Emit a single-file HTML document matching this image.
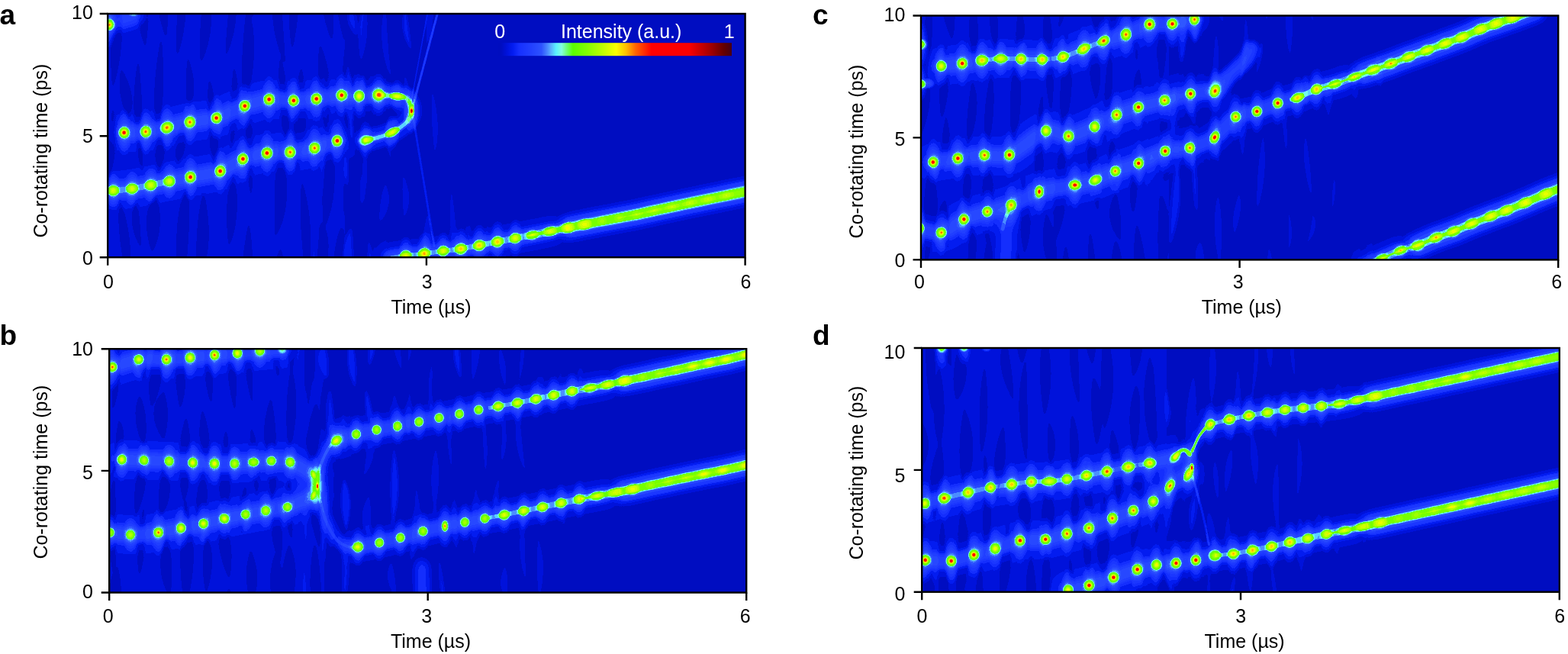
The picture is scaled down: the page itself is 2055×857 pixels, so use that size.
<!DOCTYPE html>
<html lang="en"><head><meta charset="utf-8"><title>Soliton dynamics</title>
<style>html,body{margin:0;padding:0;background:#fff}body{width:2055px;height:857px;overflow:hidden}svg{display:block}text{font-family:"Liberation Sans",Arial,Helvetica,sans-serif;fill:#000}.lab{font-size:25px}.pl{font-size:37px;font-weight:bold}.w{fill:#fff}</style>
</head><body>
<svg width="2055" height="857" viewBox="0 0 2055 857">
<defs>
<filter id="jeta" filterUnits="userSpaceOnUse" x="121" y="-2" width="875" height="359" color-interpolation-filters="sRGB">
<feGaussianBlur stdDeviation="0.7"/>
<feComponentTransfer><feFuncR type="discrete" tableValues="0.000 0.000 0.012 0.080 0.107 0.131 0.155 0.187 0.295 0.353 0.454 0.451 0.375 0.399 0.466 0.539 0.626 0.712 0.808 0.909 0.984 0.995 1.000 1.000 1.000 1.000 0.999 0.996 0.993 0.990 0.987 0.984 0.981 0.906 0.811 0.720 0.629 0.521 0.412 0.319"/><feFuncG type="discrete" tableValues="0.051 0.071 0.110 0.181 0.216 0.248 0.286 0.342 0.557 0.831 0.979 1.000 1.000 1.000 1.000 1.000 1.000 1.000 1.000 1.000 0.956 0.807 0.617 0.397 0.252 0.107 0.000 0.000 0.000 0.000 0.000 0.000 0.000 0.000 0.000 0.000 0.000 0.000 0.000 0.000"/><feFuncB type="discrete" tableValues="0.757 0.859 0.945 0.995 1.000 1.000 1.000 1.000 1.000 1.000 0.924 0.574 0.131 0.000 0.000 0.000 0.000 0.000 0.000 0.000 0.000 0.000 0.000 0.000 0.000 0.000 0.000 0.000 0.000 0.000 0.000 0.000 0.000 0.000 0.000 0.000 0.000 0.000 0.000 0.049"/><feFuncA type="linear" slope="0" intercept="1"/></feComponentTransfer>
<feGaussianBlur stdDeviation="0.55"/>
</filter>
<filter id="b2a" filterUnits="userSpaceOnUse" x="121" y="-2" width="875" height="359" color-interpolation-filters="sRGB"><feGaussianBlur stdDeviation="1.6"/></filter>
<filter id="b3a" filterUnits="userSpaceOnUse" x="121" y="-2" width="875" height="359" color-interpolation-filters="sRGB"><feGaussianBlur stdDeviation="3"/></filter>
<filter id="b6a" filterUnits="userSpaceOnUse" x="121" y="-2" width="875" height="359" color-interpolation-filters="sRGB"><feGaussianBlur stdDeviation="6"/></filter>
<filter id="jetb" filterUnits="userSpaceOnUse" x="123" y="437" width="875" height="359" color-interpolation-filters="sRGB">
<feGaussianBlur stdDeviation="0.7"/>
<feComponentTransfer><feFuncR type="discrete" tableValues="0.000 0.000 0.012 0.080 0.107 0.131 0.155 0.187 0.295 0.353 0.454 0.451 0.375 0.399 0.466 0.539 0.626 0.712 0.808 0.909 0.984 0.995 1.000 1.000 1.000 1.000 0.999 0.996 0.993 0.990 0.987 0.984 0.981 0.906 0.811 0.720 0.629 0.521 0.412 0.319"/><feFuncG type="discrete" tableValues="0.051 0.071 0.110 0.181 0.216 0.248 0.286 0.342 0.557 0.831 0.979 1.000 1.000 1.000 1.000 1.000 1.000 1.000 1.000 1.000 0.956 0.807 0.617 0.397 0.252 0.107 0.000 0.000 0.000 0.000 0.000 0.000 0.000 0.000 0.000 0.000 0.000 0.000 0.000 0.000"/><feFuncB type="discrete" tableValues="0.757 0.859 0.945 0.995 1.000 1.000 1.000 1.000 1.000 1.000 0.924 0.574 0.131 0.000 0.000 0.000 0.000 0.000 0.000 0.000 0.000 0.000 0.000 0.000 0.000 0.000 0.000 0.000 0.000 0.000 0.000 0.000 0.000 0.000 0.000 0.000 0.000 0.000 0.000 0.049"/><feFuncA type="linear" slope="0" intercept="1"/></feComponentTransfer>
<feGaussianBlur stdDeviation="0.55"/>
</filter>
<filter id="b2b" filterUnits="userSpaceOnUse" x="123" y="437" width="875" height="359" color-interpolation-filters="sRGB"><feGaussianBlur stdDeviation="1.6"/></filter>
<filter id="b3b" filterUnits="userSpaceOnUse" x="123" y="437" width="875" height="359" color-interpolation-filters="sRGB"><feGaussianBlur stdDeviation="3"/></filter>
<filter id="b6b" filterUnits="userSpaceOnUse" x="123" y="437" width="875" height="359" color-interpolation-filters="sRGB"><feGaussianBlur stdDeviation="6"/></filter>
<filter id="jetc" filterUnits="userSpaceOnUse" x="1187" y="0" width="875" height="360" color-interpolation-filters="sRGB">
<feGaussianBlur stdDeviation="0.7"/>
<feComponentTransfer><feFuncR type="discrete" tableValues="0.000 0.000 0.012 0.080 0.107 0.131 0.155 0.187 0.295 0.353 0.454 0.451 0.375 0.399 0.466 0.539 0.626 0.712 0.808 0.909 0.984 0.995 1.000 1.000 1.000 1.000 0.999 0.996 0.993 0.990 0.987 0.984 0.981 0.906 0.811 0.720 0.629 0.521 0.412 0.319"/><feFuncG type="discrete" tableValues="0.051 0.071 0.110 0.181 0.216 0.248 0.286 0.342 0.557 0.831 0.979 1.000 1.000 1.000 1.000 1.000 1.000 1.000 1.000 1.000 0.956 0.807 0.617 0.397 0.252 0.107 0.000 0.000 0.000 0.000 0.000 0.000 0.000 0.000 0.000 0.000 0.000 0.000 0.000 0.000"/><feFuncB type="discrete" tableValues="0.757 0.859 0.945 0.995 1.000 1.000 1.000 1.000 1.000 1.000 0.924 0.574 0.131 0.000 0.000 0.000 0.000 0.000 0.000 0.000 0.000 0.000 0.000 0.000 0.000 0.000 0.000 0.000 0.000 0.000 0.000 0.000 0.000 0.000 0.000 0.000 0.000 0.000 0.000 0.049"/><feFuncA type="linear" slope="0" intercept="1"/></feComponentTransfer>
<feGaussianBlur stdDeviation="0.55"/>
</filter>
<filter id="b2c" filterUnits="userSpaceOnUse" x="1187" y="0" width="875" height="360" color-interpolation-filters="sRGB"><feGaussianBlur stdDeviation="1.6"/></filter>
<filter id="b3c" filterUnits="userSpaceOnUse" x="1187" y="0" width="875" height="360" color-interpolation-filters="sRGB"><feGaussianBlur stdDeviation="3"/></filter>
<filter id="b6c" filterUnits="userSpaceOnUse" x="1187" y="0" width="875" height="360" color-interpolation-filters="sRGB"><feGaussianBlur stdDeviation="6"/></filter>
<filter id="jetd" filterUnits="userSpaceOnUse" x="1188" y="436" width="876" height="360" color-interpolation-filters="sRGB">
<feGaussianBlur stdDeviation="0.7"/>
<feComponentTransfer><feFuncR type="discrete" tableValues="0.000 0.000 0.012 0.080 0.107 0.131 0.155 0.187 0.295 0.353 0.454 0.451 0.375 0.399 0.466 0.539 0.626 0.712 0.808 0.909 0.984 0.995 1.000 1.000 1.000 1.000 0.999 0.996 0.993 0.990 0.987 0.984 0.981 0.906 0.811 0.720 0.629 0.521 0.412 0.319"/><feFuncG type="discrete" tableValues="0.051 0.071 0.110 0.181 0.216 0.248 0.286 0.342 0.557 0.831 0.979 1.000 1.000 1.000 1.000 1.000 1.000 1.000 1.000 1.000 0.956 0.807 0.617 0.397 0.252 0.107 0.000 0.000 0.000 0.000 0.000 0.000 0.000 0.000 0.000 0.000 0.000 0.000 0.000 0.000"/><feFuncB type="discrete" tableValues="0.757 0.859 0.945 0.995 1.000 1.000 1.000 1.000 1.000 1.000 0.924 0.574 0.131 0.000 0.000 0.000 0.000 0.000 0.000 0.000 0.000 0.000 0.000 0.000 0.000 0.000 0.000 0.000 0.000 0.000 0.000 0.000 0.000 0.000 0.000 0.000 0.000 0.000 0.000 0.049"/><feFuncA type="linear" slope="0" intercept="1"/></feComponentTransfer>
<feGaussianBlur stdDeviation="0.55"/>
</filter>
<filter id="b2d" filterUnits="userSpaceOnUse" x="1188" y="436" width="876" height="360" color-interpolation-filters="sRGB"><feGaussianBlur stdDeviation="1.6"/></filter>
<filter id="b3d" filterUnits="userSpaceOnUse" x="1188" y="436" width="876" height="360" color-interpolation-filters="sRGB"><feGaussianBlur stdDeviation="3"/></filter>
<filter id="b6d" filterUnits="userSpaceOnUse" x="1188" y="436" width="876" height="360" color-interpolation-filters="sRGB"><feGaussianBlur stdDeviation="6"/></filter>
<radialGradient id="r"><stop offset="0.000" stop-color="#fff" stop-opacity="0.737"/><stop offset="0.084" stop-color="#fff" stop-opacity="0.632"/><stop offset="0.158" stop-color="#fff" stop-opacity="0.539"/><stop offset="0.242" stop-color="#fff" stop-opacity="0.421"/><stop offset="0.316" stop-color="#fff" stop-opacity="0.342"/><stop offset="0.389" stop-color="#fff" stop-opacity="0.263"/><stop offset="0.474" stop-color="#fff" stop-opacity="0.184"/><stop offset="0.674" stop-color="#fff" stop-opacity="0.118"/><stop offset="0.737" stop-color="#fff" stop-opacity="0.079"/><stop offset="0.789" stop-color="#fff" stop-opacity="0.013"/><stop offset="1.000" stop-color="#fff" stop-opacity="0.000"/></radialGradient>
<radialGradient id="d"><stop offset="0.000" stop-color="#fff" stop-opacity="0.987"/><stop offset="0.084" stop-color="#fff" stop-opacity="0.895"/><stop offset="0.158" stop-color="#fff" stop-opacity="0.711"/><stop offset="0.232" stop-color="#fff" stop-opacity="0.553"/><stop offset="0.295" stop-color="#fff" stop-opacity="0.421"/><stop offset="0.358" stop-color="#fff" stop-opacity="0.342"/><stop offset="0.421" stop-color="#fff" stop-opacity="0.263"/><stop offset="0.484" stop-color="#fff" stop-opacity="0.184"/><stop offset="0.674" stop-color="#fff" stop-opacity="0.118"/><stop offset="0.737" stop-color="#fff" stop-opacity="0.079"/><stop offset="0.789" stop-color="#fff" stop-opacity="0.013"/><stop offset="1.000" stop-color="#fff" stop-opacity="0.000"/></radialGradient>
<radialGradient id="o"><stop offset="0.000" stop-color="#fff" stop-opacity="0.487"/><stop offset="0.126" stop-color="#fff" stop-opacity="0.434"/><stop offset="0.232" stop-color="#fff" stop-opacity="0.355"/><stop offset="0.337" stop-color="#fff" stop-opacity="0.276"/><stop offset="0.442" stop-color="#fff" stop-opacity="0.197"/><stop offset="0.674" stop-color="#fff" stop-opacity="0.118"/><stop offset="0.737" stop-color="#fff" stop-opacity="0.079"/><stop offset="0.789" stop-color="#fff" stop-opacity="0.013"/><stop offset="1.000" stop-color="#fff" stop-opacity="0.000"/></radialGradient>
<radialGradient id="y"><stop offset="0.000" stop-color="#fff" stop-opacity="0.355"/><stop offset="0.158" stop-color="#fff" stop-opacity="0.329"/><stop offset="0.316" stop-color="#fff" stop-opacity="0.263"/><stop offset="0.442" stop-color="#fff" stop-opacity="0.197"/><stop offset="0.674" stop-color="#fff" stop-opacity="0.118"/><stop offset="0.737" stop-color="#fff" stop-opacity="0.079"/><stop offset="0.789" stop-color="#fff" stop-opacity="0.013"/><stop offset="1.000" stop-color="#fff" stop-opacity="0.000"/></radialGradient>
<radialGradient id="g"><stop offset="0.000" stop-color="#fff" stop-opacity="0.263"/><stop offset="0.222" stop-color="#fff" stop-opacity="0.237"/><stop offset="0.444" stop-color="#fff" stop-opacity="0.184"/><stop offset="0.667" stop-color="#fff" stop-opacity="0.118"/><stop offset="0.733" stop-color="#fff" stop-opacity="0.079"/><stop offset="0.789" stop-color="#fff" stop-opacity="0.013"/><stop offset="1.000" stop-color="#fff" stop-opacity="0.000"/></radialGradient>
<radialGradient id="c"><stop offset="0.000" stop-color="#fff" stop-opacity="0.157"/><stop offset="0.429" stop-color="#fff" stop-opacity="0.120"/><stop offset="0.714" stop-color="#fff" stop-opacity="0.072"/><stop offset="1.000" stop-color="#fff" stop-opacity="0.000"/></radialGradient>
<radialGradient id="to"><stop offset="0.000" stop-color="#fff" stop-opacity="0.310"/><stop offset="0.286" stop-color="#fff" stop-opacity="0.220"/><stop offset="0.571" stop-color="#fff" stop-opacity="0.100"/><stop offset="1.000" stop-color="#fff" stop-opacity="0.000"/></radialGradient>
<radialGradient id="ty"><stop offset="0.000" stop-color="#fff" stop-opacity="0.200"/><stop offset="0.357" stop-color="#fff" stop-opacity="0.140"/><stop offset="0.714" stop-color="#fff" stop-opacity="0.050"/><stop offset="1.000" stop-color="#fff" stop-opacity="0.000"/></radialGradient>
<radialGradient id="tg"><stop offset="0.000" stop-color="#fff" stop-opacity="0.100"/><stop offset="0.429" stop-color="#fff" stop-opacity="0.060"/><stop offset="1.000" stop-color="#fff" stop-opacity="0.000"/></radialGradient>
<radialGradient id="sp"><stop offset="0.000" stop-color="#fff" stop-opacity="0.110"/><stop offset="0.450" stop-color="#fff" stop-opacity="0.070"/><stop offset="1.000" stop-color="#fff" stop-opacity="0.000"/></radialGradient>
<radialGradient id="wr"><stop offset="0.000" stop-color="#fff" stop-opacity="0.694"/><stop offset="0.173" stop-color="#fff" stop-opacity="0.528"/><stop offset="0.347" stop-color="#fff" stop-opacity="0.333"/><stop offset="0.560" stop-color="#fff" stop-opacity="0.194"/><stop offset="0.747" stop-color="#fff" stop-opacity="0.097"/><stop offset="0.880" stop-color="#fff" stop-opacity="0.028"/><stop offset="1.000" stop-color="#fff" stop-opacity="0.000"/></radialGradient>
<radialGradient id="wo"><stop offset="0.000" stop-color="#fff" stop-opacity="0.444"/><stop offset="0.200" stop-color="#fff" stop-opacity="0.389"/><stop offset="0.400" stop-color="#fff" stop-opacity="0.292"/><stop offset="0.587" stop-color="#fff" stop-opacity="0.181"/><stop offset="0.747" stop-color="#fff" stop-opacity="0.097"/><stop offset="0.880" stop-color="#fff" stop-opacity="0.028"/><stop offset="1.000" stop-color="#fff" stop-opacity="0.000"/></radialGradient>
<radialGradient id="wy"><stop offset="0.000" stop-color="#fff" stop-opacity="0.306"/><stop offset="0.333" stop-color="#fff" stop-opacity="0.250"/><stop offset="0.587" stop-color="#fff" stop-opacity="0.167"/><stop offset="0.747" stop-color="#fff" stop-opacity="0.097"/><stop offset="0.880" stop-color="#fff" stop-opacity="0.028"/><stop offset="1.000" stop-color="#fff" stop-opacity="0.000"/></radialGradient>
<radialGradient id="wg"><stop offset="0.000" stop-color="#fff" stop-opacity="0.208"/><stop offset="0.429" stop-color="#fff" stop-opacity="0.167"/><stop offset="0.714" stop-color="#fff" stop-opacity="0.097"/><stop offset="0.886" stop-color="#fff" stop-opacity="0.028"/><stop offset="1.000" stop-color="#fff" stop-opacity="0.000"/></radialGradient>
<radialGradient id="m"><stop offset="0.000" stop-color="#fff" stop-opacity="0.240"/><stop offset="0.200" stop-color="#fff" stop-opacity="0.200"/><stop offset="0.400" stop-color="#fff" stop-opacity="0.160"/><stop offset="0.600" stop-color="#fff" stop-opacity="0.130"/><stop offset="0.700" stop-color="#fff" stop-opacity="0.080"/><stop offset="0.800" stop-color="#fff" stop-opacity="0.030"/><stop offset="1.000" stop-color="#fff" stop-opacity="0.000"/></radialGradient>
<radialGradient id="mo"><stop offset="0.000" stop-color="#fff" stop-opacity="0.360"/><stop offset="0.120" stop-color="#fff" stop-opacity="0.300"/><stop offset="0.240" stop-color="#fff" stop-opacity="0.220"/><stop offset="0.400" stop-color="#fff" stop-opacity="0.160"/><stop offset="0.600" stop-color="#fff" stop-opacity="0.130"/><stop offset="0.700" stop-color="#fff" stop-opacity="0.080"/><stop offset="0.800" stop-color="#fff" stop-opacity="0.030"/><stop offset="1.000" stop-color="#fff" stop-opacity="0.000"/></radialGradient>
<linearGradient id="cb" x1="0" x2="1" y1="0" y2="0"><stop offset="0.000" stop-color="#000dbe"/><stop offset="0.013" stop-color="#000dc1"/><stop offset="0.037" stop-color="#0012db"/><stop offset="0.062" stop-color="#031cf1"/><stop offset="0.090" stop-color="#1630ff"/><stop offset="0.140" stop-color="#2240ff"/><stop offset="0.185" stop-color="#2d52ff"/><stop offset="0.208" stop-color="#4682ff"/><stop offset="0.225" stop-color="#5aafff"/><stop offset="0.247" stop-color="#5af0ff"/><stop offset="0.271" stop-color="#82ffe1"/><stop offset="0.293" stop-color="#6eff78"/><stop offset="0.320" stop-color="#5aff00"/><stop offset="0.379" stop-color="#82ff00"/><stop offset="0.447" stop-color="#beff00"/><stop offset="0.505" stop-color="#faff00"/><stop offset="0.548" stop-color="#ffbe00"/><stop offset="0.588" stop-color="#ff6400"/><stop offset="0.629" stop-color="#ff2800"/><stop offset="0.656" stop-color="#ff0000"/><stop offset="0.818" stop-color="#fa0000"/><stop offset="0.859" stop-color="#d20000"/><stop offset="0.913" stop-color="#a00000"/><stop offset="0.967" stop-color="#640000"/><stop offset="1.000" stop-color="#460014"/></linearGradient>
<clipPath id="cpa"><rect x="141.2" y="18.0" width="835.4" height="319.2"/></clipPath>
<clipPath id="cpb"><rect x="143.2" y="457.2" width="835.0" height="319.3"/></clipPath>
<clipPath id="cpc"><rect x="1207.0" y="20.5" width="835.2" height="319.9"/></clipPath>
<clipPath id="cpd"><rect x="1208.2" y="456.0" width="835.6" height="319.7"/></clipPath>
</defs>
<g clip-path="url(#cpa)"><g filter="url(#jeta)">
<rect x="121.2" y="-2.0" width="875.4" height="359.2" fill="#000"/>
<g stroke="none" filter="url(#b2a)">
<linearGradient id="txa0" x1="0" x2="1" y1="0" y2="0"><stop offset="0" stop-color="#fff" stop-opacity="0.040"/><stop offset="0.674" stop-color="#fff" stop-opacity="0.040"/><stop offset="1" stop-color="#fff" stop-opacity="0"/></linearGradient>
<rect x="121" y="-2" width="419" height="359" fill="url(#txa0)"/>
<path d="M154.1 -27.2 q13.9 77.2 -6.3 143.2 q-7.2 -84.2 6.3 -143.2 z" fill="#000" fill-opacity="0.86"/>
<path d="M158.9 89.2 q22.6 37.2 9.6 68.2 q-17.4 -36.4 -9.6 -68.2 z" fill="#000" fill-opacity="0.66"/>
<path d="M148.4 140.7 q10.5 51.9 -9.4 107.6 q-2.3 -64.8 9.4 -107.6 z" fill="#000" fill-opacity="0.73"/>
<path d="M156.8 258.4 q21.2 63.2 10 105 q-15.3 -59 -10 -105 z" fill="#000" fill-opacity="0.75"/>
<path d="M181.3 -66.4 q21.9 45.2 9.2 129 q-20 -53.3 -9.2 -129 z" fill="#000" fill-opacity="0.79"/>
<path d="M181.2 77.9 q6.5 55.8 5.6 148.2 q-19.4 -66.7 -5.6 -148.2 z" fill="#000" fill-opacity="0.87"/>
<path d="M179.1 254.9 q5.3 36.6 5.9 70.6 q-21.5 -34.2 -5.9 -70.6 z" fill="#000" fill-opacity="0.67"/>
<path d="M208.2 -20.5 q16.2 31.1 9.4 70.5 q-15.9 -43.4 -9.4 -70.5 z" fill="#000" fill-opacity="0.74"/>
<path d="M211.3 49.1 q6.5 79.6 -5.7 136.9 q-8.5 -61.4 5.7 -136.9 z" fill="#000" fill-opacity="1.00"/>
<path d="M210.5 160 q10.8 43.4 -2.6 68.1 q-9.7 -33.7 2.6 -68.1 z" fill="#000" fill-opacity="0.86"/>
<path d="M204.5 254.1 q11.9 43.7 -5 76.5 q-16.8 -48.3 5 -76.5 z" fill="#000" fill-opacity="0.94"/>
<path d="M237.2 -23.7 q13.2 41.8 -5.2 97.9 q-1.4 -58.5 5.2 -97.9 z" fill="#000" fill-opacity="0.99"/>
<path d="M245.9 74.1 q15.8 40.5 1.2 75.8 q-5.7 -32.9 -1.2 -75.8 z" fill="#000" fill-opacity="0.73"/>
<path d="M239.6 156.2 q11.1 32.1 -6.5 61.5 q-8.8 -23.9 6.5 -61.5 z" fill="#000" fill-opacity="0.67"/>
<path d="M245 241.5 q7.7 52.7 -7.2 148.2 q-15.4 -92.4 7.2 -148.2 z" fill="#000" fill-opacity="0.85"/>
<path d="M271.7 -21.1 q12.9 59.1 -8.5 103.4 q-2.9 -64.1 8.5 -103.4 z" fill="#000" fill-opacity="1.00"/>
<path d="M274.3 102.3 q18.4 62.4 8 131.4 q-14.5 -77.1 -8 -131.4 z" fill="#000" fill-opacity="0.89"/>
<path d="M266.8 251.2 q16.5 75.3 -8.4 116.2 q-3.6 -71.4 8.4 -116.2 z" fill="#000" fill-opacity="0.86"/>
<path d="M305.3 -25.5 q11.9 49.3 -9.4 99.6 q0.8 -41.8 9.4 -99.6 z" fill="#000" fill-opacity="0.91"/>
<path d="M306.5 85 q14.5 47.4 -4 115.3 q-4.8 -46.2 4 -115.3 z" fill="#000" fill-opacity="0.65"/>
<path d="M306.1 223.4 q11.1 59 -6 99.8 q-7.3 -62.3 6 -99.8 z" fill="#000" fill-opacity="0.88"/>
<path d="M298 335 q16.3 63.4 6.7 112.5 q-11.9 -71.4 -6.7 -112.5 z" fill="#000" fill-opacity="0.82"/>
<path d="M328.9 -50 q20 51.1 -3.7 79.3 q-5.5 -38.5 3.7 -79.3 z" fill="#000" fill-opacity="0.82"/>
<path d="M323.7 8.5 q19.9 49.3 -3.8 138.6 q-6.8 -54.1 3.8 -138.6 z" fill="#000" fill-opacity="0.85"/>
<path d="M326.5 125.4 q9.9 72.6 2.6 134.7 q-14.2 -73.6 -2.6 -134.7 z" fill="#000" fill-opacity="0.67"/>
<path d="M325.9 290.6 q13 68.6 -9.8 121.6 q-4.1 -49.1 9.8 -121.6 z" fill="#000" fill-opacity="0.71"/>
<path d="M365.5 -30.4 q6.1 72.6 8.1 115.3 q-27.5 -65.3 -8.1 -115.3 z" fill="#000" fill-opacity="0.93"/>
<path d="M367.7 73 q17.4 73.6 7.6 116.3 q-15.5 -56.9 -7.6 -116.3 z" fill="#000" fill-opacity="0.85"/>
<path d="M366.4 185.3 q21.1 80.5 -5.7 125 q-2.6 -80.4 5.7 -125 z" fill="#000" fill-opacity="0.90"/>
<path d="M367.7 324.6 q15.5 45.8 -8.3 88.8 q-9 -51.6 8.3 -88.8 z" fill="#000" fill-opacity="0.77"/>
<path d="M390.1 -66.9 q6.7 66.6 -7.2 132 q-10.7 -74.8 7.2 -132 z" fill="#000" fill-opacity="0.93"/>
<path d="M394.6 86.4 q17.6 63.4 -5.6 145.1 q-11.2 -82.5 5.6 -145.1 z" fill="#000" fill-opacity="0.68"/>
<path d="M395.6 236.7 q18.5 56.1 6.9 135.9 q-12.6 -82.3 -6.9 -135.9 z" fill="#000" fill-opacity="0.78"/>
<path d="M425.4 -55.9 q14.7 50.9 9.4 108.2 q-23.6 -63.9 -9.4 -108.2 z" fill="#000" fill-opacity="0.66"/>
<path d="M419.3 57.8 q20.7 52.6 9.1 122.2 q-16.3 -60.1 -9.1 -122.2 z" fill="#000" fill-opacity="0.79"/>
<path d="M431 165.3 q15.3 83.7 -6.2 133.4 q-5.4 -51.9 6.2 -133.4 z" fill="#000" fill-opacity="0.76"/>
<path d="M421.6 290.8 q17 29.6 -2.9 77.5 q-10.3 -44.1 2.9 -77.5 z" fill="#000" fill-opacity="0.76"/>
<path d="M452.2 -56.2 q7.2 44.3 0.6 107.7 q-18.6 -58.1 -0.6 -107.7 z" fill="#000" fill-opacity="0.79"/>
<path d="M454.7 61.1 q21.4 84.8 4.8 136.6 q-16.3 -60.8 -4.8 -136.6 z" fill="#000" fill-opacity="0.73"/>
<path d="M460.1 206.5 q20.3 34.1 -5.2 79.6 q-7.9 -30.2 5.2 -79.6 z" fill="#000" fill-opacity="0.70"/>
<path d="M447.9 299 q8 72.7 -9.6 131.1 q-8 -81.7 9.6 -131.1 z" fill="#000" fill-opacity="0.89"/>
<path d="M485.8 -11.3 q3.7 54.3 -7.9 105.3 q-10.6 -53.1 7.9 -105.3 z" fill="#000" fill-opacity="0.67"/>
<path d="M479 86.1 q9.8 28.2 8.5 76.6 q-31.3 -48.7 -8.5 -76.6 z" fill="#000" fill-opacity="1.00"/>
<path d="M482.7 181 q5.9 50.1 2 89.4 q-23.5 -53.9 -2 -89.4 z" fill="#000" fill-opacity="0.80"/>
<path d="M481.8 266.6 q3.4 78.2 0.3 126.5 q-19.2 -74.7 -0.3 -126.5 z" fill="#000" fill-opacity="0.71"/>
<path d="M514.4 -39.6 q24 65.3 -4.8 114 q-6 -66.5 4.8 -114 z" fill="#000" fill-opacity="0.93"/>
<path d="M519.7 84.2 q13.7 79.7 5.3 140.7 q-22 -52.2 -5.3 -140.7 z" fill="#000" fill-opacity="0.92"/>
<path d="M512.3 215.9 q21.8 33.5 -5.4 61 q-2.2 -27.5 5.4 -61 z" fill="#000" fill-opacity="0.87"/>
<path d="M512.8 293.4 q21.8 69.5 4 108 q-17.4 -38.5 -4 -108 z" fill="#000" fill-opacity="0.87"/>
<path d="M419.5 -39 q7.8 27 8.1 53.7 q-14.3 -34.4 -8.1 -53.7 z" fill="#fff" fill-opacity="0.02"/>
<path d="M425.6 82.8 q-0.4 53.3 5.2 84.7 q-19.4 -33.7 -5.2 -84.7 z" fill="#fff" fill-opacity="0.02"/>
<path d="M422.8 182.7 q7.2 39.5 -1.6 74.7 q-4.8 -34.3 1.6 -74.7 z" fill="#fff" fill-opacity="0.02"/>
<path d="M418.2 298.1 q6.9 28.8 -9.7 79.2 q-5.3 -31.5 9.7 -79.2 z" fill="#fff" fill-opacity="0.02"/>
<path d="M459.4 2.9 q11.3 21.5 8.1 43.5 q-21.7 -27.9 -8.1 -43.5 z" fill="#fff" fill-opacity="0.03"/>
<path d="M455.7 82.3 q11.1 40.6 6.3 105.6 q-14.1 -56.7 -6.3 -105.6 z" fill="#fff" fill-opacity="0.05"/>
<path d="M453 203.4 q6.5 18.7 3.4 43.6 q-11.3 -22.9 -3.4 -43.6 z" fill="#fff" fill-opacity="0.04"/>
<path d="M459.5 300.5 q6.3 47.7 -5.2 77.2 q-13.4 -45.2 5.2 -77.2 z" fill="#fff" fill-opacity="0.04"/>
<path d="M479.9 -0.9 q6.4 51.2 -6.2 79.5 q-8.3 -49.7 6.2 -79.5 z" fill="#fff" fill-opacity="0.04"/>
<path d="M475.5 96.1 q9.8 16.5 -8 44.3 q-0.5 -16.6 8 -44.3 z" fill="#fff" fill-opacity="0.04"/>
<path d="M476.9 183.5 q13.4 50.6 -3.1 84.2 q-2.4 -31.3 3.1 -84.2 z" fill="#fff" fill-opacity="0.03"/>
<path d="M482.4 312.4 q12.7 38.5 -4.8 83.7 q2 -45.7 4.8 -83.7 z" fill="#fff" fill-opacity="0.04"/>
<path d="M506.1 2.8 q2 39.2 7.5 104.5 q-23 -54.2 -7.5 -104.5 z" fill="#fff" fill-opacity="0.03"/>
<path d="M510.9 152.6 q0.2 26.9 3.2 60.9 q-16.8 -34.6 -3.2 -60.9 z" fill="#fff" fill-opacity="0.03"/>
<path d="M505.1 241 q14.4 26 -7.7 50 q-0 -31.3 7.7 -50 z" fill="#fff" fill-opacity="0.04"/>
<path d="M532 6.2 q4.9 28.1 7.9 61.3 q-20.9 -28.2 -7.9 -61.3 z" fill="#fff" fill-opacity="0.05"/>
<path d="M530.3 95.7 q15.4 34.8 0.8 67.1 q-5.4 -27.1 -0.8 -67.1 z" fill="#fff" fill-opacity="0.04"/>
<path d="M527.9 227.5 q17.2 32.6 1.3 59.7 q-3.6 -35.3 -1.3 -59.7 z" fill="#fff" fill-opacity="0.04"/>
<path d="M528.7 319.2 q0.3 51.4 8 95.2 q-21.5 -37.4 -8 -95.2 z" fill="#fff" fill-opacity="0.04"/>
<path d="M560.7 -28.8 q18.8 51.6 -3.2 93.6 q-0.6 -46.6 3.2 -93.6 z" fill="#fff" fill-opacity="0.03"/>
<path d="M566.2 114.4 q14.7 53 3.3 89.6 q-6.7 -53.8 -3.3 -89.6 z" fill="#fff" fill-opacity="0.04"/>
<path d="M560.7 277.4 q9.7 33.4 -1.6 84.8 q-10.6 -48.5 1.6 -84.8 z" fill="#fff" fill-opacity="0.04"/>
<path d="M582.7 -29.7 q6.4 38 -3.8 69.7 q-14.9 -40.6 3.8 -69.7 z" fill="#fff" fill-opacity="0.02"/>
<path d="M586.8 43.6 q7.2 29.9 -7.8 72.1 q-9.4 -30.3 7.8 -72.1 z" fill="#fff" fill-opacity="0.02"/>
<path d="M581.2 162.4 q5.2 28.6 5.2 55.7 q-16.4 -33.1 -5.2 -55.7 z" fill="#fff" fill-opacity="0.02"/>
<path d="M591.4 240.6 q8.3 42.5 9.1 102.1 q-18 -37.3 -9.1 -102.1 z" fill="#fff" fill-opacity="0.03"/>
<path d="M609.5 -10.3 q4.9 37.4 -5.2 76.1 q-15.3 -35.1 5.2 -76.1 z" fill="#fff" fill-opacity="0.02"/>
<path d="M607.9 121.5 q13.3 41.6 -4.8 82.4 q3.3 -44.6 4.8 -82.4 z" fill="#fff" fill-opacity="0.02"/>
<path d="M607.8 238 q16.9 46.2 6.4 77.4 q-12.2 -29 -6.4 -77.4 z" fill="#fff" fill-opacity="0.02"/>
<path d="M643.6 -13.2 q14.8 34.6 -3.9 72.8 q-1.6 -45.5 3.9 -72.8 z" fill="#fff" fill-opacity="0.02"/>
<path d="M637.9 106.6 q6.7 24.2 6.6 54.6 q-19.4 -20.4 -6.6 -54.6 z" fill="#fff" fill-opacity="0.01"/>
<path d="M635.3 193.3 q10.2 57.6 -2.1 90.1 q-9.3 -53.9 2.1 -90.1 z" fill="#fff" fill-opacity="0.01"/>
<path d="M640.2 293.8 q0.1 43 -0.8 66.4 q-14.9 -39.2 0.8 -66.4 z" fill="#fff" fill-opacity="0.02"/>
</g>
<g fill="none" stroke="#fff" stroke-linecap="round" stroke-linejoin="round" filter="url(#b6a)">
<path d="M162.6 173.8 C167.3 173.6 181.5 173.7 190.9 172.6 C200.3 171.5 209.1 169.3 218.8 167.2 C228.5 165.1 238.1 162.1 248.9 160 C259.7 157.9 271.5 158.1 283.5 154.6 C295.5 151.1 309.3 142.9 320.8 138.8 C332.3 134.7 342 131.4 352.7 130.2 C363.4 129 374.5 131.9 384.9 131.8 C395.2 131.7 404.3 130.7 414.8 129.5 C425.3 128.3 438.5 125.4 447.8 124.8 C457.1 124.2 462.6 126 470.7 125.9 C478.8 125.8 492 124.6 496.3 124.3" stroke-width="52" stroke-opacity="0.025"/>
<path d="M162.6 173.8 C167.3 173.6 181.5 173.7 190.9 172.6 C200.3 171.5 209.1 169.3 218.8 167.2 C228.5 165.1 238.1 162.1 248.9 160 C259.7 157.9 271.5 158.1 283.5 154.6 C295.5 151.1 309.3 142.9 320.8 138.8 C332.3 134.7 342 131.4 352.7 130.2 C363.4 129 374.5 131.9 384.9 131.8 C395.2 131.7 404.3 130.7 414.8 129.5 C425.3 128.3 438.5 125.4 447.8 124.8 C457.1 124.2 462.6 126 470.7 125.9 C478.8 125.8 492 124.6 496.3 124.3" stroke-width="30" stroke-opacity="0.040"/>
<path d="M148.2 249.8 C152.3 249.4 164.9 248.4 173.1 247.2 C181.3 246 189.4 244.2 197.6 242.6 C205.8 241 213.4 239.2 222.1 237.5 C230.8 235.8 238.5 234.3 249.6 232.1 C260.7 229.9 277.1 228.2 288.6 224.2 C300.1 220.2 308.2 212.2 318.4 208.3 C328.6 204.4 339.6 202.1 349.9 200.6 C360.2 199.1 369.9 200.5 380.3 199.4 C390.7 198.3 402 196.5 412.3 194 C422.6 191.5 437.1 186.1 442 184.5" stroke-width="52" stroke-opacity="0.025"/>
<path d="M148.2 249.8 C152.3 249.4 164.9 248.4 173.1 247.2 C181.3 246 189.4 244.2 197.6 242.6 C205.8 241 213.4 239.2 222.1 237.5 C230.8 235.8 238.5 234.3 249.6 232.1 C260.7 229.9 277.1 228.2 288.6 224.2 C300.1 220.2 308.2 212.2 318.4 208.3 C328.6 204.4 339.6 202.1 349.9 200.6 C360.2 199.1 369.9 200.5 380.3 199.4 C390.7 198.3 402 196.5 412.3 194 C422.6 191.5 437.1 186.1 442 184.5" stroke-width="30" stroke-opacity="0.040"/>
<path d="M141 30 C144.2 29 154.2 25.8 160 24 C165.8 22.2 173.3 19.8 176 19" stroke-width="26" stroke-opacity="0.100"/>
<path d="M512 337.5 C515.3 337.1 524.5 335.7 531.8 334.8 C539.1 333.9 547.6 333.4 555.8 332.4 C564 331.4 572.8 329.9 580.8 328.9 C588.8 327.8 596.2 327.3 604.1 326.1 C612 324.9 620.1 323.1 628.1 321.5 C636.1 319.9 644 318.4 651.9 316.8 C659.8 315.2 667.7 313.6 675.3 312.1 C682.9 310.6 689.9 309.5 697.5 308 C705.1 306.5 716.6 304.1 721 303.2 C725.4 302.3 723.5 302.7 724 302.6" stroke-width="52" stroke-opacity="0.025"/>
<path d="M512 337.5 C515.3 337.1 524.5 335.7 531.8 334.8 C539.1 333.9 547.6 333.4 555.8 332.4 C564 331.4 572.8 329.9 580.8 328.9 C588.8 327.8 596.2 327.3 604.1 326.1 C612 324.9 620.1 323.1 628.1 321.5 C636.1 319.9 644 318.4 651.9 316.8 C659.8 315.2 667.7 313.6 675.3 312.1 C682.9 310.6 689.9 309.5 697.5 308 C705.1 306.5 716.6 304.1 721 303.2 C725.4 302.3 723.5 302.7 724 302.6" stroke-width="30" stroke-opacity="0.040"/>
</g>
<g fill="none" stroke="#fff" stroke-linecap="round" stroke-linejoin="round" filter="url(#b3a)">
<path d="M162.6 173.8 C167.3 173.6 181.5 173.7 190.9 172.6 C200.3 171.5 209.1 169.3 218.8 167.2 C228.5 165.1 238.1 162.1 248.9 160 C259.7 157.9 271.5 158.1 283.5 154.6 C295.5 151.1 309.3 142.9 320.8 138.8 C332.3 134.7 342 131.4 352.7 130.2 C363.4 129 374.5 131.9 384.9 131.8 C395.2 131.7 404.3 130.7 414.8 129.5 C425.3 128.3 438.5 125.4 447.8 124.8 C457.1 124.2 462.6 126 470.7 125.9 C478.8 125.8 492 124.6 496.3 124.3" stroke-width="18" stroke-opacity="0.085"/>
<path d="M148.2 249.8 C152.3 249.4 164.9 248.4 173.1 247.2 C181.3 246 189.4 244.2 197.6 242.6 C205.8 241 213.4 239.2 222.1 237.5 C230.8 235.8 238.5 234.3 249.6 232.1 C260.7 229.9 277.1 228.2 288.6 224.2 C300.1 220.2 308.2 212.2 318.4 208.3 C328.6 204.4 339.6 202.1 349.9 200.6 C360.2 199.1 369.9 200.5 380.3 199.4 C390.7 198.3 402 196.5 412.3 194 C422.6 191.5 437.1 186.1 442 184.5" stroke-width="18" stroke-opacity="0.085"/>
<path d="M496.3 124.3 C499.4 124.5 509.3 125 515 125.5 C520.7 126 526.9 125.9 530.6 127.5 C534.3 129.1 535.5 132 537 135 C538.5 138 539.3 142.1 539.3 145.3 C539.3 148.5 538.5 151.1 537 154 C535.5 156.9 533.8 159.8 530 163 C526.2 166.2 520 170.5 514.3 173.3 C508.6 176.1 501.8 178.2 496 180 C490.2 181.8 482.1 183.2 479.3 183.8" stroke-width="26" stroke-opacity="0.070"/>
<path d="M512 337.5 C515.3 337.1 524.5 335.7 531.8 334.8 C539.1 333.9 547.6 333.4 555.8 332.4 C564 331.4 572.8 329.9 580.8 328.9 C588.8 327.8 596.2 327.3 604.1 326.1 C612 324.9 620.1 323.1 628.1 321.5 C636.1 319.9 644 318.4 651.9 316.8 C659.8 315.2 667.7 313.6 675.3 312.1 C682.9 310.6 689.9 309.5 697.5 308 C705.1 306.5 716.6 304.1 721 303.2 C725.4 302.3 723.5 302.7 724 302.6" stroke-width="18" stroke-opacity="0.085"/>
<path d="M750 297.3 C752.7 296.8 759.8 295.3 766.3 294 C772.8 292.7 781.5 291.1 789 289.7 C796.5 288.3 804 286.8 811.5 285.4 C819 284 826.4 282.7 834 281.1 C841.6 279.5 849.5 277.7 857.3 276 C865.1 274.3 872.8 272.7 880.6 271 C888.4 269.3 896.1 267.6 904 266 C911.9 264.4 920 262.7 928 261.1 C936 259.5 941.3 258.4 952 256.2 C962.7 254 985.3 249.4 992 248" stroke-width="40" stroke-opacity="0.060"/>
</g>
<g fill="none" stroke="#fff" stroke-linecap="round" stroke-linejoin="round" filter="url(#b2a)">
<path d="M750 297.3 C752.7 296.8 759.8 295.3 766.3 294 C772.8 292.7 781.5 291.1 789 289.7 C796.5 288.3 804 286.8 811.5 285.4 C819 284 826.4 282.7 834 281.1 C841.6 279.5 849.5 277.7 857.3 276 C865.1 274.3 872.8 272.7 880.6 271 C888.4 269.3 896.1 267.6 904 266 C911.9 264.4 920 262.7 928 261.1 C936 259.5 941.3 258.4 952 256.2 C962.7 254 985.3 249.4 992 248" stroke-width="27" stroke-opacity="0.070"/>
</g>
<g fill="none" stroke="#fff" stroke-linecap="round" stroke-linejoin="round">
<path d="M136 251 C138 250.8 142 250.4 148.2 249.8 C154.4 249.2 164.9 248.4 173.1 247.2 C181.3 246 189.4 244.2 197.6 242.6 C205.8 241 218 238.3 222.1 237.5" stroke-width="8" stroke-opacity="0.060"/>
<path d="M496.3 124.3 C499.4 124.5 509.3 125 515 125.5 C520.7 126 526.9 125.9 530.6 127.5 C534.3 129.1 535.5 132 537 135 C538.5 138 539.3 142.1 539.3 145.3 C539.3 148.5 538.5 151.1 537 154 C535.5 156.9 533.8 159.8 530 163 C526.2 166.2 520 170.5 514.3 173.3 C508.6 176.1 501.8 178.2 496 180 C490.2 181.8 482.1 183.2 479.3 183.8" stroke-width="9" stroke-opacity="0.090"/>
<path d="M496.3 124.3 C499.4 124.5 509.3 125 515 125.5 C520.7 126 526.9 125.9 530.6 127.5 C534.3 129.1 535.5 132 537 135 C538.5 138 539.3 142.1 539.3 145.3 C539.3 148.5 538.5 151.1 537 154 C535.5 156.9 533.8 159.8 530 163 C526.2 166.2 520 170.5 514.3 173.3 C508.6 176.1 501.8 178.2 496 180 C490.2 181.8 482.1 183.2 479.3 183.8" stroke-width="5" stroke-opacity="0.100"/>
<path d="M541 140 L573 19" stroke-width="3" stroke-opacity="0.100"/>
<path d="M541 150 L569 322" stroke-width="3" stroke-opacity="0.060"/>
<path d="M538 138 L560 19" stroke-width="2" stroke-opacity="0.050"/>
<path d="M750 297.3 C752.7 296.8 759.8 295.3 766.3 294 C772.8 292.7 781.5 291.1 789 289.7 C796.5 288.3 804 286.8 811.5 285.4 C819 284 826.4 282.7 834 281.1 C841.6 279.5 849.5 277.7 857.3 276 C865.1 274.3 872.8 272.7 880.6 271 C888.4 269.3 896.1 267.6 904 266 C911.9 264.4 920 262.7 928 261.1 C936 259.5 941.3 258.4 952 256.2 C962.7 254 985.3 249.4 992 248" stroke-width="18.5" stroke-opacity="0.050"/>
<path d="M512.3 340 L517.3 339.4 L522.4 338.7 L527.4 338.1 L532.3 337.5 L537.3 337 L542.3 336.6 L547.3 336.2 L552.3 335.7 L557.4 335.2 L562.4 334.6 L567.4 333.9 L572.4 333.3 L577.4 332.6 L582.4 332 L587.4 331.5 L592.4 330.9 L597.4 330.4 L602.4 329.8 L607.7 329 L612.7 328.1 L617.7 327.2 L622.7 326.3 L627.7 325.4 L632.7 324.5 L637.8 323.6 L642.8 322.6 L647.8 321.7 L652.8 320.8 L657.8 319.8 L662.8 318.9 L667.8 317.9 L672.8 317 L677.8 316.1 L682.8 315.2 L687.8 314.3 L692.8 313.5 L697.9 312.8 L703 312 L708 311.2 L713.1 310.3 L718.1 309.5 L723.2 308.7 L728.2 307.9 L733.2 307.1 L738.3 306.2 L743.3 305.4 L748.3 304.6 L753.4 303.6 L758.4 302.6 L763.4 301.7 L768.3 300.7 L773.3 299.8 L778.3 298.9 L783.3 298 L788.3 297.1 L793.4 296.2 L798.4 295.3 L803.4 294.4 L808.4 293.5 L813.4 292.5 L818.4 291.6 L823.4 290.7 L828.4 289.8 L833.4 288.9 L838.6 287.9 L843.6 286.8 L848.6 285.8 L853.6 284.7 L858.6 283.6 L863.6 282.5 L868.6 281.4 L873.6 280.4 L878.6 279.3 L883.6 278.2 L888.6 277.2 L893.6 276.1 L898.6 275 L903.6 274 L908.5 272.9 L913.5 271.9 L918.5 270.9 L923.5 269.9 L928.5 268.8 L933.5 267.8 L938.5 266.8 L943.5 265.8 L948.5 264.8 L953.5 263.7 L958.5 262.7 L963.5 261.7 L968.5 260.7 L973.5 259.6 L978.5 258.6 L983.5 257.6 L988.5 256.6 L993.5 255.5 L990.5 240.5 L985.5 241.5 L980.5 242.5 L975.5 243.5 L970.5 244.6 L965.5 245.6 L960.5 246.6 L955.5 247.6 L950.5 248.7 L945.5 249.7 L940.5 250.7 L935.5 251.7 L930.5 252.7 L925.5 253.8 L920.5 254.8 L915.5 255.8 L910.5 256.8 L905.5 257.8 L900.4 258.9 L895.4 260 L890.4 261 L885.4 262.1 L880.4 263.2 L875.4 264.2 L870.4 265.3 L865.4 266.4 L860.4 267.5 L855.4 268.5 L850.4 269.6 L845.4 270.8 L840.4 271.9 L835.4 273 L830.6 274.1 L825.6 275.1 L820.6 276.1 L815.6 277.1 L810.6 278.1 L805.6 279.1 L800.6 280.1 L795.6 281.1 L790.6 282.1 L785.7 283 L780.7 284 L775.7 285 L770.7 286 L765.7 287 L760.6 288.1 L755.6 289.1 L750.6 290.2 L745.7 291.2 L740.7 292.4 L735.7 293.6 L730.8 294.9 L725.8 296.1 L720.8 297.3 L715.9 298.5 L710.9 299.7 L706 301 L701 302.2 L696.1 303.4 L691.2 304.5 L686.2 305.5 L681.2 306.5 L676.2 307.5 L671.2 308.5 L666.2 309.6 L661.2 310.7 L656.2 311.7 L651.2 312.8 L646.2 313.8 L641.2 314.9 L636.2 315.9 L631.3 317 L626.3 318 L621.3 319 L616.3 320 L611.3 321 L606.3 322 L601.6 322.9 L596.6 323.5 L591.6 324.2 L586.6 324.8 L581.6 325.5 L576.6 326.2 L571.6 327 L566.6 327.7 L561.6 328.5 L556.6 329.3 L551.7 329.8 L546.7 330.4 L541.7 331 L536.7 331.5 L531.7 332.1 L526.6 332.8 L521.6 333.5 L516.7 334.3 L511.7 335 z" fill="#fff" fill-opacity="0.100" stroke="none"/>
<path d="M690.2 310.4 L695.2 309.8 L700.3 309.1 L705.4 308.4 L710.5 307.8 L715.5 307.1 L720.6 306.4 L725.7 305.7 L730.7 305 L735.8 304.3 L740.9 303.6 L745.9 302.9 L751 302 L756 301.1 L761 300.1 L766 299.2 L770.9 298.3 L776 297.4 L781 296.5 L786 295.6 L791 294.7 L796 293.8 L801 292.9 L806 292 L811 291.1 L816 290.2 L821 289.3 L826.1 288.4 L831.1 287.5 L836.2 286.5 L841.2 285.4 L846.3 284.4 L851.3 283.4 L856.3 282.3 L861.2 281.2 L866.2 280.1 L871.2 279 L876.2 278 L881.2 276.9 L886.2 275.8 L891.2 274.8 L896.2 273.7 L901.2 272.6 L906.2 271.6 L911.2 270.6 L916.2 269.5 L921.2 268.5 L926.2 267.5 L931.2 266.5 L936.2 265.5 L941.2 264.4 L946.2 263.4 L951.2 262.4 L956.2 261.4 L961.2 260.3 L966.2 259.3 L971.2 258.3 L976.2 257.3 L981.2 256.2 L986.2 255.2 L991.2 254.2 L993.2 253.8 L990.8 242.2 L988.8 242.6 L983.8 243.7 L978.8 244.7 L973.8 245.7 L968.8 246.7 L963.8 247.8 L958.8 248.8 L953.8 249.8 L948.8 250.8 L943.8 251.8 L938.8 252.9 L933.8 253.9 L928.8 254.9 L923.8 255.9 L918.8 257 L913.8 258 L908.8 259 L903.8 260 L898.8 261.1 L893.8 262.2 L888.8 263.2 L883.8 264.3 L878.8 265.4 L873.8 266.4 L868.8 267.5 L863.8 268.6 L858.8 269.7 L853.7 270.7 L848.7 271.8 L843.7 273 L838.8 274.1 L833.8 275.3 L828.9 276.3 L823.9 277.3 L819 278.3 L814 279.3 L809 280.3 L804 281.3 L799 282.3 L794 283.3 L789 284.3 L784 285.3 L779 286.3 L774 287.3 L769.1 288.3 L764 289.4 L759 290.4 L754 291.5 L749 292.5 L744.1 293.7 L739.1 295 L734.2 296.4 L729.3 297.7 L724.3 299.1 L719.4 300.4 L714.5 301.8 L709.5 303.1 L704.6 304.5 L699.7 305.8 L694.8 307.2 L689.8 308.4 z" fill="#fff" fill-opacity="0.140" stroke="none"/>
<path d="M810.1 286.2 L815.1 285.3 L820.1 284.5 L825.2 283.7 L830.2 282.8 L835.2 282 L840.3 281 L845.3 280 L850.3 279.1 L855.3 278.1 L860.4 277.1 L865.4 276.2 L870.4 275.2 L875.4 274.3 L880.5 273.3 L885.5 272.4 L890.5 271.4 L895.5 270.5 L900.6 269.5 L905.6 268.6 L910.6 267.7 L915.6 266.7 L920.6 265.7 L925.6 264.7 L930.6 263.6 L935.6 262.6 L940.6 261.6 L945.6 260.6 L950.6 259.5 L955.6 258.5 L960.6 257.5 L965.6 256.5 L970.6 255.4 L975.6 254.4 L980.6 253.4 L985.6 252.4 L990.6 251.3 L992.6 250.9 L991.4 245.1 L989.4 245.5 L984.4 246.5 L979.4 247.5 L974.4 248.5 L969.4 249.6 L964.4 250.6 L959.4 251.6 L954.4 252.6 L949.4 253.7 L944.4 254.7 L939.4 255.7 L934.4 256.7 L929.4 257.8 L924.4 258.8 L919.4 259.8 L914.4 260.8 L909.4 261.8 L904.4 263 L899.4 264.2 L894.5 265.4 L889.5 266.5 L884.5 267.7 L879.5 268.9 L874.6 270.1 L869.6 271.3 L864.6 272.5 L859.6 273.7 L854.7 274.9 L849.7 276.1 L844.7 277.3 L839.7 278.6 L834.8 279.8 L829.8 280.9 L824.8 282 L819.9 283 L814.9 284.1 L809.9 285.2 z" fill="#fff" fill-opacity="0.070" stroke="none"/>
</g>
<ellipse cx="162.6" cy="173.8" rx="10" ry="32" fill="url(#sp)"/>
<ellipse cx="162.6" cy="173.8" rx="10.1" ry="10.1" fill="url(#r)"/>
<ellipse cx="190.9" cy="172.6" rx="10" ry="32" fill="url(#sp)"/>
<ellipse cx="190.9" cy="172.6" rx="10.1" ry="10.1" fill="url(#o)"/>
<ellipse cx="218.8" cy="167.2" rx="10" ry="32" fill="url(#sp)"/>
<ellipse cx="218.8" cy="167.2" rx="12.6" ry="10.1" fill="url(#o)" transform="rotate(-15 218.8 167.2)"/>
<ellipse cx="248.9" cy="160" rx="10" ry="32" fill="url(#sp)"/>
<ellipse cx="248.9" cy="160" rx="10.1" ry="10.1" fill="url(#o)"/>
<ellipse cx="283.5" cy="154.6" rx="10" ry="32" fill="url(#sp)"/>
<ellipse cx="283.5" cy="154.6" rx="10.1" ry="10.1" fill="url(#r)"/>
<ellipse cx="320.8" cy="138.8" rx="10" ry="32" fill="url(#sp)"/>
<ellipse cx="320.8" cy="138.8" rx="10.1" ry="10.1" fill="url(#r)"/>
<ellipse cx="352.7" cy="130.2" rx="10" ry="32" fill="url(#sp)"/>
<ellipse cx="352.7" cy="130.2" rx="10.1" ry="10.1" fill="url(#r)"/>
<ellipse cx="384.9" cy="131.8" rx="10" ry="32" fill="url(#sp)"/>
<ellipse cx="384.9" cy="131.8" rx="10.1" ry="10.1" fill="url(#r)"/>
<ellipse cx="414.8" cy="129.5" rx="10" ry="32" fill="url(#sp)"/>
<ellipse cx="414.8" cy="129.5" rx="10.1" ry="10.1" fill="url(#r)"/>
<ellipse cx="447.8" cy="124.8" rx="10" ry="32" fill="url(#sp)"/>
<ellipse cx="447.8" cy="124.8" rx="10.1" ry="10.1" fill="url(#r)"/>
<ellipse cx="470.7" cy="125.9" rx="10" ry="30" fill="url(#sp)"/>
<ellipse cx="470.7" cy="125.9" rx="10.1" ry="10.1" fill="url(#y)"/>
<ellipse cx="496.3" cy="124.3" rx="10" ry="30" fill="url(#sp)"/>
<ellipse cx="496.3" cy="124.3" rx="10.6" ry="10.1" fill="url(#y)"/>
<ellipse cx="148.2" cy="249.8" rx="10" ry="26" fill="url(#sp)"/>
<ellipse cx="148.2" cy="249.8" rx="10.9" ry="9.5" fill="url(#g)"/>
<ellipse cx="173.1" cy="247.2" rx="10" ry="26" fill="url(#sp)"/>
<ellipse cx="173.1" cy="247.2" rx="10.9" ry="9.5" fill="url(#g)"/>
<ellipse cx="197.6" cy="242.6" rx="10" ry="26" fill="url(#sp)"/>
<ellipse cx="197.6" cy="242.6" rx="10.9" ry="9.5" fill="url(#g)"/>
<ellipse cx="222.1" cy="237.5" rx="10" ry="26" fill="url(#sp)"/>
<ellipse cx="222.1" cy="237.5" rx="10.5" ry="9.5" fill="url(#g)"/>
<ellipse cx="249.6" cy="232.1" rx="10" ry="32" fill="url(#sp)"/>
<ellipse cx="249.6" cy="232.1" rx="10.1" ry="10.1" fill="url(#r)"/>
<ellipse cx="288.6" cy="224.2" rx="10" ry="32" fill="url(#sp)"/>
<ellipse cx="288.6" cy="224.2" rx="10.1" ry="10.1" fill="url(#r)"/>
<ellipse cx="318.4" cy="208.3" rx="10" ry="32" fill="url(#sp)"/>
<ellipse cx="318.4" cy="208.3" rx="10.1" ry="10.1" fill="url(#r)"/>
<ellipse cx="349.9" cy="200.6" rx="10" ry="32" fill="url(#sp)"/>
<ellipse cx="349.9" cy="200.6" rx="10.1" ry="10.1" fill="url(#r)"/>
<ellipse cx="380.3" cy="199.4" rx="10" ry="32" fill="url(#sp)"/>
<ellipse cx="380.3" cy="199.4" rx="10.1" ry="10.1" fill="url(#o)"/>
<ellipse cx="412.3" cy="194" rx="10" ry="32" fill="url(#sp)"/>
<ellipse cx="412.3" cy="194" rx="10.1" ry="10.1" fill="url(#o)"/>
<ellipse cx="442" cy="184.5" rx="10" ry="32" fill="url(#sp)"/>
<ellipse cx="442" cy="184.5" rx="10.1" ry="10.1" fill="url(#r)"/>
<ellipse cx="539.3" cy="145.3" rx="10" ry="32" fill="url(#sp)"/>
<ellipse cx="539.3" cy="145.3" rx="4.8" ry="8.7" fill="url(#d)"/>
<ellipse cx="143.5" cy="32.6" rx="10" ry="32" fill="url(#sp)"/>
<ellipse cx="143.5" cy="32.6" rx="10.1" ry="10.1" fill="url(#o)"/>
<ellipse cx="175" cy="17" rx="8.2" ry="6" fill="url(#c)"/>
<ellipse cx="479.3" cy="183.8" rx="10" ry="26" fill="url(#sp)"/>
<ellipse cx="479.3" cy="183.8" rx="13.8" ry="9" fill="url(#g)" transform="rotate(-10 479.3 183.8)"/>
<ellipse cx="514.3" cy="173.3" rx="10" ry="26" fill="url(#sp)"/>
<ellipse cx="514.3" cy="173.3" rx="13.8" ry="8.1" fill="url(#g)" transform="rotate(-25 514.3 173.3)"/>
<ellipse cx="521" cy="126.5" rx="10" ry="26" fill="url(#sp)"/>
<ellipse cx="521" cy="126.5" rx="14.3" ry="7.1" fill="url(#g)" transform="rotate(5 521 126.5)"/>
<ellipse cx="531.8" cy="334.8" rx="10" ry="26" fill="url(#sp)"/>
<ellipse cx="531.8" cy="334.8" rx="10.5" ry="9.5" fill="url(#g)" transform="rotate(-11 531.8 334.8)"/>
<ellipse cx="555.8" cy="332.4" rx="10" ry="30" fill="url(#sp)"/>
<ellipse cx="555.8" cy="332.4" rx="11.1" ry="10.1" fill="url(#y)" transform="rotate(-11 555.8 332.4)"/>
<ellipse cx="580.8" cy="328.9" rx="10" ry="26" fill="url(#sp)"/>
<ellipse cx="580.8" cy="328.9" rx="10.5" ry="9.5" fill="url(#g)" transform="rotate(-11 580.8 328.9)"/>
<ellipse cx="604.1" cy="326.1" rx="10" ry="30" fill="url(#sp)"/>
<ellipse cx="604.1" cy="326.1" rx="11.1" ry="10.1" fill="url(#y)" transform="rotate(-11 604.1 326.1)"/>
<ellipse cx="628.1" cy="321.5" rx="10" ry="30" fill="url(#sp)"/>
<ellipse cx="628.1" cy="321.5" rx="11.1" ry="10.1" fill="url(#y)" transform="rotate(-11 628.1 321.5)"/>
<ellipse cx="651.9" cy="316.8" rx="10" ry="30" fill="url(#sp)"/>
<ellipse cx="651.9" cy="316.8" rx="11.1" ry="10.1" fill="url(#y)" transform="rotate(-11 651.9 316.8)"/>
<ellipse cx="675.3" cy="312.1" rx="10" ry="26" fill="url(#sp)"/>
<ellipse cx="675.3" cy="312.1" rx="10.5" ry="9.5" fill="url(#g)" transform="rotate(-11 675.3 312.1)"/>
<ellipse cx="697.5" cy="308" rx="11.6" ry="10" fill="url(#m)" transform="rotate(-11 697.5 308)"/>
<ellipse cx="721" cy="303.2" rx="12.1" ry="10" fill="url(#m)" transform="rotate(-11 721 303.2)"/>
<ellipse cx="744" cy="298.5" rx="12.5" ry="10" fill="url(#m)" transform="rotate(-11 744 298.5)"/>
<ellipse cx="766.3" cy="294" rx="12.9" ry="10" fill="url(#m)" transform="rotate(-11 766.3 294)"/>
<ellipse cx="789" cy="289.7" rx="9.3" ry="7" fill="url(#tg)" transform="rotate(-11 789 289.7)"/>
<ellipse cx="811.5" cy="285.4" rx="9.6" ry="7" fill="url(#tg)" transform="rotate(-11 811.5 285.4)"/>
<ellipse cx="834" cy="281.1" rx="9.9" ry="7" fill="url(#tg)" transform="rotate(-11 834 281.1)"/>
<ellipse cx="857.3" cy="276" rx="10.5" ry="7" fill="url(#tg)" transform="rotate(-11 857.3 276)"/>
<ellipse cx="880.6" cy="271" rx="10.5" ry="7" fill="url(#tg)" transform="rotate(-11 880.6 271)"/>
<ellipse cx="904" cy="266" rx="10.5" ry="7" fill="url(#tg)" transform="rotate(-11 904 266)"/>
<ellipse cx="928" cy="261.1" rx="10.5" ry="7" fill="url(#tg)" transform="rotate(-11 928 261.1)"/>
<ellipse cx="952" cy="256.2" rx="10.5" ry="7" fill="url(#tg)" transform="rotate(-11 952 256.2)"/>
</g></g>
<rect x="653" y="56.2" width="306" height="17" fill="url(#cb)"/>
<text class="lab w" x="655.2" y="49.8" text-anchor="middle">0</text>
<text class="lab w" x="814.2" y="49.8" text-anchor="middle">Intensity (a.u.)</text>
<text class="lab w" x="955.8" y="49.8" text-anchor="middle">1</text>
<g fill="none" stroke="#000" stroke-width="2.4">
<rect x="141.2" y="18" width="835.4" height="319.2"/>
<path d="M141.2 337.2v10.5M558.9 337.2v10.5M976.6 337.2v10.5M141.2 18h-10.5M141.2 178.2h-10.5M141.2 337.2h-10.5"/>
</g>
<text class="pl" x="-0.5" y="32">a</text>
<text class="lab" x="142" y="377.8" text-anchor="middle">0</text>
<text class="lab" x="559.7" y="377.8" text-anchor="middle">3</text>
<text class="lab" x="977.4" y="377.8" text-anchor="middle">6</text>
<text class="lab" x="121.8" y="24.6" text-anchor="end">10</text>
<text class="lab" x="121.8" y="186.7" text-anchor="end">5</text>
<text class="lab" x="121.8" y="346.5" text-anchor="end">0</text>
<text class="lab" x="565" y="410.7" text-anchor="middle">Time (µs)</text>
<text class="lab" transform="translate(62.2 197.7) rotate(-90)" text-anchor="middle">Co-rotating time (ps)</text>
<g clip-path="url(#cpb)"><g filter="url(#jetb)">
<rect x="123.2" y="437.2" width="875.0" height="359.3" fill="#000"/>
<g stroke="none" filter="url(#b2b)">
<linearGradient id="txb0" x1="0" x2="1" y1="0" y2="0"><stop offset="0" stop-color="#fff" stop-opacity="0.040"/><stop offset="0.692" stop-color="#fff" stop-opacity="0.040"/><stop offset="1" stop-color="#fff" stop-opacity="0"/></linearGradient>
<rect x="123" y="437" width="377" height="360" fill="url(#txb0)"/>
<path d="M151.8 419.6 q14.7 66.8 -4.5 120 q-0.2 -63.6 4.5 -120 z" fill="#000" fill-opacity="0.78"/>
<path d="M155.9 550.1 q16 27.2 -8.8 73.1 q3 -40.6 8.8 -73.1 z" fill="#000" fill-opacity="0.97"/>
<path d="M150 624.9 q3.5 87.8 0.2 135.8 q-16.8 -86.1 -0.2 -135.8 z" fill="#000" fill-opacity="0.97"/>
<path d="M154.1 741.4 q7.4 29 3.9 72.2 q-25.7 -42.9 -3.9 -72.2 z" fill="#000" fill-opacity="0.71"/>
<path d="M180 405.1 q18 43.2 9.5 94.6 q-22.3 -43.4 -9.5 -94.6 z" fill="#000" fill-opacity="0.99"/>
<path d="M182.9 517.9 q12.5 25.2 6.2 70.2 q-18.7 -41.9 -6.2 -70.2 z" fill="#000" fill-opacity="0.83"/>
<path d="M185.6 596.9 q13.5 32.3 -7.9 80 q-4 -44.7 7.9 -80 z" fill="#000" fill-opacity="0.92"/>
<path d="M188.5 664.8 q6.5 44.8 -5.8 91 q-7.7 -58 5.8 -91 z" fill="#000" fill-opacity="0.81"/>
<path d="M208.4 440.9 q11.9 53.9 -9.9 92.8 q-9.4 -42 9.9 -92.8 z" fill="#000" fill-opacity="0.97"/>
<path d="M214.4 513 q9.9 28.4 0.1 63.6 q-25.2 -37.3 -0.1 -63.6 z" fill="#000" fill-opacity="1.00"/>
<path d="M213.1 598.9 q20.6 49.9 -4.7 80.7 q-1.5 -32.2 4.7 -80.7 z" fill="#000" fill-opacity="0.87"/>
<path d="M218.9 697.4 q9.1 37 4.1 85 q-22.4 -36.3 -4.1 -85 z" fill="#000" fill-opacity="0.89"/>
<path d="M234.9 437.9 q15.1 61.2 1.2 97.8 q-12.3 -62.5 -1.2 -97.8 z" fill="#000" fill-opacity="0.99"/>
<path d="M244.1 545.4 q13.8 64.5 -3.1 113 q-15 -58.6 3.1 -113 z" fill="#000" fill-opacity="0.85"/>
<path d="M242.7 653.5 q21.4 65.6 0.7 141.3 q-12.9 -53.6 -0.7 -141.3 z" fill="#000" fill-opacity="0.97"/>
<path d="M273 422.1 q8.9 46.1 4 108.7 q-16.3 -51.3 -4 -108.7 z" fill="#000" fill-opacity="0.84"/>
<path d="M265.5 536.2 q14.7 45.9 5.2 72.8 q-14.7 -33.4 -5.2 -72.8 z" fill="#000" fill-opacity="0.89"/>
<path d="M266.8 607.3 q12.2 63.3 -5.2 99.9 q-12.5 -35.2 5.2 -99.9 z" fill="#000" fill-opacity="0.77"/>
<path d="M270.3 699.3 q14.5 31.1 0 78.1 q-8.2 -38.2 -0 -78.1 z" fill="#000" fill-opacity="0.97"/>
<path d="M302.7 403.8 q9.7 75.6 5.2 136.9 q-18.3 -75.2 -5.2 -136.9 z" fill="#000" fill-opacity="0.84"/>
<path d="M296 561.7 q13.2 53.6 -0 121.3 q-17.7 -47.4 0 -121.3 z" fill="#000" fill-opacity="0.76"/>
<path d="M291.7 676.6 q17.6 38.6 8.7 82.7 q-23.2 -50.6 -8.7 -82.7 z" fill="#000" fill-opacity="0.75"/>
<path d="M300.1 769.6 q14.9 38.2 5.7 71.3 q-23.4 -30.6 -5.7 -71.3 z" fill="#000" fill-opacity="0.86"/>
<path d="M321.5 399 q11.6 48.5 9.4 132.6 q-20.3 -79.7 -9.4 -132.6 z" fill="#000" fill-opacity="0.74"/>
<path d="M329.4 559.4 q17.4 38.1 7.3 92.3 q-14 -56.7 -7.3 -92.3 z" fill="#000" fill-opacity="0.70"/>
<path d="M321.5 637 q5.9 24.8 -4.1 61.2 q-11.8 -27.1 4.1 -61.2 z" fill="#000" fill-opacity="0.90"/>
<path d="M328.7 720 q16.3 40.8 0.6 69.2 q-12 -34.7 -0.6 -69.2 z" fill="#000" fill-opacity="0.81"/>
<path d="M356.5 398.1 q15.2 59.1 8.5 97.3 q-24 -54.2 -8.5 -97.3 z" fill="#000" fill-opacity="0.75"/>
<path d="M354.9 521.4 q8.5 36.3 6.8 98.4 q-27.2 -37.6 -6.8 -98.4 z" fill="#000" fill-opacity="0.91"/>
<path d="M352.8 595.1 q18 38.8 2.3 60.8 q-5.4 -34.9 -2.3 -60.8 z" fill="#000" fill-opacity="0.89"/>
<path d="M362.2 656 q12.2 41.3 5.1 80.5 q-19.8 -35.8 -5.1 -80.5 z" fill="#000" fill-opacity="0.72"/>
<path d="M362.6 721.7 q15.3 50.4 8.7 114.6 q-28.4 -71.9 -8.7 -114.6 z" fill="#000" fill-opacity="0.92"/>
<path d="M384.3 385.3 q14.3 63 -3.2 103.4 q-14.9 -66.9 3.2 -103.4 z" fill="#000" fill-opacity="0.92"/>
<path d="M381.5 480.5 q14.3 45.1 -2.3 116.2 q-8.4 -59.5 2.3 -116.2 z" fill="#000" fill-opacity="0.73"/>
<path d="M379.9 624.8 q5.2 42.5 2.6 82.7 q-18.3 -43.7 -2.6 -82.7 z" fill="#000" fill-opacity="0.91"/>
<path d="M379 712.2 q16.9 35.3 0 87.9 q-18.3 -41.3 -0 -87.9 z" fill="#000" fill-opacity="0.77"/>
<path d="M406 395 q12.5 78.6 -2.1 144.4 q-10 -53.7 2.1 -144.4 z" fill="#000" fill-opacity="0.88"/>
<path d="M413.2 529.2 q16.5 35.9 -6.6 82.5 q-11.9 -49.7 6.6 -82.5 z" fill="#000" fill-opacity="0.89"/>
<path d="M410.8 600.6 q13.7 74.1 9.2 117.4 q-24.2 -54.9 -9.2 -117.4 z" fill="#000" fill-opacity="0.82"/>
<path d="M412.4 713.6 q11.5 68.2 4.5 124.4 q-16 -66.5 -4.5 -124.4 z" fill="#000" fill-opacity="0.83"/>
<path d="M440.2 369 q7.1 84.2 8 140.1 q-26.3 -66.7 -8 -140.1 z" fill="#000" fill-opacity="0.99"/>
<path d="M429.9 490.6 q4.5 37.6 -3.9 97.2 q-11.6 -58.3 3.9 -97.2 z" fill="#000" fill-opacity="0.69"/>
<path d="M442.2 589.4 q17.3 71.8 7.2 114.1 q-11.4 -58 -7.2 -114.1 z" fill="#000" fill-opacity="0.73"/>
<path d="M439.9 689.4 q14.6 88.3 -4.8 142 q-8.7 -54.3 4.8 -142 z" fill="#000" fill-opacity="0.93"/>
<path d="M467.2 434.1 q8.2 44 -2.8 118 q-8.6 -73.9 2.8 -118 z" fill="#000" fill-opacity="0.82"/>
<path d="M473.7 557.7 q12 84.2 6.9 135.8 q-23 -48.5 -6.9 -135.8 z" fill="#000" fill-opacity="0.84"/>
<path d="M475 706.3 q15.3 58.9 6 116 q-13.4 -67.6 -6 -116 z" fill="#000" fill-opacity="0.79"/>
<path d="M394.9 414.2 q8.3 17.9 -7.2 45.7 q2.2 -29.3 7.2 -45.7 z" fill="#fff" fill-opacity="0.02"/>
<path d="M405.2 478.7 q15.2 42.5 -1.9 97.9 q-8.1 -51 1.9 -97.9 z" fill="#fff" fill-opacity="0.02"/>
<path d="M403.7 632.7 q2.9 34.8 -1.3 97.7 q-12.2 -52.4 1.3 -97.7 z" fill="#fff" fill-opacity="0.02"/>
<path d="M399 737 q9 48 0.8 74.3 q-8.8 -46.2 -0.8 -74.3 z" fill="#fff" fill-opacity="0.02"/>
<path d="M424.1 453.2 q7.6 17 4.1 44 q-21.2 -28.1 -4.1 -44 z" fill="#fff" fill-opacity="0.04"/>
<path d="M431.1 509.8 q9.7 43.7 5.6 70.2 q-17.3 -31.2 -5.6 -70.2 z" fill="#fff" fill-opacity="0.04"/>
<path d="M428.9 634.6 q2.6 38.5 -5.6 101.7 q-10.8 -50.2 5.6 -101.7 z" fill="#fff" fill-opacity="0.03"/>
<path d="M458.6 437.4 q13.8 38.3 6.9 72.8 q-15 -29.1 -6.9 -72.8 z" fill="#fff" fill-opacity="0.05"/>
<path d="M450.6 542.8 q6.3 32.8 2.5 50.8 q-14.3 -28.2 -2.5 -50.8 z" fill="#fff" fill-opacity="0.03"/>
<path d="M450.5 627.3 q15 26.5 3 67.4 q-13.2 -34.5 -3 -67.4 z" fill="#fff" fill-opacity="0.05"/>
<path d="M450.1 714.1 q14.1 32.3 -0.3 81.1 q-1.4 -30.5 0.3 -81.1 z" fill="#fff" fill-opacity="0.04"/>
<path d="M491.1 430.4 q6 25.9 -7.1 50.4 q-6.1 -21.4 7.1 -50.4 z" fill="#fff" fill-opacity="0.05"/>
<path d="M479.6 509.3 q10.9 21.8 7.6 45.5 q-13 -16.5 -7.6 -45.5 z" fill="#fff" fill-opacity="0.05"/>
<path d="M483.5 574.7 q18.4 19 -8.8 54 q3.3 -30.8 8.8 -54 z" fill="#fff" fill-opacity="0.03"/>
<path d="M483.5 648.1 q5.7 22 0.7 54.5 q-19.6 -23.9 -0.7 -54.5 z" fill="#fff" fill-opacity="0.04"/>
<path d="M482 769.7 q8.8 25.8 -8.4 41.8 q-7.9 -17.9 8.4 -41.8 z" fill="#fff" fill-opacity="0.03"/>
<path d="M517.1 407.1 q10.5 51.8 9.7 81.7 q-23.2 -51 -9.7 -81.7 z" fill="#fff" fill-opacity="0.04"/>
<path d="M516.4 513.3 q11.7 20.8 5.4 59.1 q-17.8 -22.2 -5.4 -59.1 z" fill="#fff" fill-opacity="0.03"/>
<path d="M516.2 584.4 q15.1 57.5 -2.1 105.3 q-6.6 -58.7 2.1 -105.3 z" fill="#fff" fill-opacity="0.05"/>
<path d="M512.9 734.9 q7.8 22.4 6.5 51 q-20.3 -29 -6.5 -51 z" fill="#fff" fill-opacity="0.04"/>
<path d="M543.1 420.5 q1.6 33.2 -8.7 61.9 q-4.7 -40 8.7 -61.9 z" fill="#fff" fill-opacity="0.03"/>
<path d="M537.5 507.9 q4.9 23.9 -1.5 64.9 q-10.8 -25.3 1.5 -64.9 z" fill="#fff" fill-opacity="0.03"/>
<path d="M544.5 631 q18.9 60.4 -7.8 108.8 q4.4 -61.7 7.8 -108.8 z" fill="#fff" fill-opacity="0.03"/>
<path d="M575 402.3 q14.4 24.9 -8.4 54.7 q2 -27 8.4 -54.7 z" fill="#fff" fill-opacity="0.03"/>
<path d="M567.4 469 q1.4 27.6 -1.1 74.8 q-12.7 -36.8 1.1 -74.8 z" fill="#fff" fill-opacity="0.03"/>
<path d="M571.3 584 q11.1 34.8 -1.6 93.7 q-12.3 -57 1.6 -93.7 z" fill="#fff" fill-opacity="0.03"/>
<path d="M575.2 729.2 q11.2 45.7 9.3 87.3 q-11.6 -47.5 -9.3 -87.3 z" fill="#fff" fill-opacity="0.05"/>
<path d="M598.9 429.8 q7.4 38.7 5.5 68.4 q-18.3 -28.7 -5.5 -68.4 z" fill="#fff" fill-opacity="0.05"/>
<path d="M591.1 536 q2.1 47.1 2.4 90.9 q-15 -55.8 -2.4 -90.9 z" fill="#fff" fill-opacity="0.03"/>
<path d="M595.9 643.7 q6.7 52.8 3.7 81.8 q-15.3 -40.8 -3.7 -81.8 z" fill="#fff" fill-opacity="0.03"/>
<path d="M623.6 398.3 q15.9 54.5 -4.9 104.9 q-4.2 -51 4.9 -104.9 z" fill="#fff" fill-opacity="0.04"/>
<path d="M631.9 539.4 q12.3 43.9 4.1 86 q-4.7 -44.1 -4.1 -86 z" fill="#fff" fill-opacity="0.04"/>
<path d="M623 633.7 q14.1 36.9 -2.3 102.7 q-7.9 -49.7 2.3 -102.7 z" fill="#fff" fill-opacity="0.03"/>
<path d="M623 773.5 q14.7 22.7 3.4 52.3 q-13.7 -27.1 -3.4 -52.3 z" fill="#fff" fill-opacity="0.03"/>
<path d="M654.9 452.4 q13.5 29.3 7.1 54.5 q-12.2 -27.9 -7.1 -54.5 z" fill="#fff" fill-opacity="0.04"/>
<path d="M658.6 542 q14.1 35.1 -2.3 70.3 q-1.2 -38.7 2.3 -70.3 z" fill="#fff" fill-opacity="0.03"/>
<path d="M654.8 622.8 q-0.8 24.7 -3.4 58.6 q-11.8 -29.3 3.4 -58.6 z" fill="#fff" fill-opacity="0.04"/>
<path d="M661.6 739.3 q8.8 18.2 2.9 46.1 q-17.9 -16.3 -2.9 -46.1 z" fill="#fff" fill-opacity="0.03"/>
<path d="M685.2 433.1 q8.5 39.4 -6.5 73.4 q0.9 -44.3 6.5 -73.4 z" fill="#fff" fill-opacity="0.03"/>
<path d="M680.8 526 q3.7 47.2 9.5 97.1 q-25.9 -43.1 -9.5 -97.1 z" fill="#fff" fill-opacity="0.03"/>
<path d="M686.7 662.2 q3 45.5 3.6 103.7 q-18.8 -40.5 -3.6 -103.7 z" fill="#fff" fill-opacity="0.03"/>
<path d="M703.9 440 q14.8 63.3 5.8 109 q-12.7 -57.2 -5.8 -109 z" fill="#fff" fill-opacity="0.02"/>
<path d="M710 592.4 q15.4 26 -0.4 47.7 q-9.3 -21.3 0.4 -47.7 z" fill="#fff" fill-opacity="0.02"/>
<path d="M704.3 700.3 q17.1 38.7 2 90.1 q-6.5 -39.4 -2 -90.1 z" fill="#fff" fill-opacity="0.03"/>
<path d="M738.3 405.9 q9.6 35.9 -6.1 101.8 q0.3 -53.2 6.1 -101.8 z" fill="#fff" fill-opacity="0.02"/>
<path d="M728.4 550.5 q13.2 44.5 -2.5 84 q-2.9 -49.7 2.5 -84 z" fill="#fff" fill-opacity="0.02"/>
<path d="M738.2 664.6 q10.4 43.5 -1.7 97.3 q-6.2 -47.6 1.7 -97.3 z" fill="#fff" fill-opacity="0.02"/>
<path d="M762.2 433.8 q5 38.6 -1.1 76.6 q-8.9 -29.8 1.1 -76.6 z" fill="#fff" fill-opacity="0.02"/>
<path d="M758 567 q6 34.3 -3.6 65.7 q-15.5 -27.3 3.6 -65.7 z" fill="#fff" fill-opacity="0.02"/>
<path d="M761.4 690.2 q13.1 28.4 1.2 59.4 q-2 -37.9 -1.2 -59.4 z" fill="#fff" fill-opacity="0.01"/>
<path d="M761 758.4 q3.7 37.7 2.2 98.8 q-14.9 -52.3 -2.2 -98.8 z" fill="#fff" fill-opacity="0.01"/>
</g>
<g fill="none" stroke="#fff" stroke-linecap="round" stroke-linejoin="round" filter="url(#b6b)">
<path d="M147.5 481 C153.2 479.3 170.2 472.7 182 471 C193.8 469.3 206.9 471.4 218.1 471 C229.3 470.6 238.7 469.7 249.2 468.7 C259.7 467.7 270.8 466.2 281.1 465.2 C291.4 464.2 301.1 463.7 311 462.8 C320.9 461.9 330.8 460.7 340.6 459.8 C350.4 458.9 364.9 457.9 369.8 457.5" stroke-width="52" stroke-opacity="0.025"/>
<path d="M147.5 481 C153.2 479.3 170.2 472.7 182 471 C193.8 469.3 206.9 471.4 218.1 471 C229.3 470.6 238.7 469.7 249.2 468.7 C259.7 467.7 270.8 466.2 281.1 465.2 C291.4 464.2 301.1 463.7 311 462.8 C320.9 461.9 330.8 460.7 340.6 459.8 C350.4 458.9 364.9 457.9 369.8 457.5" stroke-width="30" stroke-opacity="0.040"/>
<path d="M159.4 602.1 C164.2 602.3 178.1 602.9 188.5 603.3 C198.9 603.7 210.9 603.9 221.6 604.4 C232.2 604.9 242.5 605.8 252.4 606.3 C262.3 606.8 272 607.3 281.1 607.5 C290.2 607.7 298.8 607.8 307.3 607.5 C315.9 607.2 324.3 606.2 332.4 605.6 C340.5 605 347.8 604 355.8 604 C363.8 604 371.2 602.6 380.3 605.6 C389.4 608.6 405.6 619.1 410.6 621.8" stroke-width="52" stroke-opacity="0.025"/>
<path d="M159.4 602.1 C164.2 602.3 178.1 602.9 188.5 603.3 C198.9 603.7 210.9 603.9 221.6 604.4 C232.2 604.9 242.5 605.8 252.4 606.3 C262.3 606.8 272 607.3 281.1 607.5 C290.2 607.7 298.8 607.8 307.3 607.5 C315.9 607.2 324.3 606.2 332.4 605.6 C340.5 605 347.8 604 355.8 604 C363.8 604 371.2 602.6 380.3 605.6 C389.4 608.6 405.6 619.1 410.6 621.8" stroke-width="30" stroke-opacity="0.040"/>
<path d="M144.2 697.8 C148.7 698.3 160.4 700.8 171 700.8 C181.6 700.8 196.5 699.3 207.6 697.8 C218.7 696.3 227.7 694 237.5 692 C247.3 690 257 688.2 266.4 686.1 C275.8 684 284.8 681.6 294 679.6 C303.2 677.6 312.4 675.8 321.5 674 C330.6 672.2 339.1 670.7 348.3 669.1 C357.5 667.5 366.4 667.7 376.8 664.4 C387.2 661.1 405 652 410.6 649.5" stroke-width="52" stroke-opacity="0.025"/>
<path d="M144.2 697.8 C148.7 698.3 160.4 700.8 171 700.8 C181.6 700.8 196.5 699.3 207.6 697.8 C218.7 696.3 227.7 694 237.5 692 C247.3 690 257 688.2 266.4 686.1 C275.8 684 284.8 681.6 294 679.6 C303.2 677.6 312.4 675.8 321.5 674 C330.6 672.2 339.1 670.7 348.3 669.1 C357.5 667.5 366.4 667.7 376.8 664.4 C387.2 661.1 405 652 410.6 649.5" stroke-width="30" stroke-opacity="0.040"/>
<path d="M441.1 577.2 C445.4 575.8 458.1 571.3 466.8 569 C475.6 566.7 484.6 565 493.6 563.2 C502.7 561.5 511.9 560.2 521.1 558.5 C530.4 556.8 540 554.5 549.1 552.7 C558.2 550.9 566.7 549.2 575.5 547.5 C584.3 545.8 593.5 544.1 602.1 542.4 C610.7 540.6 618.8 538.7 627.3 537 C635.8 535.3 644.4 533.9 652.9 532.4 C661.4 530.9 669.9 529.5 678.1 527.9 C686.3 526.3 694.4 524.6 702.3 522.9 C710.2 521.2 717.7 519.4 725.6 517.7 C733.5 516 741.7 514.3 749.6 512.7 C757.5 511.1 765.8 509.7 773.2 508.3 C780.6 506.9 790.5 505.1 794 504.5" stroke-width="52" stroke-opacity="0.025"/>
<path d="M441.1 577.2 C445.4 575.8 458.1 571.3 466.8 569 C475.6 566.7 484.6 565 493.6 563.2 C502.7 561.5 511.9 560.2 521.1 558.5 C530.4 556.8 540 554.5 549.1 552.7 C558.2 550.9 566.7 549.2 575.5 547.5 C584.3 545.8 593.5 544.1 602.1 542.4 C610.7 540.6 618.8 538.7 627.3 537 C635.8 535.3 644.4 533.9 652.9 532.4 C661.4 530.9 669.9 529.5 678.1 527.9 C686.3 526.3 694.4 524.6 702.3 522.9 C710.2 521.2 717.7 519.4 725.6 517.7 C733.5 516 741.7 514.3 749.6 512.7 C757.5 511.1 765.8 509.7 773.2 508.3 C780.6 506.9 790.5 505.1 794 504.5" stroke-width="30" stroke-opacity="0.040"/>
<path d="M469.2 716.7 C473.9 715.8 487.9 713.1 497.2 711.1 C506.4 709.1 515.2 707.1 524.7 704.6 C534.2 702.1 544.8 698.7 554.5 696.2 C564.2 693.7 574 691.4 583.1 689.4 C592.2 687.4 600.5 686.1 609.2 684.4 C617.9 682.7 626.8 681 635.4 679.4 C644 677.8 652.4 676.4 660.9 674.7 C669.4 673 677.9 671.1 686.3 669.4 C694.6 667.7 702.8 666.1 711 664.4 C719.2 662.7 727.3 660.9 735.3 659.2 C743.3 657.5 751.3 655.8 759.2 654.2 C767.1 652.6 776.7 650.9 782.5 649.8 C788.3 648.7 792.1 648 794 647.6" stroke-width="52" stroke-opacity="0.025"/>
<path d="M469.2 716.7 C473.9 715.8 487.9 713.1 497.2 711.1 C506.4 709.1 515.2 707.1 524.7 704.6 C534.2 702.1 544.8 698.7 554.5 696.2 C564.2 693.7 574 691.4 583.1 689.4 C592.2 687.4 600.5 686.1 609.2 684.4 C617.9 682.7 626.8 681 635.4 679.4 C644 677.8 652.4 676.4 660.9 674.7 C669.4 673 677.9 671.1 686.3 669.4 C694.6 667.7 702.8 666.1 711 664.4 C719.2 662.7 727.3 660.9 735.3 659.2 C743.3 657.5 751.3 655.8 759.2 654.2 C767.1 652.6 776.7 650.9 782.5 649.8 C788.3 648.7 792.1 648 794 647.6" stroke-width="30" stroke-opacity="0.040"/>
<path d="M553 742 L553.6 780" stroke-width="18" stroke-opacity="0.100"/>
</g>
<g fill="none" stroke="#fff" stroke-linecap="round" stroke-linejoin="round" filter="url(#b3b)">
<path d="M147.5 481 C153.2 479.3 170.2 472.7 182 471 C193.8 469.3 206.9 471.4 218.1 471 C229.3 470.6 238.7 469.7 249.2 468.7 C259.7 467.7 270.8 466.2 281.1 465.2 C291.4 464.2 301.1 463.7 311 462.8 C320.9 461.9 330.8 460.7 340.6 459.8 C350.4 458.9 364.9 457.9 369.8 457.5" stroke-width="18" stroke-opacity="0.085"/>
<path d="M159.4 602.1 C164.2 602.3 178.1 602.9 188.5 603.3 C198.9 603.7 210.9 603.9 221.6 604.4 C232.2 604.9 242.5 605.8 252.4 606.3 C262.3 606.8 272 607.3 281.1 607.5 C290.2 607.7 298.8 607.8 307.3 607.5 C315.9 607.2 324.3 606.2 332.4 605.6 C340.5 605 347.8 604 355.8 604 C363.8 604 371.2 602.6 380.3 605.6 C389.4 608.6 405.6 619.1 410.6 621.8" stroke-width="18" stroke-opacity="0.085"/>
<path d="M144.2 697.8 C148.7 698.3 160.4 700.8 171 700.8 C181.6 700.8 196.5 699.3 207.6 697.8 C218.7 696.3 227.7 694 237.5 692 C247.3 690 257 688.2 266.4 686.1 C275.8 684 284.8 681.6 294 679.6 C303.2 677.6 312.4 675.8 321.5 674 C330.6 672.2 339.1 670.7 348.3 669.1 C357.5 667.5 366.4 667.7 376.8 664.4 C387.2 661.1 405 652 410.6 649.5" stroke-width="18" stroke-opacity="0.085"/>
<path d="M441.1 577.2 C445.4 575.8 458.1 571.3 466.8 569 C475.6 566.7 484.6 565 493.6 563.2 C502.7 561.5 511.9 560.2 521.1 558.5 C530.4 556.8 540 554.5 549.1 552.7 C558.2 550.9 566.7 549.2 575.5 547.5 C584.3 545.8 593.5 544.1 602.1 542.4 C610.7 540.6 618.8 538.7 627.3 537 C635.8 535.3 644.4 533.9 652.9 532.4 C661.4 530.9 669.9 529.5 678.1 527.9 C686.3 526.3 694.4 524.6 702.3 522.9 C710.2 521.2 717.7 519.4 725.6 517.7 C733.5 516 741.7 514.3 749.6 512.7 C757.5 511.1 765.8 509.7 773.2 508.3 C780.6 506.9 790.5 505.1 794 504.5" stroke-width="18" stroke-opacity="0.085"/>
<path d="M820 498.8 C823.7 498.1 834.9 495.9 842.3 494.3 C849.7 492.7 856.9 490.9 864.2 489.4 C871.5 487.8 878.8 486.6 886.1 485 C893.4 483.4 900.7 481.6 908 480 C915.3 478.4 922.5 476.9 929.8 475.4 C937.1 473.9 943.8 472.8 951.7 471 C959.6 469.2 970.7 466.3 977.4 464.6 C984.1 462.9 989.6 461.6 992 461" stroke-width="40" stroke-opacity="0.060"/>
<path d="M469.2 716.7 C473.9 715.8 487.9 713.1 497.2 711.1 C506.4 709.1 515.2 707.1 524.7 704.6 C534.2 702.1 544.8 698.7 554.5 696.2 C564.2 693.7 574 691.4 583.1 689.4 C592.2 687.4 600.5 686.1 609.2 684.4 C617.9 682.7 626.8 681 635.4 679.4 C644 677.8 652.4 676.4 660.9 674.7 C669.4 673 677.9 671.1 686.3 669.4 C694.6 667.7 702.8 666.1 711 664.4 C719.2 662.7 727.3 660.9 735.3 659.2 C743.3 657.5 751.3 655.8 759.2 654.2 C767.1 652.6 776.7 650.9 782.5 649.8 C788.3 648.7 792.1 648 794 647.6" stroke-width="18" stroke-opacity="0.085"/>
<path d="M820 642.8 C821.5 642.5 823.8 642.3 829.2 641.1 C834.6 639.9 844.7 637.5 852.5 635.8 C860.3 634.1 868.1 632.5 875.9 630.9 C883.7 629.2 891.4 627.5 899.2 625.9 C907 624.3 914.5 622.8 922.5 621.2 C930.5 619.6 938.1 618.2 947.3 616.3 C956.4 614.4 969.9 611.2 977.4 609.6 C984.9 608 989.6 606.9 992 606.4" stroke-width="40" stroke-opacity="0.060"/>
<path d="M416 637 C416.4 633.4 417 622.1 418.5 615.6 C420 609.1 422.5 603.4 425 598 C427.5 592.6 430.9 586.5 433.6 583 C436.3 579.5 439.9 578.2 441.1 577.2" stroke-width="14" stroke-opacity="0.080"/>
<path d="M416 637 C416.4 639.3 416.7 643.2 418.5 650.6 C420.3 658 422.8 672.1 426.7 681.6 C430.6 691.1 436.3 701.8 441.6 707.7 C446.9 713.6 453.8 715.5 458.4 717 C463 718.5 467.4 716.8 469.2 716.7" stroke-width="16" stroke-opacity="0.070"/>
</g>
<g fill="none" stroke="#fff" stroke-linecap="round" stroke-linejoin="round" filter="url(#b2b)">
<path d="M820 498.8 C823.7 498.1 834.9 495.9 842.3 494.3 C849.7 492.7 856.9 490.9 864.2 489.4 C871.5 487.8 878.8 486.6 886.1 485 C893.4 483.4 900.7 481.6 908 480 C915.3 478.4 922.5 476.9 929.8 475.4 C937.1 473.9 943.8 472.8 951.7 471 C959.6 469.2 970.7 466.3 977.4 464.6 C984.1 462.9 989.6 461.6 992 461" stroke-width="27" stroke-opacity="0.070"/>
<path d="M820 642.8 C821.5 642.5 823.8 642.3 829.2 641.1 C834.6 639.9 844.7 637.5 852.5 635.8 C860.3 634.1 868.1 632.5 875.9 630.9 C883.7 629.2 891.4 627.5 899.2 625.9 C907 624.3 914.5 622.8 922.5 621.2 C930.5 619.6 938.1 618.2 947.3 616.3 C956.4 614.4 969.9 611.2 977.4 609.6 C984.9 608 989.6 606.9 992 606.4" stroke-width="27" stroke-opacity="0.070"/>
</g>
<g fill="none" stroke="#fff" stroke-linecap="round" stroke-linejoin="round">
<path d="M820 498.8 C823.7 498.1 834.9 495.9 842.3 494.3 C849.7 492.7 856.9 490.9 864.2 489.4 C871.5 487.8 878.8 486.6 886.1 485 C893.4 483.4 900.7 481.6 908 480 C915.3 478.4 922.5 476.9 929.8 475.4 C937.1 473.9 943.8 472.8 951.7 471 C959.6 469.2 970.7 466.3 977.4 464.6 C984.1 462.9 989.6 461.6 992 461" stroke-width="18.5" stroke-opacity="0.050"/>
<path d="M820 642.8 C821.5 642.5 823.8 642.3 829.2 641.1 C834.6 639.9 844.7 637.5 852.5 635.8 C860.3 634.1 868.1 632.5 875.9 630.9 C883.7 629.2 891.4 627.5 899.2 625.9 C907 624.3 914.5 622.8 922.5 621.2 C930.5 619.6 938.1 618.2 947.3 616.3 C956.4 614.4 969.9 611.2 977.4 609.6 C984.9 608 989.6 606.9 992 606.4" stroke-width="18.5" stroke-opacity="0.050"/>
<path d="M416 637 C416.4 633.4 417 622.1 418.5 615.6 C420 609.1 422.5 603.4 425 598 C427.5 592.6 430.9 586.5 433.6 583 C436.3 579.5 439.9 578.2 441.1 577.2" stroke-width="4" stroke-opacity="0.080"/>
<path d="M416 637 C416.4 639.3 416.7 643.2 418.5 650.6 C420.3 658 422.8 672.1 426.7 681.6 C430.6 691.1 436.3 701.8 441.6 707.7 C446.9 713.6 453.8 715.5 458.4 717 C463 718.5 467.4 716.8 469.2 716.7" stroke-width="4" stroke-opacity="0.060"/>
<path d="M640.4 537.2 L645.5 536.4 L650.5 535.5 L655.5 534.7 L660.5 533.9 L665.5 533.1 L670.5 532.3 L675.5 531.5 L680.6 530.6 L685.7 529.7 L690.7 528.7 L695.7 527.8 L700.7 526.8 L705.8 525.8 L710.8 524.8 L715.8 523.7 L720.8 522.7 L725.9 521.7 L730.8 520.7 L735.8 519.7 L740.8 518.8 L745.9 517.8 L750.8 516.9 L755.8 516 L760.8 515.2 L765.9 514.4 L770.9 513.6 L775.9 512.8 L780.9 512 L785.9 511.3 L791 510.5 L796 509.7 L801.2 508.7 L806.3 507.8 L811.3 506.8 L816.3 505.7 L821.2 504.7 L826.2 503.7 L831.2 502.8 L836.2 501.8 L841.2 500.8 L846.4 499.8 L851.4 498.7 L856.4 497.6 L861.4 496.5 L866.3 495.5 L871.3 494.5 L876.3 493.6 L881.3 492.6 L886.3 491.7 L891.5 490.6 L896.5 489.5 L901.5 488.4 L906.5 487.2 L911.4 486.1 L916.4 485.1 L921.4 484 L926.4 483 L931.3 481.9 L936.3 480.9 L941.3 479.9 L946.3 478.9 L951.3 477.9 L956.6 476.7 L961.6 475.4 L966.6 474.2 L971.6 472.9 L976.6 471.7 L981.6 470.5 L986.6 469.2 L991.6 468 L993.6 467.5 L990.4 454.5 L988.4 455 L983.4 456.2 L978.4 457.5 L973.4 458.7 L968.4 459.9 L963.4 461.2 L958.4 462.4 L953.4 463.7 L948.7 464.8 L943.7 465.8 L938.7 466.8 L933.7 467.8 L928.7 468.8 L923.6 469.9 L918.6 470.9 L913.6 472 L908.6 473 L903.5 474.2 L898.5 475.3 L893.5 476.5 L888.5 477.7 L883.7 478.8 L878.7 479.8 L873.7 480.9 L868.7 481.9 L863.7 483 L858.6 484.1 L853.6 485.3 L848.6 486.5 L843.6 487.6 L838.8 488.7 L833.8 489.8 L828.8 490.8 L823.8 491.9 L818.8 492.9 L813.7 494.1 L808.7 495.2 L803.7 496.4 L798.8 497.7 L794 498.9 L789 499.9 L784.1 501 L779.1 502.1 L774.1 503.1 L769.1 504.2 L764.1 505.3 L759.2 506.3 L754.2 507.4 L749.2 508.4 L744.1 509.5 L739.2 510.6 L734.2 511.7 L729.2 512.9 L724.1 514 L719.2 515.2 L714.2 516.4 L709.2 517.6 L704.2 518.8 L699.3 519.9 L694.3 521.1 L689.3 522.2 L684.3 523.3 L679.4 524.4 L674.5 525.4 L669.5 526.4 L664.5 527.4 L659.5 528.3 L654.5 529.3 L649.5 530.3 L644.5 531.3 L639.6 532.2 z" fill="#fff" fill-opacity="0.100" stroke="none"/>
<path d="M760.2 511.8 L765.2 511.2 L770.3 510.5 L775.4 509.9 L780.4 509.3 L785.5 508.7 L790.5 508.1 L795.6 507.5 L800.8 506.7 L805.8 505.9 L810.9 505.1 L815.9 504 L820.8 503 L825.9 502 L830.9 501.1 L835.9 500.1 L840.9 499.2 L846 498.1 L851 497.1 L856 496 L861 494.9 L865.9 493.9 L870.9 493 L876 492 L881 491.1 L886 490.1 L891.1 489 L896.1 487.9 L901.1 486.8 L906.1 485.7 L911.1 484.6 L916.1 483.5 L921.1 482.5 L926.1 481.4 L931 480.4 L936 479.4 L941 478.4 L946 477.4 L951 476.4 L956.2 475.2 L961.2 473.9 L966.2 472.7 L971.2 471.4 L976.2 470.2 L981.2 468.9 L986.2 467.7 L991.2 466.5 L993.2 466 L990.8 456 L988.8 456.5 L983.8 457.7 L978.8 459 L973.8 460.2 L968.8 461.5 L963.8 462.7 L958.8 464 L953.8 465.2 L949 466.3 L944 467.3 L939 468.3 L934 469.3 L929 470.3 L923.9 471.4 L918.9 472.4 L913.9 473.5 L908.9 474.6 L903.9 475.7 L898.9 476.8 L893.9 478 L888.9 479.2 L884 480.3 L879 481.4 L874 482.5 L869.1 483.5 L864.1 484.6 L859 485.7 L854 486.9 L849 488.1 L844 489.3 L839.1 490.4 L834.1 491.4 L829.1 492.5 L824.1 493.5 L819.2 494.6 L814.1 495.8 L809.1 496.9 L804.2 498.3 L799.2 499.7 L794.4 501.1 L789.5 502.3 L784.5 503.5 L779.6 504.8 L774.6 506 L769.7 507.3 L764.8 508.6 L759.8 509.8 z" fill="#fff" fill-opacity="0.140" stroke="none"/>
<path d="M860.1 490.8 L865.1 489.8 L870.1 488.9 L875.2 488 L880.2 487.1 L885.2 486.2 L890.3 485.2 L895.3 484.2 L900.3 483.1 L905.3 482.1 L910.3 481.1 L915.3 480.1 L920.4 479.2 L925.4 478.2 L930.4 477.3 L935.4 476.4 L940.4 475.5 L945.5 474.6 L950.5 473.7 L955.6 472.6 L960.6 471.5 L965.6 470.2 L970.6 469 L975.6 467.7 L980.6 466.5 L985.6 465.3 L990.6 464 L992.6 463.5 L991.4 458.5 L989.4 459 L984.4 460.2 L979.4 461.4 L974.4 462.7 L969.4 463.9 L964.4 465.2 L959.4 466.4 L954.4 467.7 L949.5 469 L944.5 470.1 L939.6 471.2 L934.6 472.3 L929.6 473.4 L924.6 474.6 L919.6 475.7 L914.7 476.9 L909.7 478.1 L904.7 479.3 L899.7 480.5 L894.7 481.8 L889.7 483 L884.8 484.2 L879.8 485.3 L874.8 486.4 L869.9 487.5 L864.9 488.6 L859.9 489.8 z" fill="#fff" fill-opacity="0.070" stroke="none"/>
<path d="M640.5 681.1 L645.5 680.2 L650.5 679.4 L655.5 678.5 L660.5 677.7 L665.6 676.7 L670.6 675.7 L675.6 674.8 L680.6 673.8 L685.7 672.9 L690.7 671.9 L695.7 671 L700.7 670.1 L705.7 669.1 L710.7 668.2 L715.8 667.2 L720.8 666.2 L725.8 665.2 L730.8 664.2 L735.9 663.3 L740.9 662.3 L745.9 661.3 L750.9 660.4 L755.9 659.4 L760.8 658.5 L765.9 657.7 L770.9 656.9 L775.9 656.1 L780.9 655.3 L786 654.5 L791 653.7 L796 652.9 L801 652.1 L806.1 651.3 L811.1 650.5 L816.1 649.6 L821.1 648.7 L826.1 647.8 L831.4 646.9 L836.4 645.8 L841.4 644.7 L846.4 643.6 L851.4 642.5 L856.3 641.5 L861.3 640.4 L866.3 639.4 L871.3 638.4 L876.3 637.4 L881.4 636.4 L886.4 635.4 L891.4 634.3 L896.4 633.3 L901.3 632.3 L906.3 631.3 L911.3 630.3 L916.3 629.3 L921.3 628.3 L926.3 627.3 L931.3 626.3 L936.3 625.3 L941.3 624.3 L946.3 623.3 L951.5 622.2 L956.5 621.1 L961.5 620 L966.5 618.9 L971.5 617.8 L976.5 616.7 L981.4 615.6 L986.4 614.5 L991.4 613.4 L993.4 612.9 L990.6 599.9 L988.6 600.3 L983.6 601.4 L978.6 602.5 L973.5 603.6 L968.5 604.7 L963.5 605.8 L958.5 606.9 L953.5 608 L948.5 609.2 L943.7 610.2 L938.7 611.2 L933.7 612.2 L928.7 613.1 L923.7 614.1 L918.7 615.1 L913.7 616.1 L908.7 617.2 L903.7 618.2 L898.7 619.2 L893.6 620.3 L888.6 621.4 L883.6 622.5 L878.6 623.6 L873.7 624.7 L868.7 625.8 L863.7 626.9 L858.7 628 L853.7 629.1 L848.6 630.3 L843.6 631.4 L838.6 632.6 L833.6 633.8 L828.6 635 L823.9 635.9 L818.9 636.9 L813.9 637.9 L808.9 638.8 L803.9 639.9 L799 641 L794 642 L789 643.1 L784 644.2 L779.1 645.3 L774.1 646.4 L769.1 647.5 L764.1 648.5 L759.2 649.6 L754.1 650.8 L749.1 651.9 L744.1 653 L739.1 654.1 L734.1 655.3 L729.2 656.4 L724.2 657.6 L719.2 658.7 L714.2 659.9 L709.3 661 L704.3 662.1 L699.3 663.2 L694.3 664.3 L689.3 665.4 L684.3 666.5 L679.4 667.6 L674.4 668.7 L669.4 669.9 L664.4 671 L659.5 672.1 L654.5 673.1 L649.5 674.1 L644.5 675.1 L639.5 676.1 z" fill="#fff" fill-opacity="0.100" stroke="none"/>
<path d="M760.2 655 L765.2 654.4 L770.3 653.8 L775.4 653.1 L780.4 652.5 L785.5 651.9 L790.5 651.3 L795.6 650.7 L800.7 650 L805.7 649.4 L810.8 648.8 L815.8 647.9 L820.8 647 L825.8 646.1 L831 645.2 L836 644.1 L841 643 L846 641.9 L851 640.9 L856 639.8 L861 638.8 L866 637.8 L871 636.9 L876 635.9 L881 634.8 L886 633.8 L891.1 632.8 L896.1 631.8 L901 630.8 L906 629.8 L911 628.8 L916 627.7 L921 626.7 L926 625.7 L931 624.8 L936 623.8 L941 622.8 L946 621.8 L951.1 620.7 L956.1 619.6 L961.1 618.5 L966.1 617.4 L971.1 616.3 L976.1 615.1 L981.1 614 L986.1 612.9 L991.1 611.9 L993.1 611.4 L990.9 601.4 L988.9 601.8 L983.9 602.9 L978.9 604 L973.9 605.1 L968.9 606.2 L963.9 607.3 L958.9 608.5 L953.9 609.6 L948.9 610.7 L944 611.7 L939 612.7 L934 613.7 L929 614.7 L924 615.7 L919 616.7 L914 617.7 L909 618.7 L904 619.7 L899 620.7 L893.9 621.8 L888.9 623 L884 624.1 L879 625.2 L874 626.3 L869 627.4 L864 628.5 L859 629.6 L854 630.7 L849 631.9 L844 633.1 L839 634.3 L834 635.4 L829 636.6 L824.2 637.6 L819.2 638.6 L814.2 639.6 L809.2 640.5 L804.3 641.7 L799.3 643 L794.4 644.2 L789.5 645.5 L784.5 646.8 L779.6 648 L774.6 649.3 L769.7 650.5 L764.8 651.8 L759.8 653 z" fill="#fff" fill-opacity="0.140" stroke="none"/>
<path d="M860.1 634.7 L865.1 633.8 L870.1 632.8 L875.2 631.9 L880.2 630.9 L885.2 630 L890.2 629 L895.3 628 L900.3 627.1 L905.3 626.2 L910.3 625.2 L915.3 624.3 L920.3 623.4 L925.4 622.5 L930.4 621.7 L935.4 620.8 L940.4 619.9 L945.4 619 L950.5 618 L955.5 617 L960.6 616 L965.6 614.9 L970.6 613.8 L975.6 612.7 L980.6 611.6 L985.6 610.5 L990.6 609.4 L992.6 608.9 L991.4 603.9 L989.4 604.3 L984.4 605.4 L979.4 606.5 L974.4 607.6 L969.4 608.7 L964.4 609.8 L959.4 610.9 L954.5 612.1 L949.5 613.4 L944.6 614.5 L939.6 615.6 L934.6 616.7 L929.6 617.8 L924.6 618.9 L919.7 620 L914.7 621.1 L909.7 622.2 L904.7 623.3 L899.7 624.4 L894.7 625.6 L889.8 626.8 L884.8 627.9 L879.8 629.1 L874.8 630.3 L869.9 631.4 L864.9 632.6 L859.9 633.7 z" fill="#fff" fill-opacity="0.070" stroke="none"/>
</g>
<ellipse cx="147.5" cy="481" rx="10" ry="32" fill="url(#sp)"/>
<ellipse cx="147.5" cy="481" rx="8.8" ry="8.8" fill="url(#o)"/>
<ellipse cx="182" cy="471" rx="10" ry="30" fill="url(#sp)"/>
<ellipse cx="182" cy="471" rx="8.8" ry="8.8" fill="url(#y)"/>
<ellipse cx="218.1" cy="471" rx="10" ry="32" fill="url(#sp)"/>
<ellipse cx="218.1" cy="471" rx="8.8" ry="8.8" fill="url(#o)"/>
<ellipse cx="249.2" cy="468.7" rx="10" ry="30" fill="url(#sp)"/>
<ellipse cx="249.2" cy="468.7" rx="8.8" ry="8.8" fill="url(#y)"/>
<ellipse cx="281.1" cy="465.2" rx="10" ry="32" fill="url(#sp)"/>
<ellipse cx="281.1" cy="465.2" rx="8.8" ry="8.8" fill="url(#o)"/>
<ellipse cx="311" cy="462.8" rx="10" ry="30" fill="url(#sp)"/>
<ellipse cx="311" cy="462.8" rx="8.8" ry="8.8" fill="url(#y)"/>
<ellipse cx="340.6" cy="459.8" rx="10" ry="26" fill="url(#sp)"/>
<ellipse cx="340.6" cy="459.8" rx="8.3" ry="8.3" fill="url(#g)"/>
<ellipse cx="369.8" cy="457.5" rx="7.5" ry="7.5" fill="url(#c)"/>
<ellipse cx="159.4" cy="602.1" rx="10" ry="30" fill="url(#sp)"/>
<ellipse cx="159.4" cy="602.1" rx="8.8" ry="8.8" fill="url(#y)"/>
<ellipse cx="188.5" cy="603.3" rx="10" ry="26" fill="url(#sp)"/>
<ellipse cx="188.5" cy="603.3" rx="8.3" ry="8.3" fill="url(#g)"/>
<ellipse cx="221.6" cy="604.4" rx="10" ry="26" fill="url(#sp)"/>
<ellipse cx="221.6" cy="604.4" rx="8.3" ry="8.3" fill="url(#g)"/>
<ellipse cx="252.4" cy="606.3" rx="10" ry="30" fill="url(#sp)"/>
<ellipse cx="252.4" cy="606.3" rx="8.8" ry="8.8" fill="url(#y)"/>
<ellipse cx="281.1" cy="607.5" rx="10" ry="30" fill="url(#sp)"/>
<ellipse cx="281.1" cy="607.5" rx="8.8" ry="8.8" fill="url(#y)"/>
<ellipse cx="307.3" cy="607.5" rx="10" ry="26" fill="url(#sp)"/>
<ellipse cx="307.3" cy="607.5" rx="8.3" ry="8.3" fill="url(#g)"/>
<ellipse cx="332.4" cy="605.6" rx="10" ry="26" fill="url(#sp)"/>
<ellipse cx="332.4" cy="605.6" rx="9.9" ry="7.7" fill="url(#g)"/>
<ellipse cx="355.8" cy="604" rx="10" ry="26" fill="url(#sp)"/>
<ellipse cx="355.8" cy="604" rx="8.3" ry="8.3" fill="url(#g)"/>
<ellipse cx="380.3" cy="605.6" rx="10" ry="26" fill="url(#sp)"/>
<ellipse cx="380.3" cy="605.6" rx="8.3" ry="8.3" fill="url(#g)"/>
<ellipse cx="410.6" cy="621.8" rx="10" ry="26" fill="url(#sp)"/>
<ellipse cx="410.6" cy="621.8" rx="4.5" ry="7.7" fill="url(#g)" transform="rotate(-20 410.6 621.8)"/>
<ellipse cx="144.2" cy="697.8" rx="10" ry="26" fill="url(#sp)"/>
<ellipse cx="144.2" cy="697.8" rx="8.3" ry="8.3" fill="url(#g)"/>
<ellipse cx="171" cy="700.8" rx="10" ry="26" fill="url(#sp)"/>
<ellipse cx="171" cy="700.8" rx="8.3" ry="8.3" fill="url(#g)"/>
<ellipse cx="207.6" cy="697.8" rx="10" ry="32" fill="url(#sp)"/>
<ellipse cx="207.6" cy="697.8" rx="8.8" ry="8.8" fill="url(#o)"/>
<ellipse cx="237.5" cy="692" rx="10" ry="30" fill="url(#sp)"/>
<ellipse cx="237.5" cy="692" rx="8.8" ry="8.8" fill="url(#y)"/>
<ellipse cx="266.4" cy="686.1" rx="10" ry="30" fill="url(#sp)"/>
<ellipse cx="266.4" cy="686.1" rx="8.8" ry="8.8" fill="url(#y)"/>
<ellipse cx="294" cy="679.6" rx="10" ry="30" fill="url(#sp)"/>
<ellipse cx="294" cy="679.6" rx="8.8" ry="8.8" fill="url(#y)"/>
<ellipse cx="321.5" cy="674" rx="10" ry="26" fill="url(#sp)"/>
<ellipse cx="321.5" cy="674" rx="8.3" ry="8.3" fill="url(#g)"/>
<ellipse cx="348.3" cy="669.1" rx="10" ry="26" fill="url(#sp)"/>
<ellipse cx="348.3" cy="669.1" rx="8.3" ry="8.3" fill="url(#g)"/>
<ellipse cx="376.8" cy="664.4" rx="10" ry="26" fill="url(#sp)"/>
<ellipse cx="376.8" cy="664.4" rx="8.3" ry="8.3" fill="url(#g)"/>
<ellipse cx="410.6" cy="649.5" rx="10" ry="26" fill="url(#sp)"/>
<ellipse cx="410.6" cy="649.5" rx="4.5" ry="8.1" fill="url(#g)" transform="rotate(25 410.6 649.5)"/>
<ellipse cx="416" cy="637.2" rx="10" ry="32" fill="url(#sp)"/>
<ellipse cx="416" cy="637.2" rx="2.9" ry="7.7" fill="url(#r)"/>
<ellipse cx="441.1" cy="577.2" rx="10" ry="26" fill="url(#sp)"/>
<ellipse cx="441.1" cy="577.2" rx="9.9" ry="7.7" fill="url(#g)" transform="rotate(-35 441.1 577.2)"/>
<ellipse cx="466.8" cy="569" rx="10" ry="26" fill="url(#sp)"/>
<ellipse cx="466.8" cy="569" rx="8.3" ry="8.3" fill="url(#g)"/>
<ellipse cx="493.6" cy="563.2" rx="10" ry="26" fill="url(#sp)"/>
<ellipse cx="493.6" cy="563.2" rx="8.3" ry="8.3" fill="url(#g)"/>
<ellipse cx="521.1" cy="558.5" rx="10" ry="26" fill="url(#sp)"/>
<ellipse cx="521.1" cy="558.5" rx="8.3" ry="8.3" fill="url(#g)"/>
<ellipse cx="549.1" cy="552.7" rx="10" ry="26" fill="url(#sp)"/>
<ellipse cx="549.1" cy="552.7" rx="8.3" ry="8.3" fill="url(#g)"/>
<ellipse cx="575.5" cy="547.5" rx="10" ry="26" fill="url(#sp)"/>
<ellipse cx="575.5" cy="547.5" rx="8.3" ry="8.3" fill="url(#g)"/>
<ellipse cx="602.1" cy="542.4" rx="10" ry="26" fill="url(#sp)"/>
<ellipse cx="602.1" cy="542.4" rx="8.3" ry="8.3" fill="url(#g)"/>
<ellipse cx="627.3" cy="537" rx="10" ry="26" fill="url(#sp)"/>
<ellipse cx="627.3" cy="537" rx="8.3" ry="8.3" fill="url(#g)"/>
<ellipse cx="652.9" cy="532.4" rx="10" ry="26" fill="url(#sp)"/>
<ellipse cx="652.9" cy="532.4" rx="9.9" ry="9" fill="url(#g)" transform="rotate(-12 652.9 532.4)"/>
<ellipse cx="678.1" cy="527.9" rx="10" ry="26" fill="url(#sp)"/>
<ellipse cx="678.1" cy="527.9" rx="9.9" ry="9" fill="url(#g)" transform="rotate(-12 678.1 527.9)"/>
<ellipse cx="702.3" cy="522.9" rx="10" ry="26" fill="url(#sp)"/>
<ellipse cx="702.3" cy="522.9" rx="9.9" ry="9" fill="url(#g)" transform="rotate(-12 702.3 522.9)"/>
<ellipse cx="725.6" cy="517.7" rx="10" ry="26" fill="url(#sp)"/>
<ellipse cx="725.6" cy="517.7" rx="9.9" ry="9" fill="url(#g)" transform="rotate(-12 725.6 517.7)"/>
<ellipse cx="749.6" cy="512.7" rx="10" ry="26" fill="url(#sp)"/>
<ellipse cx="749.6" cy="512.7" rx="9.9" ry="9" fill="url(#g)" transform="rotate(-12 749.6 512.7)"/>
<ellipse cx="773.2" cy="508.3" rx="11.8" ry="10" fill="url(#m)" transform="rotate(-12 773.2 508.3)"/>
<ellipse cx="796.5" cy="504" rx="12.3" ry="10" fill="url(#m)" transform="rotate(-12 796.5 504)"/>
<ellipse cx="819" cy="499" rx="12.8" ry="10" fill="url(#m)" transform="rotate(-12 819 499)"/>
<ellipse cx="842.3" cy="494.3" rx="9.3" ry="7" fill="url(#tg)" transform="rotate(-12 842.3 494.3)"/>
<ellipse cx="864.2" cy="489.4" rx="9.6" ry="7" fill="url(#tg)" transform="rotate(-12 864.2 489.4)"/>
<ellipse cx="886.1" cy="485" rx="9.9" ry="7" fill="url(#tg)" transform="rotate(-12 886.1 485)"/>
<ellipse cx="908" cy="480" rx="10.5" ry="7" fill="url(#ty)" transform="rotate(-12 908 480)"/>
<ellipse cx="929.8" cy="475.4" rx="10.5" ry="7" fill="url(#ty)" transform="rotate(-12 929.8 475.4)"/>
<ellipse cx="951.7" cy="471" rx="10.5" ry="7" fill="url(#ty)" transform="rotate(-12 951.7 471)"/>
<ellipse cx="977.4" cy="464.6" rx="10.5" ry="7" fill="url(#ty)" transform="rotate(-12 977.4 464.6)"/>
<ellipse cx="469.2" cy="716.7" rx="10" ry="26" fill="url(#sp)"/>
<ellipse cx="469.2" cy="716.7" rx="9.5" ry="8.6" fill="url(#g)"/>
<ellipse cx="497.2" cy="711.1" rx="10" ry="26" fill="url(#sp)"/>
<ellipse cx="497.2" cy="711.1" rx="8.3" ry="8.3" fill="url(#g)"/>
<ellipse cx="524.7" cy="704.6" rx="10" ry="26" fill="url(#sp)"/>
<ellipse cx="524.7" cy="704.6" rx="8.3" ry="8.3" fill="url(#g)"/>
<ellipse cx="554.5" cy="696.2" rx="10" ry="26" fill="url(#sp)"/>
<ellipse cx="554.5" cy="696.2" rx="8.3" ry="8.3" fill="url(#g)"/>
<ellipse cx="583.1" cy="689.4" rx="10" ry="32" fill="url(#sp)"/>
<ellipse cx="583.1" cy="689.4" rx="5.7" ry="9.6" fill="url(#o)"/>
<ellipse cx="609.2" cy="684.4" rx="10" ry="26" fill="url(#sp)"/>
<ellipse cx="609.2" cy="684.4" rx="8.3" ry="8.3" fill="url(#g)"/>
<ellipse cx="635.4" cy="679.4" rx="10" ry="26" fill="url(#sp)"/>
<ellipse cx="635.4" cy="679.4" rx="8.3" ry="8.3" fill="url(#g)"/>
<ellipse cx="660.9" cy="674.7" rx="10" ry="26" fill="url(#sp)"/>
<ellipse cx="660.9" cy="674.7" rx="9.9" ry="9" fill="url(#g)" transform="rotate(-12 660.9 674.7)"/>
<ellipse cx="686.3" cy="669.4" rx="10" ry="26" fill="url(#sp)"/>
<ellipse cx="686.3" cy="669.4" rx="9.9" ry="9" fill="url(#g)" transform="rotate(-12 686.3 669.4)"/>
<ellipse cx="711" cy="664.4" rx="10" ry="26" fill="url(#sp)"/>
<ellipse cx="711" cy="664.4" rx="9.9" ry="9" fill="url(#g)" transform="rotate(-12 711 664.4)"/>
<ellipse cx="735.3" cy="659.2" rx="10" ry="26" fill="url(#sp)"/>
<ellipse cx="735.3" cy="659.2" rx="9.9" ry="9" fill="url(#g)" transform="rotate(-12 735.3 659.2)"/>
<ellipse cx="759.2" cy="654.2" rx="10" ry="26" fill="url(#sp)"/>
<ellipse cx="759.2" cy="654.2" rx="9.9" ry="9" fill="url(#g)" transform="rotate(-12 759.2 654.2)"/>
<ellipse cx="782.5" cy="649.8" rx="12" ry="10" fill="url(#m)" transform="rotate(-12 782.5 649.8)"/>
<ellipse cx="805.9" cy="645.4" rx="12.5" ry="10" fill="url(#m)" transform="rotate(-12 805.9 645.4)"/>
<ellipse cx="829.2" cy="641.1" rx="13" ry="10" fill="url(#m)" transform="rotate(-12 829.2 641.1)"/>
<ellipse cx="852.5" cy="635.8" rx="9.4" ry="7" fill="url(#tg)" transform="rotate(-12 852.5 635.8)"/>
<ellipse cx="875.9" cy="630.9" rx="9.8" ry="7" fill="url(#tg)" transform="rotate(-12 875.9 630.9)"/>
<ellipse cx="899.2" cy="625.9" rx="10.1" ry="7" fill="url(#tg)" transform="rotate(-12 899.2 625.9)"/>
<ellipse cx="922.5" cy="621.2" rx="10.5" ry="7" fill="url(#ty)" transform="rotate(-12 922.5 621.2)"/>
<ellipse cx="947.3" cy="616.3" rx="10.5" ry="7" fill="url(#ty)" transform="rotate(-12 947.3 616.3)"/>
<ellipse cx="977.4" cy="609.6" rx="10.5" ry="7" fill="url(#ty)" transform="rotate(-12 977.4 609.6)"/>
</g></g>
<g fill="none" stroke="#000" stroke-width="2.4">
<rect x="143.2" y="457.2" width="835" height="319.3"/>
<path d="M143.2 776.5v10.5M560.7 776.5v10.5M978.2 776.5v10.5M143.2 457.2h-10.5M143.2 616.9h-10.5M143.2 776.5h-10.5"/>
</g>
<text class="pl" x="-0.5" y="452.1">b</text>
<text class="lab" x="141.7" y="815.9" text-anchor="middle">0</text>
<text class="lab" x="559.2" y="815.9" text-anchor="middle">3</text>
<text class="lab" x="976.7" y="815.9" text-anchor="middle">6</text>
<text class="lab" x="122" y="465.6" text-anchor="end">10</text>
<text class="lab" x="122" y="627.7" text-anchor="end">5</text>
<text class="lab" x="122" y="783.6" text-anchor="end">0</text>
<text class="lab" x="564.5" y="848.8" text-anchor="middle">Time (µs)</text>
<text class="lab" transform="translate(62.2 618.7) rotate(-90)" text-anchor="middle">Co-rotating time (ps)</text>
<g clip-path="url(#cpc)"><g filter="url(#jetc)">
<rect x="1187.0" y="0.5" width="875.2" height="359.9" fill="#000"/>
<g stroke="none" filter="url(#b2c)">
<linearGradient id="txc0" x1="0" x2="1" y1="0" y2="0"><stop offset="0" stop-color="#fff" stop-opacity="0.040"/><stop offset="0.685" stop-color="#fff" stop-opacity="0.040"/><stop offset="1" stop-color="#fff" stop-opacity="0"/></linearGradient>
<rect x="1187" y="0" width="433" height="360" fill="url(#txc0)"/>
<path d="M1219.7 -15.2 q6.7 69.3 -7.1 121.6 q-8.4 -47.3 7.1 -121.6 z" fill="#000" fill-opacity="0.73"/>
<path d="M1213.8 97.9 q12.7 34.1 -9.7 86.5 q-10.2 -52.9 9.7 -86.5 z" fill="#000" fill-opacity="0.86"/>
<path d="M1218.2 211.7 q22.8 66.7 -4.9 134.4 q-6.7 -77.5 4.9 -134.4 z" fill="#000" fill-opacity="0.93"/>
<path d="M1238.2 -35.6 q19.2 45.6 9.7 88.2 q-22.8 -50.7 -9.7 -88.2 z" fill="#000" fill-opacity="0.93"/>
<path d="M1239 56.8 q10.6 53.1 -4.9 99.9 q-6.9 -46.8 4.9 -99.9 z" fill="#000" fill-opacity="0.83"/>
<path d="M1239.8 150.3 q13.6 51.6 -8.5 81.2 q-0.2 -37.9 8.5 -81.2 z" fill="#000" fill-opacity="0.78"/>
<path d="M1238.5 261.9 q10.6 30.3 2.8 63.9 q-24.3 -39 -2.8 -63.9 z" fill="#000" fill-opacity="0.94"/>
<path d="M1273.9 -1.7 q14.3 38.8 2.1 93.7 q-9.2 -50.2 -2.1 -93.7 z" fill="#000" fill-opacity="0.99"/>
<path d="M1274.1 103.9 q15.3 35.4 -6.7 92.3 q-2.7 -38.6 6.7 -92.3 z" fill="#000" fill-opacity="0.75"/>
<path d="M1271.5 196.2 q3.4 38.6 -3.1 110.1 q-13.3 -71.5 3.1 -110.1 z" fill="#000" fill-opacity="0.80"/>
<path d="M1272.2 289.3 q15.6 29.6 -2.7 84.2 q-2.2 -37.9 2.7 -84.2 z" fill="#000" fill-opacity="0.81"/>
<path d="M1298.2 -32.1 q13.7 51.4 8.2 120.3 q-14.2 -66.8 -8.2 -120.3 z" fill="#000" fill-opacity="0.83"/>
<path d="M1299 93.1 q9.2 40.8 -5.9 112.9 q-8 -53 5.9 -112.9 z" fill="#000" fill-opacity="0.75"/>
<path d="M1294.1 205.4 q16.7 51.3 -0.4 114 q-14.5 -49.8 0.4 -114 z" fill="#000" fill-opacity="0.72"/>
<path d="M1295.6 305.5 q14.4 49.6 -3.9 137.7 q-14 -53.5 3.9 -137.7 z" fill="#000" fill-opacity="0.73"/>
<path d="M1334.9 9.2 q16.9 32.8 -3.5 63.9 q-0.8 -24.8 3.5 -63.9 z" fill="#000" fill-opacity="0.93"/>
<path d="M1329.5 64 q18.3 57.2 -3.1 138.1 q-5.5 -78.1 3.1 -138.1 z" fill="#000" fill-opacity="0.78"/>
<path d="M1340.3 225.7 q18.6 66.1 2.4 106.8 q-10.1 -41.1 -2.4 -106.8 z" fill="#000" fill-opacity="0.85"/>
<path d="M1334.9 326.2 q5.4 48.7 -4 133.1 q-14.6 -47.8 4 -133.1 z" fill="#000" fill-opacity="0.99"/>
<path d="M1370.7 -0.7 q16.5 65.6 6.7 150 q-16.2 -86.8 -6.7 -150 z" fill="#000" fill-opacity="0.87"/>
<path d="M1366 121.5 q3.8 53.7 -1 149.7 q-18.7 -64 1 -149.7 z" fill="#000" fill-opacity="0.92"/>
<path d="M1371.3 278.7 q20.6 40.7 9.9 82.3 q-22.1 -35.2 -9.9 -82.3 z" fill="#000" fill-opacity="0.80"/>
<path d="M1396.4 -54.5 q16.3 37.9 -9.3 93.8 q3.3 -35.7 9.3 -93.8 z" fill="#000" fill-opacity="0.85"/>
<path d="M1396.6 40 q17.7 76.1 -5.7 139.7 q-4.1 -66.8 5.7 -139.7 z" fill="#000" fill-opacity="0.94"/>
<path d="M1391.7 178.9 q16.3 86.4 -8.9 137.6 q-7.4 -58.8 8.9 -137.6 z" fill="#000" fill-opacity="0.70"/>
<path d="M1397.1 319.6 q7.1 34.1 5.2 81.9 q-17.4 -29.9 -5.2 -81.9 z" fill="#000" fill-opacity="0.81"/>
<path d="M1436.2 -10.8 q20 39.1 6.6 69 q-20.8 -38 -6.6 -69 z" fill="#000" fill-opacity="0.94"/>
<path d="M1433.6 60.1 q16.1 36.3 2.8 72 q-15.4 -42 -2.8 -72 z" fill="#000" fill-opacity="0.67"/>
<path d="M1430.4 144.7 q13.3 84.8 8.7 133.3 q-23.7 -60.2 -8.7 -133.3 z" fill="#000" fill-opacity="0.79"/>
<path d="M1428.7 301.4 q15.2 71.1 -1.7 121.5 q-3.5 -78.5 1.7 -121.5 z" fill="#000" fill-opacity="0.82"/>
<path d="M1457 -10 q18.3 27.7 -4 67.2 q0.7 -42.3 4 -67.2 z" fill="#000" fill-opacity="0.76"/>
<path d="M1455.2 51.1 q8.7 61.1 -8.7 147.7 q-3.7 -58.7 8.7 -147.7 z" fill="#000" fill-opacity="0.70"/>
<path d="M1457.2 183.1 q17.5 36.1 3.2 64.4 q-14 -38 -3.2 -64.4 z" fill="#000" fill-opacity="0.96"/>
<path d="M1462.7 250.9 q8.5 36.4 5.6 64.9 q-24.6 -31 -5.6 -64.9 z" fill="#000" fill-opacity="0.83"/>
<path d="M1462.1 314.3 q17.5 32.4 -4.4 85.3 q-6.2 -46.6 4.4 -85.3 z" fill="#000" fill-opacity="0.97"/>
<path d="M1491.3 -49.6 q5.7 74.5 -1.2 132.7 q-17.2 -69.4 1.2 -132.7 z" fill="#000" fill-opacity="0.69"/>
<path d="M1492.8 88.4 q5.9 30.8 7.7 81 q-26.8 -47.7 -7.7 -81 z" fill="#000" fill-opacity="0.65"/>
<path d="M1490.1 182.9 q4 60.9 -5.1 97.9 q-10.1 -34.8 5.1 -97.9 z" fill="#000" fill-opacity="0.83"/>
<path d="M1489.7 292.1 q22.6 75 2.6 127.2 q-11 -67.4 -2.6 -127.2 z" fill="#000" fill-opacity="0.85"/>
<path d="M1523.9 -4.6 q8.6 50.5 -3.2 115.8 q-7.7 -59.8 3.2 -115.8 z" fill="#000" fill-opacity="0.93"/>
<path d="M1526.5 123.7 q19.9 64.3 0.7 113.5 q-12.6 -65 -0.7 -113.5 z" fill="#000" fill-opacity="0.80"/>
<path d="M1521.3 255.8 q17.9 39.9 -0 110 q-5.1 -50 0 -110 z" fill="#000" fill-opacity="0.80"/>
<path d="M1557.8 -57.2 q19 73.8 -1.9 129.4 q-7.4 -67.2 1.9 -129.4 z" fill="#000" fill-opacity="0.67"/>
<path d="M1558 51.3 q21.4 47.9 -2 122.9 q-7.4 -78.4 2 -122.9 z" fill="#000" fill-opacity="0.86"/>
<path d="M1558 179.3 q10 66.5 0.2 112.8 q-24.3 -61.1 -0.2 -112.8 z" fill="#000" fill-opacity="0.83"/>
<path d="M1564.9 271 q21.8 40.2 -9.3 97.8 q-2 -55.7 9.3 -97.8 z" fill="#000" fill-opacity="0.81"/>
<path d="M1578.9 -6.5 q21.5 68.6 3.9 124.8 q-10.6 -62.2 -3.9 -124.8 z" fill="#000" fill-opacity="0.75"/>
<path d="M1580.2 113.4 q10.2 53 0.5 102.1 q-21 -37.5 -0.5 -102.1 z" fill="#000" fill-opacity="0.67"/>
<path d="M1591 210.7 q17.1 67.5 -7.1 124.8 q-5.8 -50.2 7.1 -124.8 z" fill="#000" fill-opacity="1.00"/>
<path d="M1589.6 312.9 q18.8 53.9 -8.4 107.1 q-3.3 -42.9 8.4 -107.1 z" fill="#000" fill-opacity="0.85"/>
<path d="M1511.8 5.1 q4.1 26.9 6.3 47.5 q-18 -23.2 -6.3 -47.5 z" fill="#fff" fill-opacity="0.02"/>
<path d="M1516.9 72.7 q11.5 37 5.6 77.7 q-14.6 -32.8 -5.6 -77.7 z" fill="#fff" fill-opacity="0.01"/>
<path d="M1507.6 196.6 q18.3 22.6 -8.6 59 q2.8 -27.1 8.6 -59 z" fill="#fff" fill-opacity="0.02"/>
<path d="M1508.1 304.6 q13.5 50.4 -0.7 102.9 q-6 -58.1 0.7 -102.9 z" fill="#fff" fill-opacity="0.02"/>
<path d="M1546.3 -19.3 q19.1 40.5 1.9 102.1 q-6.6 -53.3 -1.9 -102.1 z" fill="#fff" fill-opacity="0.05"/>
<path d="M1539.6 109.7 q6.7 46.1 -6.1 88.1 q-10.5 -41 6.1 -88.1 z" fill="#fff" fill-opacity="0.04"/>
<path d="M1542.2 209.7 q12.6 44.7 -8.6 108.2 q-0.4 -41.8 8.6 -108.2 z" fill="#fff" fill-opacity="0.04"/>
<path d="M1561.8 16.8 q12.4 19.9 4.9 41.5 q-9.5 -25.8 -4.9 -41.5 z" fill="#fff" fill-opacity="0.04"/>
<path d="M1561.7 119.2 q7.2 26.5 3.5 43.5 q-18.7 -22 -3.5 -43.5 z" fill="#fff" fill-opacity="0.04"/>
<path d="M1560.3 172.5 q13.1 65.8 7.9 109.2 q-10.4 -58.9 -7.9 -109.2 z" fill="#fff" fill-opacity="0.04"/>
<path d="M1572.8 314.6 q8.5 20.3 4.6 53.3 q-21.4 -32.7 -4.6 -53.3 z" fill="#fff" fill-opacity="0.03"/>
<path d="M1597.1 -36.1 q5.6 28.7 7.9 69.7 q-26.1 -31.4 -7.9 -69.7 z" fill="#fff" fill-opacity="0.03"/>
<path d="M1593.6 38.6 q10.5 54.9 -7.5 85.9 q2.8 -42.1 7.5 -85.9 z" fill="#fff" fill-opacity="0.04"/>
<path d="M1593.8 152.1 q7.2 24.3 3.8 65.7 q-11.7 -25.8 -3.8 -65.7 z" fill="#fff" fill-opacity="0.03"/>
<path d="M1596.7 252.4 q9 49.5 1.6 98.1 q-13.4 -62.1 -1.6 -98.1 z" fill="#fff" fill-opacity="0.04"/>
<path d="M1631.5 15.6 q12.6 45.4 -7.5 96.9 q6 -48.1 7.5 -96.9 z" fill="#fff" fill-opacity="0.04"/>
<path d="M1631.5 130.6 q4.3 34.7 -2.7 79.6 q-11.6 -47.9 2.7 -79.6 z" fill="#fff" fill-opacity="0.04"/>
<path d="M1624.1 249.9 q9 22.6 -6.3 60.1 q-8.5 -23.7 6.3 -60.1 z" fill="#fff" fill-opacity="0.03"/>
<path d="M1659.2 -24.5 q6 27.6 1.5 60.5 q-8.6 -28.7 -1.5 -60.5 z" fill="#fff" fill-opacity="0.03"/>
<path d="M1654.4 49.9 q5.5 21 -9.7 52.4 q1.5 -21.5 9.7 -52.4 z" fill="#fff" fill-opacity="0.04"/>
<path d="M1655.6 171.4 q8.6 57.4 -8.4 107.6 q-2.7 -50.5 8.4 -107.6 z" fill="#fff" fill-opacity="0.04"/>
<path d="M1663.5 319.6 q9.7 32.2 8.1 60.6 q-18.5 -29.7 -8.1 -60.6 z" fill="#fff" fill-opacity="0.03"/>
<path d="M1690.3 -18.1 q8.9 41.9 0.6 94.1 q-12.2 -40.5 -0.6 -94.1 z" fill="#fff" fill-opacity="0.04"/>
<path d="M1679.7 126.9 q13.4 45.5 6.1 78.7 q-8.2 -34.4 -6.1 -78.7 z" fill="#fff" fill-opacity="0.03"/>
<path d="M1687.6 266.7 q13.3 42.8 0.1 67.1 q-0.3 -38.6 -0.1 -67.1 z" fill="#fff" fill-opacity="0.03"/>
<path d="M1717.7 -35.4 q3.7 36 5.7 69.7 q-18.7 -24.8 -5.7 -69.7 z" fill="#fff" fill-opacity="0.03"/>
<path d="M1711.5 97.9 q8.9 17.7 0.1 40.3 q-15.6 -23 -0.1 -40.3 z" fill="#fff" fill-opacity="0.04"/>
<path d="M1711.4 173.9 q8.7 51.7 8.2 88.4 q-17.4 -54.4 -8.2 -88.4 z" fill="#fff" fill-opacity="0.04"/>
<path d="M1719.4 277 q15.7 20.5 -9.2 47.3 q7.7 -25.6 9.2 -47.3 z" fill="#fff" fill-opacity="0.03"/>
<path d="M1736.7 -6.3 q2.8 39.3 8 62.9 q-20.2 -33.7 -8 -62.9 z" fill="#fff" fill-opacity="0.02"/>
<path d="M1736.8 100.2 q16.9 22 3.6 57.9 q-7.4 -31.5 -3.6 -57.9 z" fill="#fff" fill-opacity="0.03"/>
<path d="M1748.6 225.2 q6.9 23.1 -3.4 57.5 q-2.8 -26.8 3.4 -57.5 z" fill="#fff" fill-opacity="0.03"/>
<path d="M1738.6 315.1 q13.1 27 9.8 68.4 q-11.7 -36.9 -9.8 -68.4 z" fill="#fff" fill-opacity="0.02"/>
<path d="M1775.6 -19.7 q10.4 21.7 8.9 47.2 q-18.9 -19.5 -8.9 -47.2 z" fill="#fff" fill-opacity="0.02"/>
<path d="M1773.2 80.9 q9.4 42.4 9.8 75.2 q-16.5 -33.7 -9.8 -75.2 z" fill="#fff" fill-opacity="0.02"/>
<path d="M1780.6 158.1 q9.4 39.8 7.2 83.2 q-19.4 -35.6 -7.2 -83.2 z" fill="#fff" fill-opacity="0.02"/>
<path d="M1778.6 296.8 q11.7 43.3 -5.6 76.7 q-7.2 -32.4 5.6 -76.7 z" fill="#fff" fill-opacity="0.01"/>
<path d="M1799.8 0.2 q13.1 24.3 0.2 44.2 q-8.1 -24.1 -0.2 -44.2 z" fill="#fff" fill-opacity="0.02"/>
<path d="M1806.4 70.6 q8.4 19.7 5.1 48.9 q-19.4 -24.9 -5.1 -48.9 z" fill="#fff" fill-opacity="0.02"/>
<path d="M1799.5 165.5 q9.8 53.4 7.7 101.1 q-15.4 -62.4 -7.7 -101.1 z" fill="#fff" fill-opacity="0.02"/>
<path d="M1795.3 287 q5.7 39.3 9.6 108.2 q-23.8 -69 -9.6 -108.2 z" fill="#fff" fill-opacity="0.01"/>
</g>
<g fill="none" stroke="#fff" stroke-linecap="round" stroke-linejoin="round" filter="url(#b6c)">
<path d="M1233.8 86.6 C1238.3 86 1252.3 84.3 1261.1 83.1 C1269.9 81.8 1278.4 80.1 1286.8 79.1 C1295.2 78 1303 77.1 1311.5 76.8 C1320 76.5 1329 77.1 1338.1 77.3 C1347.2 77.5 1356.8 78.5 1366.1 78 C1375.3 77.5 1384.5 76.8 1393.6 74.5 C1402.6 72.2 1411.6 67.5 1420.4 64 C1429.2 60.5 1437.4 56.6 1446.6 53.5 C1455.8 50.4 1465.7 48.9 1475.7 45.3 C1485.7 41.7 1496.5 34.1 1506.6 31.8 C1516.7 29.5 1526.7 32.4 1536.5 31.3 C1546.3 30.2 1560.8 26.5 1565.6 25.5" stroke-width="52" stroke-opacity="0.025"/>
<path d="M1233.8 86.6 C1238.3 86 1252.3 84.3 1261.1 83.1 C1269.9 81.8 1278.4 80.1 1286.8 79.1 C1295.2 78 1303 77.1 1311.5 76.8 C1320 76.5 1329 77.1 1338.1 77.3 C1347.2 77.5 1356.8 78.5 1366.1 78 C1375.3 77.5 1384.5 76.8 1393.6 74.5 C1402.6 72.2 1411.6 67.5 1420.4 64 C1429.2 60.5 1437.4 56.6 1446.6 53.5 C1455.8 50.4 1465.7 48.9 1475.7 45.3 C1485.7 41.7 1496.5 34.1 1506.6 31.8 C1516.7 29.5 1526.7 32.4 1536.5 31.3 C1546.3 30.2 1560.8 26.5 1565.6 25.5" stroke-width="30" stroke-opacity="0.040"/>
<path d="M1222.9 212.5 C1228.3 211.7 1244.1 209 1255.3 207.5 C1266.5 206 1279 204.1 1290.3 203.3 C1301.6 202.6 1309.5 208.3 1322.9 203 C1336.3 197.7 1357.8 175.5 1370.7 171.4 C1383.6 167.3 1389.8 179.3 1400.4 178.4 C1411 177.5 1423.9 170.7 1434.4 166 C1444.9 161.3 1453.8 154.8 1463.4 150.5 C1473 146.2 1481.6 143.6 1492.1 140.4 C1502.6 137.2 1515 134.5 1526.4 131.6 C1537.8 128.7 1549.3 124.8 1560.3 122.8 C1571.3 120.8 1587.1 119.9 1592.5 119.3" stroke-width="52" stroke-opacity="0.025"/>
<path d="M1222.9 212.5 C1228.3 211.7 1244.1 209 1255.3 207.5 C1266.5 206 1279 204.1 1290.3 203.3 C1301.6 202.6 1309.5 208.3 1322.9 203 C1336.3 197.7 1357.8 175.5 1370.7 171.4 C1383.6 167.3 1389.8 179.3 1400.4 178.4 C1411 177.5 1423.9 170.7 1434.4 166 C1444.9 161.3 1453.8 154.8 1463.4 150.5 C1473 146.2 1481.6 143.6 1492.1 140.4 C1502.6 137.2 1515 134.5 1526.4 131.6 C1537.8 128.7 1549.3 124.8 1560.3 122.8 C1571.3 120.8 1587.1 119.9 1592.5 119.3" stroke-width="30" stroke-opacity="0.040"/>
<path d="M1204.5 299 C1209.4 300 1224 306.8 1233.8 304.8 C1243.6 302.9 1253.4 291.9 1263.4 287.3 C1273.4 282.7 1283.7 280.4 1294 277.3 C1304.3 274.2 1314 273 1325.3 268.6 C1336.6 264.2 1348.2 255.4 1362.1 251.1 C1376 246.8 1396.5 245 1408.8 242.5 C1421 240 1426.8 239 1435.6 236 C1444.4 233 1452.3 228 1461.7 224.3 C1471.1 220.6 1481.2 218.4 1492.1 214 C1503 209.6 1515.9 201.4 1527.1 198 C1538.3 194.6 1548.5 196.7 1559.3 193.7 C1570.1 190.7 1581.8 186.8 1591.8 180 C1601.8 173.2 1610 158.7 1619.3 153 C1628.5 147.3 1638.1 149 1647.3 146 C1656.5 143 1665.7 138.1 1674.6 135.1 C1683.5 132.1 1692 131.1 1700.5 128.1 C1709 125.1 1717.2 119.9 1725.4 116.9 C1733.6 113.9 1743.2 112.2 1749.6 110.2 C1756 108.2 1761.6 105.7 1764 104.8" stroke-width="52" stroke-opacity="0.025"/>
<path d="M1204.5 299 C1209.4 300 1224 306.8 1233.8 304.8 C1243.6 302.9 1253.4 291.9 1263.4 287.3 C1273.4 282.7 1283.7 280.4 1294 277.3 C1304.3 274.2 1314 273 1325.3 268.6 C1336.6 264.2 1348.2 255.4 1362.1 251.1 C1376 246.8 1396.5 245 1408.8 242.5 C1421 240 1426.8 239 1435.6 236 C1444.4 233 1452.3 228 1461.7 224.3 C1471.1 220.6 1481.2 218.4 1492.1 214 C1503 209.6 1515.9 201.4 1527.1 198 C1538.3 194.6 1548.5 196.7 1559.3 193.7 C1570.1 190.7 1581.8 186.8 1591.8 180 C1601.8 173.2 1610 158.7 1619.3 153 C1628.5 147.3 1638.1 149 1647.3 146 C1656.5 143 1665.7 138.1 1674.6 135.1 C1683.5 132.1 1692 131.1 1700.5 128.1 C1709 125.1 1717.2 119.9 1725.4 116.9 C1733.6 113.9 1743.2 112.2 1749.6 110.2 C1756 108.2 1761.6 105.7 1764 104.8" stroke-width="30" stroke-opacity="0.040"/>
<path d="M1788 348.5 C1791.8 346.9 1803.4 342 1811.1 338.7 C1818.8 335.4 1830.2 330.4 1834 328.8" stroke-width="52" stroke-opacity="0.025"/>
<path d="M1788 348.5 C1791.8 346.9 1803.4 342 1811.1 338.7 C1818.8 335.4 1830.2 330.4 1834 328.8" stroke-width="30" stroke-opacity="0.040"/>
<path d="M1320 285 L1318 345" stroke-width="20" stroke-opacity="0.060"/>
</g>
<g fill="none" stroke="#fff" stroke-linecap="round" stroke-linejoin="round" filter="url(#b3c)">
<path d="M1233.8 86.6 C1238.3 86 1252.3 84.3 1261.1 83.1 C1269.9 81.8 1278.4 80.1 1286.8 79.1 C1295.2 78 1303 77.1 1311.5 76.8 C1320 76.5 1329 77.1 1338.1 77.3 C1347.2 77.5 1356.8 78.5 1366.1 78 C1375.3 77.5 1384.5 76.8 1393.6 74.5 C1402.6 72.2 1411.6 67.5 1420.4 64 C1429.2 60.5 1437.4 56.6 1446.6 53.5 C1455.8 50.4 1465.7 48.9 1475.7 45.3 C1485.7 41.7 1496.5 34.1 1506.6 31.8 C1516.7 29.5 1526.7 32.4 1536.5 31.3 C1546.3 30.2 1560.8 26.5 1565.6 25.5" stroke-width="18" stroke-opacity="0.085"/>
<path d="M1222.9 212.5 C1228.3 211.7 1244.1 209 1255.3 207.5 C1266.5 206 1279 204.1 1290.3 203.3 C1301.6 202.6 1309.5 208.3 1322.9 203 C1336.3 197.7 1357.8 175.5 1370.7 171.4 C1383.6 167.3 1389.8 179.3 1400.4 178.4 C1411 177.5 1423.9 170.7 1434.4 166 C1444.9 161.3 1453.8 154.8 1463.4 150.5 C1473 146.2 1481.6 143.6 1492.1 140.4 C1502.6 137.2 1515 134.5 1526.4 131.6 C1537.8 128.7 1549.3 124.8 1560.3 122.8 C1571.3 120.8 1587.1 119.9 1592.5 119.3" stroke-width="18" stroke-opacity="0.085"/>
<path d="M1204.5 299 C1209.4 300 1224 306.8 1233.8 304.8 C1243.6 302.9 1253.4 291.9 1263.4 287.3 C1273.4 282.7 1283.7 280.4 1294 277.3 C1304.3 274.2 1314 273 1325.3 268.6 C1336.6 264.2 1348.2 255.4 1362.1 251.1 C1376 246.8 1396.5 245 1408.8 242.5 C1421 240 1426.8 239 1435.6 236 C1444.4 233 1452.3 228 1461.7 224.3 C1471.1 220.6 1481.2 218.4 1492.1 214 C1503 209.6 1515.9 201.4 1527.1 198 C1538.3 194.6 1548.5 196.7 1559.3 193.7 C1570.1 190.7 1581.8 186.8 1591.8 180 C1601.8 173.2 1610 158.7 1619.3 153 C1628.5 147.3 1638.1 149 1647.3 146 C1656.5 143 1665.7 138.1 1674.6 135.1 C1683.5 132.1 1692 131.1 1700.5 128.1 C1709 125.1 1717.2 119.9 1725.4 116.9 C1733.6 113.9 1743.2 112.2 1749.6 110.2 C1756 108.2 1761.6 105.7 1764 104.8" stroke-width="18" stroke-opacity="0.085"/>
<path d="M1790 95.1 C1791.6 94.5 1794 93.5 1799.5 91.6 C1805 89.6 1815.1 86.2 1822.9 83.4 C1830.7 80.6 1838.3 77.4 1846.2 74.5 C1854.1 71.6 1862.3 68.8 1870.3 65.9 C1878.3 63 1886.4 59.9 1894.1 57 C1901.8 54.1 1908.5 51.9 1916.2 48.8 C1923.9 45.7 1932.9 41.3 1940.3 38.3 C1947.7 35.3 1953.5 33.4 1960.6 30.9 C1967.7 28.4 1974.6 26.2 1982.8 23.2 C1991 20.2 2005.5 14.7 2010 13" stroke-width="40" stroke-opacity="0.060"/>
<path d="M1788 348.5 C1791.8 346.9 1803.4 342 1811.1 338.7 C1818.8 335.4 1830.2 330.4 1834 328.8" stroke-width="18" stroke-opacity="0.085"/>
<path d="M1860 320.8 C1863.7 319.2 1874.6 314.1 1882.1 311.2 C1889.6 308.3 1897.2 306.2 1905 303.2 C1912.8 300.2 1920.5 296.4 1928.7 293.1 C1936.9 289.8 1946.4 286.1 1954 283.2 C1961.6 280.3 1966.8 278.7 1974.3 275.8 C1981.8 272.9 1990.3 269.3 1998.9 265.7 C2007.5 262.1 2016.5 258 2026 254.1 C2035.5 250.2 2051 244.3 2056 242.4" stroke-width="40" stroke-opacity="0.060"/>
<path d="M1592.5 119.3 C1595.8 115.8 1605.2 104.9 1612 98 C1618.8 91.1 1628.3 83.7 1633 78 C1637.7 72.3 1638.8 66.3 1640 64" stroke-width="22" stroke-opacity="0.090"/>
<path d="M1592.5 119.3 C1595.8 115.8 1605.2 104.9 1612 98 C1618.8 91.1 1628.3 83.7 1633 78 C1637.7 72.3 1638.8 66.3 1640 64" stroke-width="10" stroke-opacity="0.050"/>
</g>
<g fill="none" stroke="#fff" stroke-linecap="round" stroke-linejoin="round" filter="url(#b2c)">
<path d="M1790 95.1 C1791.6 94.5 1794 93.5 1799.5 91.6 C1805 89.6 1815.1 86.2 1822.9 83.4 C1830.7 80.6 1838.3 77.4 1846.2 74.5 C1854.1 71.6 1862.3 68.8 1870.3 65.9 C1878.3 63 1886.4 59.9 1894.1 57 C1901.8 54.1 1908.5 51.9 1916.2 48.8 C1923.9 45.7 1932.9 41.3 1940.3 38.3 C1947.7 35.3 1953.5 33.4 1960.6 30.9 C1967.7 28.4 1974.6 26.2 1982.8 23.2 C1991 20.2 2005.5 14.7 2010 13" stroke-width="27" stroke-opacity="0.070"/>
<path d="M1860 320.8 C1863.7 319.2 1874.6 314.1 1882.1 311.2 C1889.6 308.3 1897.2 306.2 1905 303.2 C1912.8 300.2 1920.5 296.4 1928.7 293.1 C1936.9 289.8 1946.4 286.1 1954 283.2 C1961.6 280.3 1966.8 278.7 1974.3 275.8 C1981.8 272.9 1990.3 269.3 1998.9 265.7 C2007.5 262.1 2016.5 258 2026 254.1 C2035.5 250.2 2051 244.3 2056 242.4" stroke-width="27" stroke-opacity="0.070"/>
</g>
<g fill="none" stroke="#fff" stroke-linecap="round" stroke-linejoin="round">
<path d="M1286.8 79.1 C1290.9 78.7 1303 77.1 1311.5 76.8 C1320 76.5 1329 77.1 1338.1 77.3 C1347.2 77.5 1356.8 78.5 1366.1 78 C1375.3 77.5 1384.5 76.8 1393.6 74.5 C1402.6 72.2 1411.6 67.5 1420.4 64 C1429.2 60.5 1442.2 55.2 1446.6 53.5" stroke-width="6" stroke-opacity="0.070"/>
<path d="M1790 95.1 C1791.6 94.5 1794 93.5 1799.5 91.6 C1805 89.6 1815.1 86.2 1822.9 83.4 C1830.7 80.6 1838.3 77.4 1846.2 74.5 C1854.1 71.6 1862.3 68.8 1870.3 65.9 C1878.3 63 1886.4 59.9 1894.1 57 C1901.8 54.1 1908.5 51.9 1916.2 48.8 C1923.9 45.7 1932.9 41.3 1940.3 38.3 C1947.7 35.3 1953.5 33.4 1960.6 30.9 C1967.7 28.4 1974.6 26.2 1982.8 23.2 C1991 20.2 2005.5 14.7 2010 13" stroke-width="18.5" stroke-opacity="0.050"/>
<path d="M1860 320.8 C1863.7 319.2 1874.6 314.1 1882.1 311.2 C1889.6 308.3 1897.2 306.2 1905 303.2 C1912.8 300.2 1920.5 296.4 1928.7 293.1 C1936.9 289.8 1946.4 286.1 1954 283.2 C1961.6 280.3 1966.8 278.7 1974.3 275.8 C1981.8 272.9 1990.3 269.3 1998.9 265.7 C2007.5 262.1 2016.5 258 2026 254.1 C2035.5 250.2 2051 244.3 2056 242.4" stroke-width="18.5" stroke-opacity="0.050"/>
<path d="M1325.3 268.6 C1324.1 271.3 1319.9 279.8 1318 285 C1316.1 290.2 1314.7 297.5 1314 300" stroke-width="5" stroke-opacity="0.100"/>
<path d="M1690.6 133.3 L1695.7 132.2 L1700.8 131.1 L1706.3 129 L1711.4 127 L1716.5 125 L1721.6 123 L1726.7 121 L1731.2 120 L1736.2 118.6 L1741.2 117.3 L1746.2 115.9 L1751.6 114.4 L1756.7 112.6 L1761.7 110.8 L1766.7 108.9 L1771.7 107.1 L1776.7 105.3 L1781.7 103.5 L1786.7 101.6 L1791.7 99.8 L1796.8 98 L1801.7 96.2 L1806.7 94.5 L1811.7 92.8 L1816.7 91.1 L1821.7 89.4 L1826.9 87.6 L1831.9 85.7 L1836.9 83.8 L1841.9 81.9 L1847 80.1 L1851.9 78.3 L1856.9 76.6 L1861.9 74.9 L1866.9 73.1 L1871.9 71.4 L1877 69.5 L1882 67.7 L1887 65.9 L1892.1 64 L1897.1 62.2 L1902.1 60.4 L1907.1 58.6 L1912.1 56.8 L1917.1 54.9 L1922.4 52.8 L1927.5 50.6 L1932.5 48.5 L1937.5 46.3 L1942.5 44.2 L1947.2 42.5 L1952.2 40.8 L1957.2 39 L1962.2 37.2 L1967.1 35.5 L1972.1 33.8 L1977.2 32.1 L1982.2 30.4 L1987.3 28.6 L1992.4 26.8 L1997.4 25 L2002.4 23.1 L2007.4 21.3 L2012.4 19.4 L2007.6 6.6 L2002.6 8.5 L1997.6 10.4 L1992.6 12.3 L1987.6 14.2 L1982.7 16.1 L1977.8 17.9 L1972.8 19.7 L1967.9 21.5 L1962.9 23.2 L1957.8 25 L1952.8 26.9 L1947.8 28.8 L1942.8 30.6 L1937.5 32.7 L1932.5 34.9 L1927.5 37.1 L1922.5 39.3 L1917.6 41.5 L1912.9 43.5 L1907.9 45.4 L1902.9 47.3 L1897.9 49.2 L1892.9 51.1 L1887.9 53 L1883 54.9 L1878 56.9 L1873 58.8 L1868.1 60.6 L1863.1 62.5 L1858.1 64.3 L1853.1 66.1 L1848.1 67.9 L1843 69.8 L1838.1 71.8 L1833.1 73.7 L1828.1 75.7 L1823.1 77.6 L1818.3 79.4 L1813.3 81.2 L1808.3 83 L1803.3 84.8 L1798.3 86.6 L1793.2 88.5 L1788.3 90.4 L1783.3 92.3 L1778.3 94.2 L1773.3 96.1 L1768.3 98 L1763.3 99.9 L1758.3 101.9 L1753.3 103.8 L1748.4 105.7 L1743.8 107 L1738.8 108.4 L1733.8 109.9 L1728.8 111.3 L1723.3 113.2 L1718.4 115.7 L1713.5 118.2 L1708.6 120.6 L1703.7 123.1 L1699.2 125.3 L1694.3 126.9 L1689.4 128.5 z" fill="#fff" fill-opacity="0.100" stroke="none"/>
<path d="M1730.3 116.6 L1735.3 115.3 L1740.3 113.9 L1745.3 112.6 L1750.4 111.3 L1755.5 109.4 L1760.5 107.6 L1765.5 105.8 L1770.5 104 L1775.6 102.2 L1780.6 100.4 L1785.6 98.7 L1790.6 96.9 L1795.7 95.1 L1800.7 93.3 L1805.7 91.6 L1810.7 89.9 L1815.7 88.2 L1820.8 86.6 L1825.8 84.8 L1830.9 82.9 L1835.9 81.1 L1840.9 79.3 L1845.9 77.4 L1850.9 75.7 L1855.9 74 L1861 72.2 L1866 70.5 L1871 68.8 L1876.1 67 L1881.1 65.2 L1886.1 63.4 L1891.1 61.6 L1896.2 59.8 L1901.2 58 L1906.2 56.2 L1911.2 54.4 L1916.3 52.6 L1921.5 50.5 L1926.5 48.4 L1931.5 46.3 L1936.6 44.2 L1941.6 42.1 L1946.4 40.4 L1951.4 38.6 L1956.4 36.9 L1961.5 35.1 L1966.4 33.4 L1971.4 31.8 L1976.5 30.1 L1981.5 28.4 L1986.6 26.7 L1991.6 24.9 L1996.7 23.1 L2001.7 21.2 L2006.7 19.4 L2011.7 17.5 L2008.3 8.5 L2003.3 10.4 L1998.3 12.3 L1993.3 14.2 L1988.4 16.1 L1983.4 18.1 L1978.5 19.9 L1973.5 21.7 L1968.6 23.5 L1963.6 25.3 L1958.5 27.1 L1953.6 29 L1948.6 30.9 L1943.6 32.8 L1938.4 34.8 L1933.4 37 L1928.5 39.3 L1923.5 41.5 L1918.5 43.8 L1913.7 45.9 L1908.8 47.8 L1903.8 49.7 L1898.8 51.6 L1893.8 53.5 L1888.9 55.5 L1883.9 57.4 L1878.9 59.4 L1873.9 61.3 L1869 63.2 L1864 65.1 L1859 66.9 L1854.1 68.8 L1849.1 70.6 L1844.1 72.5 L1839.1 74.5 L1834.1 76.5 L1829.1 78.4 L1824.2 80.4 L1819.2 82.3 L1814.3 84.1 L1809.3 85.9 L1804.3 87.7 L1799.3 89.5 L1794.3 91.5 L1789.4 93.4 L1784.4 95.3 L1779.4 97.2 L1774.4 99.2 L1769.5 101.1 L1764.5 103 L1759.5 105 L1754.5 106.9 L1749.6 108.8 L1744.7 110.3 L1739.7 111.7 L1734.7 113.2 L1729.7 114.6 z" fill="#fff" fill-opacity="0.140" stroke="none"/>
<path d="M2010 13.5 L2010 12.5 z" fill="#fff" fill-opacity="0.070" stroke="none"/>
<path d="M1791 350 L1796.4 348.8 L1801.8 347.6 L1806.8 345.5 L1811.8 343.4 L1816.8 341.3 L1821.9 339.2 L1826.9 337 L1831.9 334.9 L1836.9 332.8 L1841.4 331.5 L1846.4 330.1 L1851.4 328.7 L1856.4 327.3 L1862 325.4 L1867 323.3 L1872.1 321.2 L1877.1 319.1 L1882.1 316.9 L1886.7 315.2 L1891.8 313.5 L1896.8 311.8 L1901.8 310.1 L1906.8 308.4 L1912.2 306.2 L1917.2 304.1 L1922.2 302 L1927.2 299.9 L1932.1 297.9 L1937.1 296 L1942.1 294.1 L1947.1 292.2 L1952.2 290.3 L1957 288.4 L1962.1 286.7 L1967.1 284.9 L1972.1 283.1 L1977.3 281.2 L1982.4 279.2 L1987.4 277.2 L1992.4 275.2 L1997.4 273.2 L2002.5 271.1 L2007.5 269 L2012.5 266.9 L2017.6 264.8 L2022.6 262.7 L2027.6 260.6 L2032.4 258.7 L2037.4 256.8 L2042.5 254.9 L2047.5 253 L2052.5 251.1 L2057.5 249.1 L2058.5 248.8 L2053.5 236 L2052.5 236.4 L2047.5 238.4 L2042.5 240.4 L2037.5 242.3 L2032.6 244.3 L2027.6 246.3 L2022.4 248.4 L2017.4 250.6 L2012.4 252.8 L2007.5 255 L2002.5 257.2 L1997.5 259.4 L1992.6 261.4 L1987.6 263.5 L1982.6 265.6 L1977.6 267.7 L1972.7 269.8 L1967.9 271.6 L1962.9 273.5 L1957.9 275.4 L1953 277.2 L1947.8 279.3 L1942.9 281.3 L1937.9 283.3 L1932.9 285.3 L1927.9 287.3 L1922.8 289.5 L1917.8 291.6 L1912.8 293.8 L1907.8 296 L1903.2 298 L1898.2 299.8 L1893.2 301.6 L1888.2 303.4 L1883.3 305.2 L1877.9 307.3 L1872.9 309.5 L1867.9 311.7 L1863 313.9 L1858 316.2 L1853.6 317.7 L1848.6 319.2 L1843.6 320.7 L1838.6 322.1 L1833.1 323.9 L1828.1 326.1 L1823.1 328.3 L1818.1 330.5 L1813.2 332.8 L1808.2 334.9 L1803.2 337.1 L1798.2 339.3 L1793.6 342.3 L1789 345.4 z" fill="#fff" fill-opacity="0.100" stroke="none"/>
<path d="M1800.4 344.3 L1805.4 342.3 L1810.5 340.2 L1815.5 338.1 L1820.5 336.1 L1825.6 334 L1830.6 331.9 L1835.6 329.8 L1840.5 328.4 L1845.5 327 L1850.5 325.6 L1855.5 324.3 L1860.8 322.6 L1865.8 320.5 L1870.8 318.4 L1875.9 316.3 L1880.9 314.2 L1885.8 312.4 L1890.8 310.7 L1895.8 309 L1900.8 307.4 L1905.9 305.7 L1911.1 303.6 L1916.1 301.5 L1921.1 299.4 L1926.2 297.4 L1931.1 295.4 L1936.1 293.5 L1941.2 291.6 L1946.2 289.7 L1951.2 287.9 L1956.2 286 L1961.2 284.3 L1966.2 282.5 L1971.2 280.8 L1976.4 278.9 L1981.4 277 L1986.5 275 L1991.5 273 L1996.5 271 L2001.6 269 L2006.6 266.9 L2011.7 264.9 L2016.7 262.8 L2021.7 260.7 L2026.8 258.7 L2031.7 256.8 L2036.7 254.9 L2041.7 253 L2046.7 251.2 L2051.7 249.2 L2056.8 247.3 L2057.8 246.9 L2054.2 237.9 L2053.2 238.3 L2048.3 240.3 L2043.3 242.2 L2038.3 244.2 L2033.3 246.3 L2028.3 248.3 L2023.2 250.4 L2018.3 252.6 L2013.3 254.8 L2008.3 257 L2003.4 259.2 L1998.4 261.5 L1993.5 263.6 L1988.5 265.7 L1983.5 267.8 L1978.6 270 L1973.6 272.1 L1968.8 274 L1963.8 275.8 L1958.8 277.7 L1953.8 279.6 L1948.8 281.7 L1943.8 283.7 L1938.8 285.7 L1933.9 287.8 L1928.9 289.8 L1923.8 292 L1918.9 294.2 L1913.9 296.4 L1908.9 298.6 L1904.1 300.7 L1899.2 302.5 L1894.2 304.4 L1889.2 306.2 L1884.2 308 L1879.1 310.1 L1874.1 312.3 L1869.2 314.5 L1864.2 316.8 L1859.2 319 L1854.5 320.7 L1849.5 322.2 L1844.5 323.7 L1839.5 325.3 L1834.4 326.9 L1829.4 329.2 L1824.4 331.4 L1819.5 333.6 L1814.5 335.9 L1809.5 338.1 L1804.6 340.3 L1799.6 342.5 z" fill="#fff" fill-opacity="0.140" stroke="none"/>
<path d="M2056 242.9 L2056 241.9 z" fill="#fff" fill-opacity="0.070" stroke="none"/>
</g>
<ellipse cx="1208" cy="58.2" rx="10" ry="30" fill="url(#sp)"/>
<ellipse cx="1208" cy="58.2" rx="9.6" ry="9.6" fill="url(#y)"/>
<ellipse cx="1206.5" cy="110.6" rx="10" ry="26" fill="url(#sp)"/>
<ellipse cx="1206.5" cy="110.6" rx="9" ry="9" fill="url(#g)"/>
<ellipse cx="1214" cy="109.5" rx="11.2" ry="7.5" fill="url(#c)"/>
<ellipse cx="1233.8" cy="86.6" rx="10" ry="30" fill="url(#sp)"/>
<ellipse cx="1233.8" cy="86.6" rx="9.6" ry="9.6" fill="url(#y)"/>
<ellipse cx="1261.1" cy="83.1" rx="10" ry="32" fill="url(#sp)"/>
<ellipse cx="1261.1" cy="83.1" rx="9.6" ry="9.6" fill="url(#r)"/>
<ellipse cx="1286.8" cy="79.1" rx="10" ry="30" fill="url(#sp)"/>
<ellipse cx="1286.8" cy="79.1" rx="11.5" ry="9.6" fill="url(#y)"/>
<ellipse cx="1311.5" cy="76.8" rx="10" ry="26" fill="url(#sp)"/>
<ellipse cx="1311.5" cy="76.8" rx="12.6" ry="8.1" fill="url(#g)"/>
<ellipse cx="1338.1" cy="77.3" rx="10" ry="30" fill="url(#sp)"/>
<ellipse cx="1338.1" cy="77.3" rx="9.6" ry="9.6" fill="url(#y)"/>
<ellipse cx="1366.1" cy="78" rx="10" ry="30" fill="url(#sp)"/>
<ellipse cx="1366.1" cy="78" rx="9.6" ry="9.6" fill="url(#y)"/>
<ellipse cx="1393.6" cy="74.5" rx="10" ry="30" fill="url(#sp)"/>
<ellipse cx="1393.6" cy="74.5" rx="10.5" ry="9.6" fill="url(#y)" transform="rotate(-20 1393.6 74.5)"/>
<ellipse cx="1420.4" cy="64" rx="10" ry="30" fill="url(#sp)"/>
<ellipse cx="1420.4" cy="64" rx="12.4" ry="8.6" fill="url(#y)" transform="rotate(-30 1420.4 64)"/>
<ellipse cx="1446.6" cy="53.5" rx="10" ry="32" fill="url(#sp)"/>
<ellipse cx="1446.6" cy="53.5" rx="11.5" ry="8.6" fill="url(#o)" transform="rotate(-25 1446.6 53.5)"/>
<ellipse cx="1475.7" cy="45.3" rx="10" ry="32" fill="url(#sp)"/>
<ellipse cx="1475.7" cy="45.3" rx="9.6" ry="10.5" fill="url(#o)"/>
<ellipse cx="1506.6" cy="31.8" rx="10" ry="32" fill="url(#sp)"/>
<ellipse cx="1506.6" cy="31.8" rx="9.6" ry="9.6" fill="url(#r)"/>
<ellipse cx="1536.5" cy="31.3" rx="10" ry="32" fill="url(#sp)"/>
<ellipse cx="1536.5" cy="31.3" rx="9.6" ry="9.6" fill="url(#r)"/>
<ellipse cx="1565.6" cy="25.5" rx="10" ry="32" fill="url(#sp)"/>
<ellipse cx="1565.6" cy="25.5" rx="9.6" ry="9.6" fill="url(#o)"/>
<ellipse cx="1222.9" cy="212.5" rx="10" ry="32" fill="url(#sp)"/>
<ellipse cx="1222.9" cy="212.5" rx="9.6" ry="9.6" fill="url(#r)"/>
<ellipse cx="1255.3" cy="207.5" rx="10" ry="32" fill="url(#sp)"/>
<ellipse cx="1255.3" cy="207.5" rx="9.6" ry="9.6" fill="url(#r)"/>
<ellipse cx="1290.3" cy="203.3" rx="10" ry="32" fill="url(#sp)"/>
<ellipse cx="1290.3" cy="203.3" rx="9.6" ry="9.6" fill="url(#o)"/>
<ellipse cx="1322.9" cy="203" rx="10" ry="32" fill="url(#sp)"/>
<ellipse cx="1322.9" cy="203" rx="9.6" ry="9.6" fill="url(#r)"/>
<ellipse cx="1370.7" cy="171.4" rx="10" ry="30" fill="url(#sp)"/>
<ellipse cx="1370.7" cy="171.4" rx="9.6" ry="9.6" fill="url(#y)"/>
<ellipse cx="1400.4" cy="178.4" rx="10" ry="32" fill="url(#sp)"/>
<ellipse cx="1400.4" cy="178.4" rx="9.6" ry="9.6" fill="url(#o)"/>
<ellipse cx="1434.4" cy="166" rx="10" ry="30" fill="url(#sp)"/>
<ellipse cx="1434.4" cy="166" rx="9.6" ry="9.6" fill="url(#y)"/>
<ellipse cx="1463.4" cy="150.5" rx="10" ry="32" fill="url(#sp)"/>
<ellipse cx="1463.4" cy="150.5" rx="9.6" ry="9.6" fill="url(#o)"/>
<ellipse cx="1492.1" cy="140.4" rx="10" ry="32" fill="url(#sp)"/>
<ellipse cx="1492.1" cy="140.4" rx="9.6" ry="9.6" fill="url(#r)"/>
<ellipse cx="1526.4" cy="131.6" rx="10" ry="32" fill="url(#sp)"/>
<ellipse cx="1526.4" cy="131.6" rx="9.6" ry="9.6" fill="url(#o)"/>
<ellipse cx="1560.3" cy="122.8" rx="10" ry="32" fill="url(#sp)"/>
<ellipse cx="1560.3" cy="122.8" rx="9.6" ry="9.6" fill="url(#r)"/>
<ellipse cx="1592.5" cy="119.3" rx="10" ry="32" fill="url(#sp)"/>
<ellipse cx="1592.5" cy="119.3" rx="8.1" ry="11.5" fill="url(#o)" transform="rotate(25 1592.5 119.3)"/>
<ellipse cx="1204.5" cy="299" rx="10" ry="30" fill="url(#sp)"/>
<ellipse cx="1204.5" cy="299" rx="9.6" ry="9.6" fill="url(#y)"/>
<ellipse cx="1233.8" cy="304.8" rx="10" ry="32" fill="url(#sp)"/>
<ellipse cx="1233.8" cy="304.8" rx="9.6" ry="9.6" fill="url(#o)"/>
<ellipse cx="1263.4" cy="287.3" rx="10" ry="32" fill="url(#sp)"/>
<ellipse cx="1263.4" cy="287.3" rx="9.6" ry="9.6" fill="url(#r)"/>
<ellipse cx="1294" cy="277.3" rx="10" ry="32" fill="url(#sp)"/>
<ellipse cx="1294" cy="277.3" rx="9.6" ry="9.6" fill="url(#o)"/>
<ellipse cx="1325.3" cy="268.6" rx="10" ry="30" fill="url(#sp)"/>
<ellipse cx="1325.3" cy="268.6" rx="9.6" ry="9.6" fill="url(#y)"/>
<ellipse cx="1362.1" cy="251.1" rx="10" ry="32" fill="url(#sp)"/>
<ellipse cx="1362.1" cy="251.1" rx="7.7" ry="11.5" fill="url(#r)"/>
<ellipse cx="1408.8" cy="242.5" rx="10" ry="32" fill="url(#sp)"/>
<ellipse cx="1408.8" cy="242.5" rx="11.5" ry="8.6" fill="url(#r)"/>
<ellipse cx="1435.6" cy="236" rx="10" ry="30" fill="url(#sp)"/>
<ellipse cx="1435.6" cy="236" rx="12.4" ry="8.6" fill="url(#y)" transform="rotate(-25 1435.6 236)"/>
<ellipse cx="1461.7" cy="224.3" rx="10" ry="32" fill="url(#sp)"/>
<ellipse cx="1461.7" cy="224.3" rx="9.6" ry="9.6" fill="url(#o)"/>
<ellipse cx="1492.1" cy="214" rx="10" ry="32" fill="url(#sp)"/>
<ellipse cx="1492.1" cy="214" rx="9.6" ry="9.6" fill="url(#r)"/>
<ellipse cx="1527.1" cy="198" rx="10" ry="32" fill="url(#sp)"/>
<ellipse cx="1527.1" cy="198" rx="9.6" ry="9.6" fill="url(#r)"/>
<ellipse cx="1559.3" cy="193.7" rx="10" ry="32" fill="url(#sp)"/>
<ellipse cx="1559.3" cy="193.7" rx="9.6" ry="9.6" fill="url(#o)"/>
<ellipse cx="1591.8" cy="180" rx="10" ry="32" fill="url(#sp)"/>
<ellipse cx="1591.8" cy="180" rx="8.6" ry="11.5" fill="url(#r)" transform="rotate(30 1591.8 180)"/>
<ellipse cx="1619.3" cy="153" rx="10" ry="32" fill="url(#sp)"/>
<ellipse cx="1619.3" cy="153" rx="9.6" ry="9.6" fill="url(#o)"/>
<ellipse cx="1647.3" cy="146" rx="10" ry="32" fill="url(#sp)"/>
<ellipse cx="1647.3" cy="146" rx="9.6" ry="9.6" fill="url(#r)"/>
<ellipse cx="1674.6" cy="135.1" rx="10" ry="32" fill="url(#sp)"/>
<ellipse cx="1674.6" cy="135.1" rx="9.6" ry="9.6" fill="url(#r)"/>
<ellipse cx="1700.5" cy="128.1" rx="10" ry="30" fill="url(#sp)"/>
<ellipse cx="1700.5" cy="128.1" rx="12.4" ry="8.6" fill="url(#y)" transform="rotate(-20 1700.5 128.1)"/>
<ellipse cx="1725.4" cy="116.9" rx="10" ry="30" fill="url(#sp)"/>
<ellipse cx="1725.4" cy="116.9" rx="10.5" ry="9.6" fill="url(#y)" transform="rotate(-20 1725.4 116.9)"/>
<ellipse cx="1749.6" cy="110.2" rx="11.6" ry="10" fill="url(#m)" transform="rotate(-20 1749.6 110.2)"/>
<ellipse cx="1775" cy="100.7" rx="11.7" ry="10" fill="url(#mo)" transform="rotate(-20 1775 100.7)"/>
<ellipse cx="1799.5" cy="91.6" rx="11.8" ry="10" fill="url(#m)" transform="rotate(-20 1799.5 91.6)"/>
<ellipse cx="1822.9" cy="83.4" rx="11.9" ry="10" fill="url(#mo)" transform="rotate(-20 1822.9 83.4)"/>
<ellipse cx="1846.2" cy="74.5" rx="12" ry="10" fill="url(#m)" transform="rotate(-20 1846.2 74.5)"/>
<ellipse cx="1870.3" cy="65.9" rx="12" ry="10" fill="url(#m)" transform="rotate(-20 1870.3 65.9)"/>
<ellipse cx="1894.1" cy="57" rx="12.1" ry="10" fill="url(#m)" transform="rotate(-20 1894.1 57)"/>
<ellipse cx="1916.2" cy="48.8" rx="12.2" ry="10" fill="url(#m)" transform="rotate(-20 1916.2 48.8)"/>
<ellipse cx="1940.3" cy="38.3" rx="12.3" ry="10" fill="url(#m)" transform="rotate(-20 1940.3 38.3)"/>
<ellipse cx="1960.6" cy="30.9" rx="12.4" ry="10" fill="url(#m)" transform="rotate(-20 1960.6 30.9)"/>
<ellipse cx="1982.8" cy="23.2" rx="12.5" ry="10" fill="url(#m)" transform="rotate(-20 1982.8 23.2)"/>
<ellipse cx="1811.1" cy="338.7" rx="11.5" ry="10" fill="url(#m)" transform="rotate(-22 1811.1 338.7)"/>
<ellipse cx="1835.6" cy="328.1" rx="11.7" ry="10" fill="url(#mo)" transform="rotate(-22 1835.6 328.1)"/>
<ellipse cx="1858.4" cy="321.5" rx="11.8" ry="10" fill="url(#m)" transform="rotate(-22 1858.4 321.5)"/>
<ellipse cx="1882.1" cy="311.2" rx="11.9" ry="10" fill="url(#mo)" transform="rotate(-22 1882.1 311.2)"/>
<ellipse cx="1905" cy="303.2" rx="11.9" ry="10" fill="url(#m)" transform="rotate(-22 1905 303.2)"/>
<ellipse cx="1928.7" cy="293.1" rx="12.1" ry="10" fill="url(#m)" transform="rotate(-22 1928.7 293.1)"/>
<ellipse cx="1954" cy="283.2" rx="12.2" ry="10" fill="url(#m)" transform="rotate(-22 1954 283.2)"/>
<ellipse cx="1974.3" cy="275.8" rx="12.2" ry="10" fill="url(#m)" transform="rotate(-22 1974.3 275.8)"/>
<ellipse cx="1998.9" cy="265.7" rx="12.4" ry="10" fill="url(#m)" transform="rotate(-22 1998.9 265.7)"/>
<ellipse cx="2026" cy="254.1" rx="12.5" ry="10" fill="url(#m)" transform="rotate(-22 2026 254.1)"/>
</g></g>
<g fill="none" stroke="#000" stroke-width="2.4">
<rect x="1207" y="20.5" width="835.2" height="319.9"/>
<path d="M1207 340.4v10.5M1624.6 340.4v10.5M2042.2 340.4v10.5M1207 20.5h-10.5M1207 180.4h-10.5M1207 340.4h-10.5"/>
</g>
<text class="pl" x="1065" y="32.4">c</text>
<text class="lab" x="1205" y="377.9" text-anchor="middle">0</text>
<text class="lab" x="1622.6" y="377.9" text-anchor="middle">3</text>
<text class="lab" x="2040.2" y="377.9" text-anchor="middle">6</text>
<text class="lab" x="1186.3" y="27.6" text-anchor="end">10</text>
<text class="lab" x="1186.3" y="190.5" text-anchor="end">5</text>
<text class="lab" x="1186.3" y="349.6" text-anchor="end">0</text>
<text class="lab" x="1627.3" y="411" text-anchor="middle">Time (µs)</text>
<text class="lab" transform="translate(1131.4 198.5) rotate(-90)" text-anchor="middle">Co-rotating time (ps)</text>
<g clip-path="url(#cpd)"><g filter="url(#jetd)">
<rect x="1188.2" y="436.0" width="875.6" height="359.7" fill="#000"/>
<g stroke="none" filter="url(#b2d)">
<linearGradient id="txd0" x1="0" x2="1" y1="0" y2="0"><stop offset="0" stop-color="#fff" stop-opacity="0.040"/><stop offset="0.701" stop-color="#fff" stop-opacity="0.040"/><stop offset="1" stop-color="#fff" stop-opacity="0"/></linearGradient>
<rect x="1188" y="436" width="422" height="360" fill="url(#txd0)"/>
<path d="M1217.2 422.2 q14.3 52.3 4.7 118.7 q-13.9 -65.9 -4.7 -118.7 z" fill="#000" fill-opacity="0.74"/>
<path d="M1207.1 550.5 q21.7 38.1 -4.8 70.7 q-7.2 -27.9 4.8 -70.7 z" fill="#000" fill-opacity="0.78"/>
<path d="M1213.1 638.2 q5.9 48.2 -8.3 74.8 q-7 -35.3 8.3 -74.8 z" fill="#000" fill-opacity="0.77"/>
<path d="M1216.2 730.4 q17.2 46.4 1.8 114.7 q-14.7 -43.4 -1.8 -114.7 z" fill="#000" fill-opacity="0.69"/>
<path d="M1240.6 402.2 q7 34.6 6.4 79.6 q-26.5 -28.5 -6.4 -79.6 z" fill="#000" fill-opacity="0.69"/>
<path d="M1230.7 480.2 q12.7 53.2 0.7 107.3 q-14.9 -51.6 -0.7 -107.3 z" fill="#000" fill-opacity="0.89"/>
<path d="M1232.7 578.3 q10.8 57.6 -8.7 102.7 q-13.6 -53.6 8.7 -102.7 z" fill="#000" fill-opacity="0.98"/>
<path d="M1235.3 679 q8.6 63.9 8.8 145 q-24.9 -58.9 -8.8 -145 z" fill="#000" fill-opacity="0.85"/>
<path d="M1259.7 397 q24.4 28.9 -4.3 63.1 q-6.1 -26.9 4.3 -63.1 z" fill="#000" fill-opacity="0.86"/>
<path d="M1258.6 447.7 q18.2 48.7 -5 77.9 q-9.9 -34.1 5 -77.9 z" fill="#000" fill-opacity="0.74"/>
<path d="M1263.7 534.8 q22.6 50.8 0.2 110.5 q-11.8 -51.4 -0.2 -110.5 z" fill="#000" fill-opacity="0.92"/>
<path d="M1259.8 665.8 q23.9 63.6 -5.1 129.6 q-4.9 -58.6 5.1 -129.6 z" fill="#000" fill-opacity="0.86"/>
<path d="M1265.1 770.9 q11.4 36.2 -1.1 78.1 q-9 -45.7 1.1 -78.1 z" fill="#000" fill-opacity="0.74"/>
<path d="M1284.8 376.3 q11 43.5 3.4 80 q-23.2 -43.8 -3.4 -80 z" fill="#000" fill-opacity="0.70"/>
<path d="M1290.5 478.1 q9.5 75 -4.7 119.1 q-5.8 -72.6 4.7 -119.1 z" fill="#000" fill-opacity="0.79"/>
<path d="M1290.3 590.9 q18.1 88.2 -1.5 144.1 q-1.2 -86.3 1.5 -144.1 z" fill="#000" fill-opacity="0.95"/>
<path d="M1287 734.7 q2.8 63.7 1.8 131.4 q-20.4 -76.9 -1.8 -131.4 z" fill="#000" fill-opacity="0.78"/>
<path d="M1318.6 443.7 q10.5 53.2 9.9 82.3 q-28.9 -51.7 -9.9 -82.3 z" fill="#000" fill-opacity="0.65"/>
<path d="M1315.3 557.8 q6.6 61 -9.4 95.8 q-8.8 -56.7 9.4 -95.8 z" fill="#000" fill-opacity="0.98"/>
<path d="M1320.7 683.9 q12.2 56 -8.6 107.1 q-5.5 -63 8.6 -107.1 z" fill="#000" fill-opacity="0.97"/>
<path d="M1341.4 399.5 q16.8 30.1 -2.2 78 q-13.9 -32.5 2.2 -78 z" fill="#000" fill-opacity="0.82"/>
<path d="M1344.4 469.8 q2.8 75.9 1.2 137.4 q-19 -76.4 -1.2 -137.4 z" fill="#000" fill-opacity="0.95"/>
<path d="M1344.1 623.7 q10.5 45.3 4.1 98.2 q-24.7 -54.7 -4.1 -98.2 z" fill="#000" fill-opacity="0.87"/>
<path d="M1351.5 727.8 q9.4 41.3 6.6 102.6 q-22 -55.5 -6.6 -102.6 z" fill="#000" fill-opacity="0.82"/>
<path d="M1369.2 438.3 q15.9 49.8 -0.3 108 q-11.3 -68.9 0.3 -108 z" fill="#000" fill-opacity="0.89"/>
<path d="M1374.2 551.5 q16.6 27.5 1.8 62.1 q-5.4 -29.3 -1.8 -62.1 z" fill="#000" fill-opacity="0.70"/>
<path d="M1372 628.1 q21.5 59.5 -3 91.5 q-8.4 -43.9 3 -91.5 z" fill="#000" fill-opacity="0.84"/>
<path d="M1369.5 704.8 q16.8 58.8 -7.7 140.8 q2.1 -65.7 7.7 -140.8 z" fill="#000" fill-opacity="0.93"/>
<path d="M1408.1 401.1 q6.1 68.2 6.4 129.3 q-20.8 -53.2 -6.4 -129.3 z" fill="#000" fill-opacity="0.94"/>
<path d="M1404.8 542.6 q15.9 35.1 2.5 93.9 q-7.9 -53.9 -2.5 -93.9 z" fill="#000" fill-opacity="0.95"/>
<path d="M1410 633.1 q8.6 29.8 -0.6 80.8 q-11.7 -44.4 0.6 -80.8 z" fill="#000" fill-opacity="0.82"/>
<path d="M1402.1 727.6 q16.3 76 9.5 140.9 q-16.8 -51 -9.5 -140.9 z" fill="#000" fill-opacity="0.81"/>
<path d="M1423.2 396.1 q20.4 39.2 8.5 82 q-15.6 -33.1 -8.5 -82 z" fill="#000" fill-opacity="0.92"/>
<path d="M1433.2 494.1 q21.2 36 4 90.9 q-11 -57.5 -4 -90.9 z" fill="#000" fill-opacity="0.98"/>
<path d="M1425.1 600.3 q5.9 36.8 9.2 87.1 q-27.3 -47 -9.2 -87.1 z" fill="#000" fill-opacity="0.71"/>
<path d="M1425 675.2 q6.6 51.3 3.2 82.8 q-15.9 -42.9 -3.2 -82.8 z" fill="#000" fill-opacity="0.91"/>
<path d="M1447.5 430.8 q23.5 64.8 0 133.5 q-9.3 -56.4 -0 -133.5 z" fill="#000" fill-opacity="0.80"/>
<path d="M1457.4 561.6 q21.7 50.6 8.7 100.9 q-16.5 -62.9 -8.7 -100.9 z" fill="#000" fill-opacity="0.99"/>
<path d="M1447.8 646.5 q14 52.5 -1.5 117.5 q-19.2 -60.1 1.5 -117.5 z" fill="#000" fill-opacity="0.76"/>
<path d="M1450.9 757.6 q24.3 42.4 -1.1 90.9 q-9.2 -42.3 1.1 -90.9 z" fill="#000" fill-opacity="0.80"/>
<path d="M1485.1 389 q22.9 67.1 -0.4 105.8 q-8.2 -66.8 0.4 -105.8 z" fill="#000" fill-opacity="0.91"/>
<path d="M1489.2 503.9 q11.2 32.8 -2.2 92.4 q-13.3 -52.6 2.2 -92.4 z" fill="#000" fill-opacity="0.91"/>
<path d="M1488.8 596.4 q24 45.9 -5.3 125.3 q-5 -59.4 5.3 -125.3 z" fill="#000" fill-opacity="0.88"/>
<path d="M1489.3 752.7 q17.9 41.1 -4.1 113.5 q-0.1 -50.8 4.1 -113.5 z" fill="#000" fill-opacity="0.66"/>
<path d="M1522.2 374.5 q15.8 30.5 -1.8 67.7 q-1.8 -35.3 1.8 -67.7 z" fill="#000" fill-opacity="0.73"/>
<path d="M1508.5 463 q6.3 51 7.1 134.8 q-28.6 -64.5 -7.1 -134.8 z" fill="#000" fill-opacity="0.66"/>
<path d="M1509.7 583 q17.5 68.3 4.5 117.6 q-11.4 -52.5 -4.5 -117.6 z" fill="#000" fill-opacity="0.66"/>
<path d="M1521.8 712.6 q17.5 67.2 3.5 133.5 q-11.9 -78.1 -3.5 -133.5 z" fill="#000" fill-opacity="0.96"/>
<path d="M1540.8 369.3 q8.1 75.6 0.5 120.6 q-14.5 -76.2 -0.5 -120.6 z" fill="#000" fill-opacity="0.93"/>
<path d="M1541.1 491 q10 21.3 9.9 60 q-34.9 -22.1 -9.9 -60 z" fill="#000" fill-opacity="0.83"/>
<path d="M1546.7 564.5 q8.5 69.9 -2.4 148.9 q-18 -57.6 2.4 -148.9 z" fill="#000" fill-opacity="0.78"/>
<path d="M1548 726.5 q14 49.7 4.4 94 q-14.3 -50.7 -4.4 -94 z" fill="#000" fill-opacity="0.96"/>
<path d="M1577.5 442.8 q22.9 38 -7.8 82 q-2.7 -36.9 7.8 -82 z" fill="#000" fill-opacity="0.87"/>
<path d="M1567.7 527.2 q16.3 57.5 -7.9 118 q-8.9 -67.9 7.9 -118 z" fill="#000" fill-opacity="0.73"/>
<path d="M1572.3 631.5 q13.7 36.9 6.4 86.4 q-14.1 -42.7 -6.4 -86.4 z" fill="#000" fill-opacity="0.85"/>
<path d="M1564.6 713.3 q11.9 71.2 -4.4 128.4 q-13.3 -50.9 4.4 -128.4 z" fill="#000" fill-opacity="0.97"/>
<path d="M1509.8 407.9 q4.1 35.3 0.6 74.4 q-11.9 -44.4 -0.6 -74.4 z" fill="#fff" fill-opacity="0.02"/>
<path d="M1499.2 512.5 q1.5 38.2 -1.9 73.5 q-14.6 -43.5 1.9 -73.5 z" fill="#fff" fill-opacity="0.01"/>
<path d="M1508.9 656.6 q12.6 27.1 -0.6 57.6 q-4.2 -36.8 0.6 -57.6 z" fill="#fff" fill-opacity="0.02"/>
<path d="M1507.9 768.6 q10.4 27.5 -2.4 52.6 q-2.7 -22.8 2.4 -52.6 z" fill="#fff" fill-opacity="0.01"/>
<path d="M1528.6 403.8 q13.7 28.6 4.4 47.6 q-15.6 -28.8 -4.4 -47.6 z" fill="#fff" fill-opacity="0.02"/>
<path d="M1527.2 509.1 q11 20.7 1.5 49.9 q-6.4 -24.6 -1.5 -49.9 z" fill="#fff" fill-opacity="0.04"/>
<path d="M1535.3 621.6 q4.9 45.6 -8.1 79.8 q-5.6 -32.8 8.1 -79.8 z" fill="#fff" fill-opacity="0.03"/>
<path d="M1530.7 727.4 q8.5 21.6 5.6 49.3 q-16.2 -20.8 -5.6 -49.3 z" fill="#fff" fill-opacity="0.04"/>
<path d="M1563 400.5 q10.9 18.9 -9.6 53.3 q0.4 -31.8 9.6 -53.3 z" fill="#fff" fill-opacity="0.03"/>
<path d="M1564.2 492 q11.1 55.9 -8.4 109.8 q-5.3 -60.3 8.4 -109.8 z" fill="#fff" fill-opacity="0.03"/>
<path d="M1570.7 636.5 q4.4 21.7 -9.1 60.4 q-9.5 -29.2 9.1 -60.4 z" fill="#fff" fill-opacity="0.04"/>
<path d="M1571.4 704.1 q5.9 16.8 -7 44.1 q-5.9 -25.9 7 -44.1 z" fill="#fff" fill-opacity="0.03"/>
<path d="M1587.4 432.4 q15.3 47.8 0.4 99.8 q-7.9 -37.9 -0.4 -99.8 z" fill="#fff" fill-opacity="0.03"/>
<path d="M1592.1 600 q9.1 28.8 4.2 59.9 q-10.1 -35.8 -4.2 -59.9 z" fill="#fff" fill-opacity="0.04"/>
<path d="M1584 669.6 q12.6 18.8 9.3 50.7 q-19.5 -32.1 -9.3 -50.7 z" fill="#fff" fill-opacity="0.03"/>
<path d="M1585.1 749.2 q2.8 32.6 7.7 79.4 q-19.4 -32 -7.7 -79.4 z" fill="#fff" fill-opacity="0.03"/>
<path d="M1617.3 407 q3.5 21.6 8.8 44 q-19.4 -26 -8.8 -44 z" fill="#fff" fill-opacity="0.04"/>
<path d="M1621.4 477.7 q13.1 47.2 -9.2 104.1 q6.5 -67.3 9.2 -104.1 z" fill="#fff" fill-opacity="0.04"/>
<path d="M1614.5 584.3 q7.2 26 -8.8 68.3 q-6.7 -43.3 8.8 -68.3 z" fill="#fff" fill-opacity="0.03"/>
<path d="M1611.1 671.6 q4.7 34.8 2.5 62.6 q-16.4 -39 -2.5 -62.6 z" fill="#fff" fill-opacity="0.03"/>
<path d="M1618.9 750.7 q0.6 26 -7.8 73.6 q-5.3 -44.8 7.8 -73.6 z" fill="#fff" fill-opacity="0.05"/>
<path d="M1644.6 425 q12.7 45.9 -6.8 109.6 q6.7 -60.2 6.8 -109.6 z" fill="#fff" fill-opacity="0.04"/>
<path d="M1639.8 563.5 q15.6 29.4 6.2 77.6 q-11.7 -46.3 -6.2 -77.6 z" fill="#fff" fill-opacity="0.04"/>
<path d="M1638.9 701.5 q7.9 42.1 0.2 80.1 q-11.8 -41 -0.2 -80.1 z" fill="#fff" fill-opacity="0.04"/>
<path d="M1664.6 396.6 q10.2 47.6 1.4 92.2 q-15.2 -35 -1.4 -92.2 z" fill="#fff" fill-opacity="0.03"/>
<path d="M1670.9 516.8 q1.9 33.5 3 61 q-20.3 -27.2 -3 -61 z" fill="#fff" fill-opacity="0.04"/>
<path d="M1674.9 600.8 q3.7 57.7 0.3 102.7 q-15.3 -62.5 -0.3 -102.7 z" fill="#fff" fill-opacity="0.04"/>
<path d="M1665.6 731.5 q11.5 36.4 9.3 73.4 q-13.7 -40.7 -9.3 -73.4 z" fill="#fff" fill-opacity="0.03"/>
<path d="M1695.1 425.6 q3.5 30.2 3 77.8 q-15.1 -44.9 -3 -77.8 z" fill="#fff" fill-opacity="0.03"/>
<path d="M1699.9 564.6 q16.5 37.4 -0.8 97.5 q-0.5 -63.2 0.8 -97.5 z" fill="#fff" fill-opacity="0.03"/>
<path d="M1702.9 674.7 q16.1 35.4 2.8 80 q-10.8 -29.1 -2.8 -80 z" fill="#fff" fill-opacity="0.03"/>
<path d="M1700.5 775.9 q8.4 36.3 8.4 71.9 q-25.4 -42.4 -8.4 -71.9 z" fill="#fff" fill-opacity="0.02"/>
<path d="M1734.9 406.2 q5.4 44.3 -2.2 97.7 q-16 -45.9 2.2 -97.7 z" fill="#fff" fill-opacity="0.02"/>
<path d="M1730.3 526.7 q13.3 42.1 -7.7 98.4 q4.4 -50.9 7.7 -98.4 z" fill="#fff" fill-opacity="0.02"/>
<path d="M1727.7 663.1 q12.1 29.3 -5.8 46 q-0.5 -19 5.8 -46 z" fill="#fff" fill-opacity="0.02"/>
<path d="M1733.1 727.5 q6.1 26.4 0.7 63.8 q-7.8 -35.4 -0.7 -63.8 z" fill="#fff" fill-opacity="0.02"/>
<path d="M1748.1 427.5 q12.5 27 4.9 48.9 q-17.4 -20.4 -4.9 -48.9 z" fill="#fff" fill-opacity="0.02"/>
<path d="M1752.2 492.4 q14.4 34.7 -3 58.8 q-1.9 -25 3 -58.8 z" fill="#fff" fill-opacity="0.02"/>
<path d="M1755.4 565.8 q15 36.1 2.2 83.9 q-2.3 -33.2 -2.2 -83.9 z" fill="#fff" fill-opacity="0.02"/>
<path d="M1752.9 707.5 q3.7 25.7 9.6 56.1 q-20.9 -34.2 -9.6 -56.1 z" fill="#fff" fill-opacity="0.02"/>
<path d="M1787.9 426.3 q17.9 49.3 -0.8 89.2 q-5.8 -57.8 0.8 -89.2 z" fill="#fff" fill-opacity="0.01"/>
<path d="M1780 554.7 q10.6 43.4 9.4 96 q-11.7 -58.1 -9.4 -96 z" fill="#fff" fill-opacity="0.01"/>
<path d="M1788.9 688.2 q7.3 38.5 -2.9 78.7 q-6.3 -32.1 2.9 -78.7 z" fill="#fff" fill-opacity="0.01"/>
<path d="M1786.8 774.9 q13.9 46.6 9.4 83.8 q-12.4 -43.9 -9.4 -83.8 z" fill="#fff" fill-opacity="0.01"/>
</g>
<g fill="none" stroke="#fff" stroke-linecap="round" stroke-linejoin="round" filter="url(#b6d)">
<path d="M1211.7 659.8 C1216 658.6 1227.8 655.2 1237.3 652.8 C1246.8 650.4 1258.7 647.6 1268.8 645.3 C1278.9 643 1288.5 640.5 1298 638.8 C1307.5 637 1317.1 636 1326 634.8 C1334.9 633.5 1343.4 631.9 1351.6 631.3 C1359.8 630.6 1367.2 631.5 1375 630.9 C1382.8 630.3 1390.1 629.1 1398.3 627.8 C1406.5 626.5 1415.2 624.9 1423.9 623.2 C1432.7 621.5 1441.7 619.7 1450.8 617.8 C1459.9 615.9 1469.4 613.6 1478.8 611.8 C1488.2 610 1497.1 608.9 1507.3 606.8 C1517.5 604.7 1534.5 600.5 1540 599.3" stroke-width="52" stroke-opacity="0.025"/>
<path d="M1211.7 659.8 C1216 658.6 1227.8 655.2 1237.3 652.8 C1246.8 650.4 1258.7 647.6 1268.8 645.3 C1278.9 643 1288.5 640.5 1298 638.8 C1307.5 637 1317.1 636 1326 634.8 C1334.9 633.5 1343.4 631.9 1351.6 631.3 C1359.8 630.6 1367.2 631.5 1375 630.9 C1382.8 630.3 1390.1 629.1 1398.3 627.8 C1406.5 626.5 1415.2 624.9 1423.9 623.2 C1432.7 621.5 1441.7 619.7 1450.8 617.8 C1459.9 615.9 1469.4 613.6 1478.8 611.8 C1488.2 610 1497.1 608.9 1507.3 606.8 C1517.5 604.7 1534.5 600.5 1540 599.3" stroke-width="30" stroke-opacity="0.040"/>
<path d="M1212.8 734 C1218.5 734.2 1236.1 736.3 1246.7 735.1 C1257.3 733.9 1266.7 729.7 1276.3 727 C1285.9 724.3 1294.2 721.9 1304.3 718.8 C1314.4 715.7 1325.9 710.3 1336.9 708.3 C1347.9 706.3 1360.1 708.2 1370.3 706.7 C1380.5 705.2 1388.8 701.9 1398.3 699.4 C1407.8 696.9 1417.1 695.4 1427 692 C1436.9 688.6 1448 682.9 1457.8 679.1 C1467.5 675.3 1476.5 672.7 1485.5 669 C1494.5 665.3 1503.5 662.4 1511.5 657 C1519.5 651.6 1525.7 642.5 1533.4 636.6 C1541.1 630.7 1553.5 624 1557.5 621.5" stroke-width="52" stroke-opacity="0.025"/>
<path d="M1212.8 734 C1218.5 734.2 1236.1 736.3 1246.7 735.1 C1257.3 733.9 1266.7 729.7 1276.3 727 C1285.9 724.3 1294.2 721.9 1304.3 718.8 C1314.4 715.7 1325.9 710.3 1336.9 708.3 C1347.9 706.3 1360.1 708.2 1370.3 706.7 C1380.5 705.2 1388.8 701.9 1398.3 699.4 C1407.8 696.9 1417.1 695.4 1427 692 C1436.9 688.6 1448 682.9 1457.8 679.1 C1467.5 675.3 1476.5 672.7 1485.5 669 C1494.5 665.3 1503.5 662.4 1511.5 657 C1519.5 651.6 1525.7 642.5 1533.4 636.6 C1541.1 630.7 1553.5 624 1557.5 621.5" stroke-width="30" stroke-opacity="0.040"/>
<path d="M1585.9 556.2 C1590.1 555.1 1602.6 551.6 1611.1 549.6 C1619.6 547.6 1628.5 546 1636.8 544.5 C1645.1 543 1652.9 541.8 1660.8 540.5 C1668.7 539.2 1676.2 538 1684.1 537 C1691.9 536 1700 535.3 1707.9 534.5 C1715.8 533.7 1723.7 533 1731.7 532.1 C1739.7 531.2 1748.7 530.4 1755.7 529.3 C1762.8 528.2 1771 526 1774 525.3" stroke-width="52" stroke-opacity="0.025"/>
<path d="M1585.9 556.2 C1590.1 555.1 1602.6 551.6 1611.1 549.6 C1619.6 547.6 1628.5 546 1636.8 544.5 C1645.1 543 1652.9 541.8 1660.8 540.5 C1668.7 539.2 1676.2 538 1684.1 537 C1691.9 536 1700 535.3 1707.9 534.5 C1715.8 533.7 1723.7 533 1731.7 532.1 C1739.7 531.2 1748.7 530.4 1755.7 529.3 C1762.8 528.2 1771 526 1774 525.3" stroke-width="30" stroke-opacity="0.040"/>
<path d="M1400.1 773.1 C1404.6 772.1 1417.5 769.9 1427.4 767.1 C1437.3 764.4 1448.9 760.1 1459.4 756.6 C1469.9 753.1 1481.2 748.9 1490.6 746.2 C1500 743.5 1507.3 741.6 1515.8 740.2 C1524.3 738.8 1532.8 739 1541.4 738 C1550 737 1558.7 735.7 1567.2 734 C1575.7 732.3 1584 729.3 1592.2 727.9 C1600.4 726.5 1608.3 727 1616.6 725.8 C1624.9 724.6 1633.5 722.5 1641.8 720.9 C1650.1 719.3 1658.4 717.8 1666.5 716 C1674.6 714.2 1682.5 712.2 1690.5 710.4 C1698.5 708.6 1706.2 707.1 1714.2 705.4 C1722.2 703.6 1730.5 701.6 1738.5 699.9 C1746.5 698.2 1756.1 696.5 1762 695.3 C1767.9 694.1 1772 693.1 1774 692.7" stroke-width="52" stroke-opacity="0.025"/>
<path d="M1400.1 773.1 C1404.6 772.1 1417.5 769.9 1427.4 767.1 C1437.3 764.4 1448.9 760.1 1459.4 756.6 C1469.9 753.1 1481.2 748.9 1490.6 746.2 C1500 743.5 1507.3 741.6 1515.8 740.2 C1524.3 738.8 1532.8 739 1541.4 738 C1550 737 1558.7 735.7 1567.2 734 C1575.7 732.3 1584 729.3 1592.2 727.9 C1600.4 726.5 1608.3 727 1616.6 725.8 C1624.9 724.6 1633.5 722.5 1641.8 720.9 C1650.1 719.3 1658.4 717.8 1666.5 716 C1674.6 714.2 1682.5 712.2 1690.5 710.4 C1698.5 708.6 1706.2 707.1 1714.2 705.4 C1722.2 703.6 1730.5 701.6 1738.5 699.9 C1746.5 698.2 1756.1 696.5 1762 695.3 C1767.9 694.1 1772 693.1 1774 692.7" stroke-width="30" stroke-opacity="0.040"/>
</g>
<g fill="none" stroke="#fff" stroke-linecap="round" stroke-linejoin="round" filter="url(#b3d)">
<path d="M1211.7 659.8 C1216 658.6 1227.8 655.2 1237.3 652.8 C1246.8 650.4 1258.7 647.6 1268.8 645.3 C1278.9 643 1288.5 640.5 1298 638.8 C1307.5 637 1317.1 636 1326 634.8 C1334.9 633.5 1343.4 631.9 1351.6 631.3 C1359.8 630.6 1367.2 631.5 1375 630.9 C1382.8 630.3 1390.1 629.1 1398.3 627.8 C1406.5 626.5 1415.2 624.9 1423.9 623.2 C1432.7 621.5 1441.7 619.7 1450.8 617.8 C1459.9 615.9 1469.4 613.6 1478.8 611.8 C1488.2 610 1497.1 608.9 1507.3 606.8 C1517.5 604.7 1534.5 600.5 1540 599.3" stroke-width="18" stroke-opacity="0.085"/>
<path d="M1212.8 734 C1218.5 734.2 1236.1 736.3 1246.7 735.1 C1257.3 733.9 1266.7 729.7 1276.3 727 C1285.9 724.3 1294.2 721.9 1304.3 718.8 C1314.4 715.7 1325.9 710.3 1336.9 708.3 C1347.9 706.3 1360.1 708.2 1370.3 706.7 C1380.5 705.2 1388.8 701.9 1398.3 699.4 C1407.8 696.9 1417.1 695.4 1427 692 C1436.9 688.6 1448 682.9 1457.8 679.1 C1467.5 675.3 1476.5 672.7 1485.5 669 C1494.5 665.3 1503.5 662.4 1511.5 657 C1519.5 651.6 1525.7 642.5 1533.4 636.6 C1541.1 630.7 1553.5 624 1557.5 621.5" stroke-width="18" stroke-opacity="0.085"/>
<path d="M1585.9 556.2 C1590.1 555.1 1602.6 551.6 1611.1 549.6 C1619.6 547.6 1628.5 546 1636.8 544.5 C1645.1 543 1652.9 541.8 1660.8 540.5 C1668.7 539.2 1676.2 538 1684.1 537 C1691.9 536 1700 535.3 1707.9 534.5 C1715.8 533.7 1723.7 533 1731.7 532.1 C1739.7 531.2 1748.7 530.4 1755.7 529.3 C1762.8 528.2 1771 526 1774 525.3" stroke-width="18" stroke-opacity="0.085"/>
<path d="M1800 519.7 C1800.5 519.6 1798.3 520.1 1802.7 519.1 C1807.1 518.2 1818.4 515.7 1826.2 514 C1834 512.4 1841.9 510.7 1849.7 509 C1857.5 507.3 1865.4 505.6 1873.2 503.9 C1881 502.2 1888.9 500.5 1896.7 498.8 C1904.5 497.1 1912.4 495.4 1920.2 493.7 C1928 492 1935.9 490.3 1943.7 488.6 C1951.5 486.9 1959.4 485.2 1967.2 483.5 C1975 481.9 1982.9 480.2 1990.7 478.5 C1998.5 476.8 2003.3 475.7 2014.2 473.4 C2025.1 471 2049 465.8 2056 464.3" stroke-width="40" stroke-opacity="0.060"/>
<path d="M1400.1 773.1 C1404.6 772.1 1417.5 769.9 1427.4 767.1 C1437.3 764.4 1448.9 760.1 1459.4 756.6 C1469.9 753.1 1481.2 748.9 1490.6 746.2 C1500 743.5 1507.3 741.6 1515.8 740.2 C1524.3 738.8 1532.8 739 1541.4 738 C1550 737 1558.7 735.7 1567.2 734 C1575.7 732.3 1584 729.3 1592.2 727.9 C1600.4 726.5 1608.3 727 1616.6 725.8 C1624.9 724.6 1633.5 722.5 1641.8 720.9 C1650.1 719.3 1658.4 717.8 1666.5 716 C1674.6 714.2 1682.5 712.2 1690.5 710.4 C1698.5 708.6 1706.2 707.1 1714.2 705.4 C1722.2 703.6 1730.5 701.6 1738.5 699.9 C1746.5 698.2 1756.1 696.5 1762 695.3 C1767.9 694.1 1772 693.1 1774 692.7" stroke-width="18" stroke-opacity="0.085"/>
<path d="M1800 686.9 C1801.5 686.6 1803.6 686.2 1809 685 C1814.4 683.8 1824.7 681.5 1832.5 679.8 C1840.3 678.1 1848.2 676.4 1856 674.6 C1863.8 672.9 1871.7 671.2 1879.5 669.5 C1887.3 667.8 1895.2 666 1903 664.3 C1910.8 662.6 1918.7 660.9 1926.5 659.1 C1934.3 657.4 1942.2 655.7 1950 654 C1957.8 652.3 1965.7 650.5 1973.5 648.8 C1981.3 647.1 1989.2 645.4 1997 643.7 C2004.8 641.9 2010.7 640.7 2020.5 638.5 C2030.3 636.3 2050.1 632 2056 630.7" stroke-width="40" stroke-opacity="0.060"/>
<path d="M1540 599.3 C1541.2 597.9 1544.8 592.6 1547 591 C1549.2 589.4 1551 589.1 1553 589.8 C1555 590.5 1558 594.1 1559 595" stroke-width="14" stroke-opacity="0.080"/>
<path d="M1562.5 591 C1563.8 588.1 1568 578 1570.3 573.7 C1572.5 569.5 1574.5 567.5 1576 565.5 C1577.5 563.5 1578.9 562.2 1579.5 561.5" stroke-width="14" stroke-opacity="0.080"/>
</g>
<g fill="none" stroke="#fff" stroke-linecap="round" stroke-linejoin="round" filter="url(#b2d)">
<path d="M1800 519.7 C1800.5 519.6 1798.3 520.1 1802.7 519.1 C1807.1 518.2 1818.4 515.7 1826.2 514 C1834 512.4 1841.9 510.7 1849.7 509 C1857.5 507.3 1865.4 505.6 1873.2 503.9 C1881 502.2 1888.9 500.5 1896.7 498.8 C1904.5 497.1 1912.4 495.4 1920.2 493.7 C1928 492 1935.9 490.3 1943.7 488.6 C1951.5 486.9 1959.4 485.2 1967.2 483.5 C1975 481.9 1982.9 480.2 1990.7 478.5 C1998.5 476.8 2003.3 475.7 2014.2 473.4 C2025.1 471 2049 465.8 2056 464.3" stroke-width="27" stroke-opacity="0.070"/>
<path d="M1800 686.9 C1801.5 686.6 1803.6 686.2 1809 685 C1814.4 683.8 1824.7 681.5 1832.5 679.8 C1840.3 678.1 1848.2 676.4 1856 674.6 C1863.8 672.9 1871.7 671.2 1879.5 669.5 C1887.3 667.8 1895.2 666 1903 664.3 C1910.8 662.6 1918.7 660.9 1926.5 659.1 C1934.3 657.4 1942.2 655.7 1950 654 C1957.8 652.3 1965.7 650.5 1973.5 648.8 C1981.3 647.1 1989.2 645.4 1997 643.7 C2004.8 641.9 2010.7 640.7 2020.5 638.5 C2030.3 636.3 2050.1 632 2056 630.7" stroke-width="27" stroke-opacity="0.070"/>
</g>
<g fill="none" stroke="#fff" stroke-linecap="round" stroke-linejoin="round">
<path d="M1237.3 652.8 C1242.5 651.5 1258.7 647.6 1268.8 645.3 C1278.9 643 1288.5 640.5 1298 638.8 C1307.5 637 1317.1 636 1326 634.8 C1334.9 633.5 1343.4 631.9 1351.6 631.3 C1359.8 630.6 1367.2 631.5 1375 630.9 C1382.8 630.3 1390.1 629.1 1398.3 627.8 C1406.5 626.5 1415.2 624.9 1423.9 623.2 C1432.7 621.5 1441.7 619.7 1450.8 617.8 C1459.9 615.9 1469.4 613.6 1478.8 611.8 C1488.2 610 1502.5 607.6 1507.3 606.8" stroke-width="6" stroke-opacity="0.070"/>
<path d="M1800 519.7 C1800.5 519.6 1798.3 520.1 1802.7 519.1 C1807.1 518.2 1818.4 515.7 1826.2 514 C1834 512.4 1841.9 510.7 1849.7 509 C1857.5 507.3 1865.4 505.6 1873.2 503.9 C1881 502.2 1888.9 500.5 1896.7 498.8 C1904.5 497.1 1912.4 495.4 1920.2 493.7 C1928 492 1935.9 490.3 1943.7 488.6 C1951.5 486.9 1959.4 485.2 1967.2 483.5 C1975 481.9 1982.9 480.2 1990.7 478.5 C1998.5 476.8 2003.3 475.7 2014.2 473.4 C2025.1 471 2049 465.8 2056 464.3" stroke-width="18.5" stroke-opacity="0.050"/>
<path d="M1800 686.9 C1801.5 686.6 1803.6 686.2 1809 685 C1814.4 683.8 1824.7 681.5 1832.5 679.8 C1840.3 678.1 1848.2 676.4 1856 674.6 C1863.8 672.9 1871.7 671.2 1879.5 669.5 C1887.3 667.8 1895.2 666 1903 664.3 C1910.8 662.6 1918.7 660.9 1926.5 659.1 C1934.3 657.4 1942.2 655.7 1950 654 C1957.8 652.3 1965.7 650.5 1973.5 648.8 C1981.3 647.1 1989.2 645.4 1997 643.7 C2004.8 641.9 2010.7 640.7 2020.5 638.5 C2030.3 636.3 2050.1 632 2056 630.7" stroke-width="18.5" stroke-opacity="0.050"/>
<path d="M1540 599.3 C1541.2 597.9 1544.8 592.6 1547 591 C1549.2 589.4 1551 589.1 1553 589.8 C1555 590.5 1558 594.1 1559 595" stroke-width="6.5" stroke-opacity="0.120"/>
<path d="M1540 599.3 C1541.2 597.9 1544.8 592.6 1547 591 C1549.2 589.4 1551 589.1 1553 589.8 C1555 590.5 1558 594.1 1559 595" stroke-width="4" stroke-opacity="0.120"/>
<path d="M1562.5 591 C1563.8 588.1 1568 578 1570.3 573.7 C1572.5 569.5 1574.5 567.5 1576 565.5 C1577.5 563.5 1578.9 562.2 1579.5 561.5" stroke-width="4.5" stroke-opacity="0.140"/>
<path d="M1562.5 591 C1563.8 588.1 1568 578 1570.3 573.7 C1572.5 569.5 1574.5 567.5 1576 565.5 C1577.5 563.5 1578.9 562.2 1579.5 561.5" stroke-width="3" stroke-opacity="0.120"/>
<path d="M1563.3 625 C1565.4 633 1572.5 658 1576 672.7 C1579.5 687.5 1583 706.7 1584.4 713.5" stroke-width="3" stroke-opacity="0.070"/>
<path d="M1586.6 558.6 L1591.7 557.4 L1596.7 556.1 L1601.7 554.9 L1606.7 553.6 L1611.7 552.4 L1616.6 551.5 L1621.6 550.5 L1626.6 549.6 L1631.6 548.7 L1636.6 547.7 L1641.5 547 L1646.5 546.2 L1651.5 545.4 L1656.6 544.7 L1661.5 543.9 L1666.5 543.2 L1671.5 542.5 L1676.5 541.8 L1681.6 541.2 L1686.4 540.6 L1691.4 540.1 L1696.4 539.7 L1701.4 539.2 L1706.4 538.7 L1711.4 538.3 L1716.4 537.9 L1721.4 537.4 L1726.4 537 L1731.4 536.5 L1736.5 536 L1741.5 535.5 L1746.5 535.1 L1751.6 534.6 L1757 534 L1762.1 533.1 L1767.1 532.1 L1772.1 531.2 L1777.1 530.2 L1782.2 529.2 L1787.2 528.3 L1792.2 527.3 L1797.3 526.4 L1802.3 525.3 L1807.3 524.3 L1812.3 523.2 L1817.3 522.2 L1822.3 521.1 L1827.3 520.1 L1832.3 519.1 L1837.3 518 L1842.3 517 L1847.3 515.9 L1852.3 514.9 L1857.3 513.8 L1862.4 512.8 L1867.4 511.7 L1872.4 510.7 L1877.4 509.6 L1882.4 508.6 L1887.4 507.6 L1892.4 506.5 L1897.4 505.5 L1902.4 504.4 L1907.4 503.3 L1912.4 502.3 L1917.4 501.2 L1922.4 500.1 L1927.4 499 L1932.4 497.9 L1937.4 496.8 L1942.4 495.8 L1947.4 494.7 L1952.4 493.6 L1957.4 492.5 L1962.4 491.4 L1967.4 490.4 L1972.4 489.3 L1977.4 488.2 L1982.4 487.1 L1987.4 486 L1992.4 484.9 L1997.4 483.9 L2002.4 482.8 L2007.4 481.7 L2012.4 480.6 L2017.4 479.5 L2022.4 478.4 L2027.4 477.4 L2032.4 476.3 L2037.4 475.2 L2042.4 474.1 L2047.4 473 L2052.4 471.9 L2057.4 470.8 L2054.6 457.8 L2049.6 458.8 L2044.6 459.9 L2039.6 461 L2034.6 462.1 L2029.6 463.2 L2024.6 464.3 L2019.6 465.4 L2014.6 466.4 L2009.6 467.5 L2004.6 468.6 L1999.6 469.7 L1994.6 470.8 L1989.6 471.9 L1984.6 472.9 L1979.6 474 L1974.6 475.1 L1969.6 476.2 L1964.6 477.3 L1959.6 478.3 L1954.6 479.4 L1949.6 480.5 L1944.6 481.6 L1939.6 482.7 L1934.6 483.7 L1929.6 484.8 L1924.6 485.9 L1919.6 487 L1914.6 488.1 L1909.6 489.2 L1904.6 490.2 L1899.6 491.3 L1894.6 492.4 L1889.6 493.5 L1884.6 494.7 L1879.6 495.8 L1874.6 496.9 L1869.6 498 L1864.6 499.1 L1859.6 500.3 L1854.7 501.4 L1849.7 502.5 L1844.7 503.6 L1839.7 504.7 L1834.7 505.9 L1829.7 507 L1824.7 508.1 L1819.7 509.2 L1814.7 510.3 L1809.7 511.4 L1804.7 512.6 L1799.7 513.7 L1794.7 514.8 L1789.8 516 L1784.8 517.2 L1779.8 518.4 L1774.9 519.6 L1769.9 520.8 L1764.9 522 L1759.9 523.2 L1755 524.4 L1750.4 525.1 L1745.5 525.8 L1740.5 526.5 L1735.5 527.2 L1730.6 527.8 L1725.6 528.4 L1720.6 528.9 L1715.6 529.5 L1710.6 530.1 L1705.6 530.7 L1700.6 531.3 L1695.6 531.8 L1690.6 532.4 L1685.6 533 L1680.4 533.8 L1675.5 534.6 L1670.5 535.4 L1665.5 536.2 L1660.5 537 L1655.4 537.9 L1650.5 538.8 L1645.5 539.7 L1640.5 540.6 L1635.4 541.6 L1630.4 542.6 L1625.4 543.7 L1620.4 544.7 L1615.4 545.8 L1610.3 546.9 L1605.3 548.3 L1600.3 549.6 L1595.3 551 L1590.3 552.4 L1585.4 553.8 z" fill="#fff" fill-opacity="0.100" stroke="none"/>
<path d="M1740.1 532.1 L1745.1 531.8 L1750.2 531.5 L1755.2 531.2 L1760.5 530.5 L1765.5 529.7 L1770.6 528.8 L1775.6 528 L1780.7 527.2 L1785.8 526.4 L1790.8 525.6 L1795.9 524.8 L1800.9 523.8 L1805.9 522.8 L1810.9 521.8 L1815.9 520.7 L1820.9 519.7 L1825.9 518.7 L1830.9 517.6 L1836 516.6 L1841 515.5 L1846 514.5 L1851 513.5 L1856 512.4 L1861 511.4 L1866 510.4 L1871 509.3 L1876 508.3 L1881 507.2 L1886.1 506.2 L1891.1 505.2 L1896.1 504.1 L1901.1 503.1 L1906.1 502 L1911.1 500.9 L1916.1 499.9 L1921.1 498.8 L1926.1 497.7 L1931.1 496.6 L1936.1 495.5 L1941.1 494.4 L1946.1 493.4 L1951.1 492.3 L1956.1 491.2 L1961.1 490.1 L1966.1 489 L1971.1 488 L1976.1 486.9 L1981.1 485.8 L1986.1 484.7 L1991.1 483.6 L1996.1 482.5 L2001.1 481.5 L2006.1 480.4 L2011.1 479.3 L2016.1 478.2 L2021.1 477.1 L2026.1 476 L2031.1 475 L2036.1 473.9 L2041.1 472.8 L2046.1 471.7 L2051.1 470.6 L2056.1 469.5 L2057.1 469.3 L2054.9 459.3 L2053.9 459.5 L2048.9 460.6 L2043.9 461.7 L2038.9 462.8 L2033.9 463.8 L2028.9 464.9 L2023.9 466 L2018.9 467.1 L2013.9 468.2 L2008.9 469.3 L2003.9 470.4 L1998.9 471.4 L1993.9 472.5 L1988.9 473.6 L1983.9 474.7 L1978.9 475.8 L1973.9 476.8 L1968.9 477.9 L1963.9 479 L1958.9 480.1 L1953.9 481.2 L1948.9 482.3 L1943.9 483.3 L1938.9 484.4 L1933.9 485.5 L1928.9 486.6 L1923.9 487.7 L1918.9 488.7 L1913.9 489.8 L1908.9 490.9 L1903.9 492 L1898.9 493.1 L1893.9 494.2 L1888.9 495.3 L1883.9 496.4 L1879 497.6 L1874 498.7 L1869 499.8 L1864 501 L1859 502.1 L1854 503.2 L1849 504.3 L1844 505.5 L1839 506.6 L1834 507.7 L1829.1 508.8 L1824.1 510 L1819.1 511.1 L1814.1 512.2 L1809.1 513.3 L1804.1 514.5 L1799.1 515.6 L1794.1 516.8 L1789.2 518.1 L1784.2 519.5 L1779.3 520.8 L1774.4 522.2 L1769.4 523.6 L1764.5 524.9 L1759.5 526.3 L1754.8 527.5 L1749.8 528.4 L1744.9 529.3 L1739.9 530.1 z" fill="#fff" fill-opacity="0.140" stroke="none"/>
<path d="M1860.1 507.2 L1865.1 506.2 L1870.1 505.3 L1875.2 504.3 L1880.2 503.3 L1885.2 502.3 L1890.2 501.4 L1895.3 500.4 L1900.3 499.4 L1905.3 498.4 L1910.3 497.4 L1915.4 496.5 L1920.4 495.5 L1925.4 494.5 L1930.4 493.5 L1935.4 492.5 L1940.5 491.6 L1945.5 490.6 L1950.5 489.6 L1955.5 488.6 L1960.6 487.7 L1965.6 486.6 L1970.6 485.5 L1975.6 484.4 L1980.6 483.3 L1985.6 482.2 L1990.6 481.2 L1995.6 480.1 L2000.6 479 L2005.6 477.9 L2010.6 476.8 L2015.6 475.8 L2020.6 474.7 L2025.6 473.6 L2030.6 472.5 L2035.6 471.4 L2040.6 470.3 L2045.6 469.2 L2050.6 468.2 L2055.6 467.1 L2056.6 466.9 L2055.4 461.7 L2054.4 462 L2049.4 463.1 L2044.4 464.1 L2039.4 465.2 L2034.4 466.3 L2029.4 467.4 L2024.4 468.5 L2019.4 469.6 L2014.4 470.7 L2009.4 471.7 L2004.4 472.8 L1999.4 473.9 L1994.4 475 L1989.4 476.1 L1984.4 477.1 L1979.4 478.2 L1974.4 479.3 L1969.4 480.4 L1964.4 481.5 L1959.4 482.6 L1954.5 483.7 L1949.5 484.9 L1944.5 486.1 L1939.5 487.3 L1934.6 488.5 L1929.6 489.7 L1924.6 490.8 L1919.6 492 L1914.6 493.2 L1909.7 494.4 L1904.7 495.6 L1899.7 496.8 L1894.7 498 L1889.8 499.1 L1884.8 500.3 L1879.8 501.5 L1874.8 502.7 L1869.9 503.9 L1864.9 505 L1859.9 506.2 z" fill="#fff" fill-opacity="0.070" stroke="none"/>
<path d="M1592 730.4 L1597.2 730 L1602.2 729.7 L1607.2 729.3 L1612.2 729 L1617.5 728.5 L1622.6 727.6 L1627.6 726.7 L1632.6 725.8 L1637.6 724.9 L1642.6 724 L1647.6 723 L1652.6 722.1 L1657.7 721.2 L1662.7 720.3 L1667.8 719.3 L1672.8 718.2 L1677.8 717.1 L1682.8 716 L1687.9 714.9 L1692.8 713.9 L1697.8 712.9 L1702.8 711.9 L1707.8 710.9 L1712.9 709.9 L1717.9 708.9 L1722.9 707.8 L1728 706.7 L1733 705.7 L1738 704.6 L1742.9 703.7 L1747.9 702.8 L1752.9 702 L1757.9 701.1 L1763 700.3 L1768.1 699.3 L1773.1 698.3 L1778.2 697.3 L1783.2 696.3 L1788.2 695.4 L1793.2 694.4 L1798.3 693.4 L1803.3 692.3 L1808.3 691.3 L1813.3 690.2 L1818.3 689.1 L1823.3 688.1 L1828.3 687 L1833.3 686 L1838.3 684.9 L1843.3 683.8 L1848.4 682.8 L1853.4 681.7 L1858.4 680.6 L1863.4 679.6 L1868.4 678.5 L1873.4 677.5 L1878.4 676.4 L1883.4 675.3 L1888.4 674.3 L1893.4 673.2 L1898.4 672.2 L1903.4 671.1 L1908.4 670 L1913.4 668.9 L1918.4 667.8 L1923.4 666.7 L1928.4 665.6 L1933.4 664.5 L1938.4 663.4 L1943.4 662.3 L1948.4 661.2 L1953.4 660.1 L1958.4 659 L1963.4 657.9 L1968.4 656.8 L1973.4 655.7 L1978.4 654.6 L1983.4 653.5 L1988.4 652.4 L1993.4 651.3 L1998.4 650.2 L2003.4 649.1 L2008.4 648 L2013.4 646.9 L2018.4 645.8 L2023.4 644.7 L2028.4 643.6 L2033.4 642.5 L2038.4 641.4 L2043.4 640.3 L2048.4 639.2 L2053.4 638.1 L2057.4 637.2 L2054.6 624.2 L2050.6 625 L2045.6 626.1 L2040.6 627.2 L2035.6 628.3 L2030.6 629.4 L2025.6 630.5 L2020.6 631.6 L2015.6 632.7 L2010.6 633.8 L2005.6 634.9 L2000.6 636 L1995.6 637.1 L1990.6 638.2 L1985.6 639.3 L1980.6 640.4 L1975.6 641.5 L1970.6 642.6 L1965.6 643.7 L1960.6 644.8 L1955.6 645.9 L1950.6 647 L1945.6 648.1 L1940.6 649.2 L1935.6 650.3 L1930.6 651.4 L1925.6 652.5 L1920.6 653.6 L1915.6 654.7 L1910.6 655.8 L1905.6 656.9 L1900.6 658 L1895.6 659.1 L1890.6 660.2 L1885.6 661.4 L1880.6 662.5 L1875.6 663.7 L1870.6 664.8 L1865.6 665.9 L1860.6 667.1 L1855.6 668.2 L1850.6 669.3 L1845.6 670.5 L1840.7 671.6 L1835.7 672.7 L1830.7 673.9 L1825.7 675 L1820.7 676.1 L1815.7 677.3 L1810.7 678.4 L1805.7 679.6 L1800.7 680.7 L1795.7 681.8 L1790.8 683 L1785.8 684.3 L1780.8 685.5 L1775.8 686.7 L1770.9 687.9 L1765.9 689.1 L1761 690.3 L1756.1 691.4 L1751.1 692.5 L1746.1 693.6 L1741.1 694.7 L1736 695.9 L1731 697.1 L1726 698.3 L1721.1 699.5 L1716.1 700.7 L1711.1 701.8 L1706.2 703 L1701.2 704.1 L1696.2 705.2 L1691.2 706.3 L1686.1 707.5 L1681.2 708.8 L1676.2 710 L1671.2 711.2 L1666.2 712.5 L1661.3 713.5 L1656.3 714.6 L1651.4 715.6 L1646.4 716.7 L1641.4 717.7 L1636.4 718.8 L1631.4 719.8 L1626.4 720.9 L1621.4 721.9 L1616.5 722.9 L1611.8 723.4 L1606.8 723.9 L1601.8 724.4 L1596.8 724.9 L1592 725.4 z" fill="#fff" fill-opacity="0.100" stroke="none"/>
<path d="M1740.2 700.6 L1745.2 699.9 L1750.3 699.2 L1755.4 698.5 L1760.4 697.8 L1765.5 697 L1770.6 696.2 L1775.6 695.4 L1780.7 694.5 L1785.8 693.7 L1790.8 692.9 L1795.9 692.1 L1800.9 691.1 L1805.9 690 L1810.9 689 L1815.9 687.9 L1820.9 686.8 L1826 685.8 L1831 684.7 L1836 683.7 L1841 682.6 L1846 681.6 L1851 680.5 L1856 679.5 L1861 678.4 L1866 677.4 L1871 676.3 L1876.1 675.3 L1881.1 674.2 L1886.1 673.1 L1891.1 672.1 L1896.1 671 L1901.1 670 L1906.1 668.9 L1911.1 667.8 L1916.1 666.7 L1921.1 665.6 L1926.1 664.5 L1931.1 663.4 L1936.1 662.3 L1941.1 661.2 L1946.1 660.1 L1951.1 659 L1956.1 657.9 L1961.1 656.8 L1966.1 655.7 L1971.1 654.6 L1976.1 653.5 L1981.1 652.4 L1986.1 651.3 L1991.1 650.2 L1996.1 649.1 L2001.1 648 L2006.1 646.9 L2011.1 645.8 L2016.1 644.7 L2021.1 643.6 L2026.1 642.5 L2031.1 641.4 L2036.1 640.3 L2041.1 639.2 L2046.1 638.1 L2051.1 637 L2056.1 635.9 L2057.1 635.7 L2054.9 625.7 L2053.9 625.9 L2048.9 627 L2043.9 628.1 L2038.9 629.2 L2033.9 630.3 L2028.9 631.4 L2023.9 632.5 L2018.9 633.6 L2013.9 634.7 L2008.9 635.8 L2003.9 636.9 L1998.9 638 L1993.9 639.1 L1988.9 640.2 L1983.9 641.3 L1978.9 642.4 L1973.9 643.5 L1968.9 644.6 L1963.9 645.7 L1958.9 646.8 L1953.9 647.9 L1948.9 649 L1943.9 650.1 L1938.9 651.2 L1933.9 652.3 L1928.9 653.4 L1923.9 654.5 L1918.9 655.6 L1913.9 656.7 L1908.9 657.8 L1903.9 658.9 L1898.9 660 L1893.9 661.1 L1888.9 662.2 L1883.9 663.4 L1878.9 664.5 L1873.9 665.7 L1869 666.8 L1864 668 L1859 669.1 L1854 670.3 L1849 671.4 L1844 672.5 L1839 673.7 L1834 674.8 L1829 676 L1824 677.1 L1819.1 678.3 L1814.1 679.4 L1809.1 680.5 L1804.1 681.7 L1799.1 682.8 L1794.1 684 L1789.2 685.4 L1784.2 686.8 L1779.3 688.2 L1774.4 689.5 L1769.4 690.9 L1764.5 692.3 L1759.6 693.6 L1754.6 694.9 L1749.7 696.1 L1744.8 697.4 L1739.8 698.6 z" fill="#fff" fill-opacity="0.140" stroke="none"/>
<path d="M1860.1 674.3 L1865.1 673.3 L1870.2 672.3 L1875.2 671.3 L1880.2 670.3 L1885.2 669.3 L1890.2 668.3 L1895.3 667.3 L1900.3 666.3 L1905.3 665.3 L1910.3 664.3 L1915.4 663.3 L1920.4 662.3 L1925.4 661.3 L1930.4 660.3 L1935.4 659.3 L1940.5 658.3 L1945.5 657.3 L1950.5 656.3 L1955.5 655.3 L1960.6 654.3 L1965.6 653.2 L1970.6 652.1 L1975.6 651 L1980.6 649.9 L1985.6 648.8 L1990.6 647.7 L1995.6 646.6 L2000.6 645.5 L2005.6 644.4 L2010.6 643.3 L2015.6 642.2 L2020.6 641.1 L2025.6 640.1 L2030.6 639 L2035.6 637.9 L2040.6 636.8 L2045.6 635.7 L2050.6 634.6 L2055.6 633.5 L2056.6 633.2 L2055.4 628.2 L2054.4 628.4 L2049.4 629.5 L2044.4 630.6 L2039.4 631.7 L2034.4 632.8 L2029.4 633.9 L2024.4 635 L2019.4 636.1 L2014.4 637.2 L2009.4 638.2 L2004.4 639.3 L1999.4 640.4 L1994.4 641.5 L1989.4 642.6 L1984.4 643.7 L1979.4 644.8 L1974.4 645.9 L1969.4 647 L1964.4 648.1 L1959.4 649.2 L1954.5 650.4 L1949.5 651.6 L1944.5 652.8 L1939.5 654 L1934.6 655.2 L1929.6 656.4 L1924.6 657.7 L1919.6 658.9 L1914.6 660.1 L1909.7 661.3 L1904.7 662.5 L1899.7 663.7 L1894.7 664.9 L1889.8 666.1 L1884.8 667.3 L1879.8 668.5 L1874.8 669.7 L1869.8 670.9 L1864.9 672.1 L1859.9 673.3 z" fill="#fff" fill-opacity="0.070" stroke="none"/>
</g>
<ellipse cx="1234.5" cy="455.5" rx="10" ry="30" fill="url(#sp)"/>
<ellipse cx="1234.5" cy="455.5" rx="9.6" ry="9.6" fill="url(#y)"/>
<ellipse cx="1263" cy="454.5" rx="10" ry="26" fill="url(#sp)"/>
<ellipse cx="1263" cy="454.5" rx="9" ry="9" fill="url(#g)"/>
<ellipse cx="1293" cy="454" rx="7.5" ry="7.5" fill="url(#c)"/>
<ellipse cx="1211.7" cy="659.8" rx="10" ry="30" fill="url(#sp)"/>
<ellipse cx="1211.7" cy="659.8" rx="9.6" ry="9.6" fill="url(#y)"/>
<ellipse cx="1237.3" cy="652.8" rx="10" ry="32" fill="url(#sp)"/>
<ellipse cx="1237.3" cy="652.8" rx="11.5" ry="9.6" fill="url(#o)"/>
<ellipse cx="1268.8" cy="645.3" rx="10" ry="30" fill="url(#sp)"/>
<ellipse cx="1268.8" cy="645.3" rx="9.6" ry="9.6" fill="url(#y)"/>
<ellipse cx="1298" cy="638.8" rx="10" ry="30" fill="url(#sp)"/>
<ellipse cx="1298" cy="638.8" rx="9.6" ry="9.6" fill="url(#y)"/>
<ellipse cx="1326" cy="634.8" rx="10" ry="30" fill="url(#sp)"/>
<ellipse cx="1326" cy="634.8" rx="9.6" ry="9.6" fill="url(#y)"/>
<ellipse cx="1351.6" cy="631.3" rx="10" ry="30" fill="url(#sp)"/>
<ellipse cx="1351.6" cy="631.3" rx="9.6" ry="9.6" fill="url(#y)"/>
<ellipse cx="1375" cy="630.9" rx="10" ry="26" fill="url(#sp)"/>
<ellipse cx="1375" cy="630.9" rx="14.4" ry="7.7" fill="url(#g)" transform="rotate(-5 1375 630.9)"/>
<ellipse cx="1398.3" cy="627.8" rx="10" ry="26" fill="url(#sp)"/>
<ellipse cx="1398.3" cy="627.8" rx="9" ry="9" fill="url(#g)"/>
<ellipse cx="1423.9" cy="623.2" rx="10" ry="30" fill="url(#sp)"/>
<ellipse cx="1423.9" cy="623.2" rx="9.6" ry="9.6" fill="url(#y)"/>
<ellipse cx="1450.8" cy="617.8" rx="10" ry="32" fill="url(#sp)"/>
<ellipse cx="1450.8" cy="617.8" rx="9.6" ry="9.6" fill="url(#o)"/>
<ellipse cx="1478.8" cy="611.8" rx="10" ry="30" fill="url(#sp)"/>
<ellipse cx="1478.8" cy="611.8" rx="11.5" ry="9.1" fill="url(#y)"/>
<ellipse cx="1507.3" cy="606.8" rx="10" ry="30" fill="url(#sp)"/>
<ellipse cx="1507.3" cy="606.8" rx="11.5" ry="9.1" fill="url(#y)"/>
<ellipse cx="1540" cy="599.3" rx="7" ry="10.5" fill="url(#wg)" transform="rotate(40 1540 599.3)"/>
<ellipse cx="1212.8" cy="734" rx="10" ry="32" fill="url(#sp)"/>
<ellipse cx="1212.8" cy="734" rx="9.6" ry="9.6" fill="url(#r)"/>
<ellipse cx="1246.7" cy="735.1" rx="10" ry="32" fill="url(#sp)"/>
<ellipse cx="1246.7" cy="735.1" rx="9.6" ry="9.6" fill="url(#r)"/>
<ellipse cx="1276.3" cy="727" rx="10" ry="32" fill="url(#sp)"/>
<ellipse cx="1276.3" cy="727" rx="9.6" ry="9.6" fill="url(#r)"/>
<ellipse cx="1304.3" cy="718.8" rx="10" ry="30" fill="url(#sp)"/>
<ellipse cx="1304.3" cy="718.8" rx="9.6" ry="9.6" fill="url(#y)"/>
<ellipse cx="1336.9" cy="708.3" rx="10" ry="32" fill="url(#sp)"/>
<ellipse cx="1336.9" cy="708.3" rx="9.6" ry="9.6" fill="url(#r)"/>
<ellipse cx="1370.3" cy="706.7" rx="10" ry="32" fill="url(#sp)"/>
<ellipse cx="1370.3" cy="706.7" rx="9.6" ry="9.6" fill="url(#r)"/>
<ellipse cx="1398.3" cy="699.4" rx="10" ry="32" fill="url(#sp)"/>
<ellipse cx="1398.3" cy="699.4" rx="9.6" ry="9.6" fill="url(#o)"/>
<ellipse cx="1427" cy="692" rx="10" ry="32" fill="url(#sp)"/>
<ellipse cx="1427" cy="692" rx="9.6" ry="9.6" fill="url(#o)"/>
<ellipse cx="1457.8" cy="679.1" rx="10" ry="32" fill="url(#sp)"/>
<ellipse cx="1457.8" cy="679.1" rx="9.6" ry="9.6" fill="url(#o)"/>
<ellipse cx="1485.5" cy="669" rx="10" ry="32" fill="url(#sp)"/>
<ellipse cx="1485.5" cy="669" rx="9.6" ry="9.6" fill="url(#o)"/>
<ellipse cx="1511.5" cy="657" rx="10" ry="30" fill="url(#sp)"/>
<ellipse cx="1511.5" cy="657" rx="9.6" ry="9.6" fill="url(#y)"/>
<ellipse cx="1533.4" cy="636.6" rx="10" ry="32" fill="url(#sp)"/>
<ellipse cx="1533.4" cy="636.6" rx="7.7" ry="12.4" fill="url(#o)" transform="rotate(35 1533.4 636.6)"/>
<ellipse cx="1557.5" cy="621.5" rx="10" ry="30" fill="url(#sp)"/>
<ellipse cx="1557.5" cy="621.5" rx="6.7" ry="13.4" fill="url(#y)" transform="rotate(30 1557.5 621.5)"/>
<ellipse cx="1585.9" cy="556.2" rx="10" ry="30" fill="url(#sp)"/>
<ellipse cx="1585.9" cy="556.2" rx="8.6" ry="10.5" fill="url(#y)" transform="rotate(30 1585.9 556.2)"/>
<ellipse cx="1611.1" cy="549.6" rx="10" ry="30" fill="url(#sp)"/>
<ellipse cx="1611.1" cy="549.6" rx="10.5" ry="9.6" fill="url(#y)" transform="rotate(-12 1611.1 549.6)"/>
<ellipse cx="1636.8" cy="544.5" rx="10" ry="30" fill="url(#sp)"/>
<ellipse cx="1636.8" cy="544.5" rx="10.5" ry="9.6" fill="url(#y)" transform="rotate(-12 1636.8 544.5)"/>
<ellipse cx="1660.8" cy="540.5" rx="10" ry="26" fill="url(#sp)"/>
<ellipse cx="1660.8" cy="540.5" rx="9.9" ry="9" fill="url(#g)" transform="rotate(-12 1660.8 540.5)"/>
<ellipse cx="1684.1" cy="537" rx="10" ry="26" fill="url(#sp)"/>
<ellipse cx="1684.1" cy="537" rx="9.9" ry="9" fill="url(#g)" transform="rotate(-12 1684.1 537)"/>
<ellipse cx="1707.9" cy="534.5" rx="10" ry="26" fill="url(#sp)"/>
<ellipse cx="1707.9" cy="534.5" rx="9.9" ry="9" fill="url(#g)" transform="rotate(-12 1707.9 534.5)"/>
<ellipse cx="1731.7" cy="532.1" rx="10" ry="26" fill="url(#sp)"/>
<ellipse cx="1731.7" cy="532.1" rx="9.9" ry="9" fill="url(#g)" transform="rotate(-12 1731.7 532.1)"/>
<ellipse cx="1755.7" cy="529.3" rx="11.8" ry="10" fill="url(#m)" transform="rotate(-12 1755.7 529.3)"/>
<ellipse cx="1779.2" cy="524.2" rx="12.2" ry="10" fill="url(#m)" transform="rotate(-12 1779.2 524.2)"/>
<ellipse cx="1802.7" cy="519.1" rx="12.7" ry="10" fill="url(#m)" transform="rotate(-12 1802.7 519.1)"/>
<ellipse cx="1826.2" cy="514" rx="9.2" ry="7" fill="url(#tg)" transform="rotate(-12 1826.2 514)"/>
<ellipse cx="1849.7" cy="509" rx="9.5" ry="7" fill="url(#tg)" transform="rotate(-12 1849.7 509)"/>
<ellipse cx="1873.2" cy="503.9" rx="9.8" ry="7" fill="url(#tg)" transform="rotate(-12 1873.2 503.9)"/>
<ellipse cx="1896.7" cy="498.8" rx="10.1" ry="7" fill="url(#tg)" transform="rotate(-12 1896.7 498.8)"/>
<ellipse cx="1920.2" cy="493.7" rx="10.5" ry="7" fill="url(#ty)" transform="rotate(-12 1920.2 493.7)"/>
<ellipse cx="1943.7" cy="488.6" rx="10.5" ry="7" fill="url(#tg)" transform="rotate(-12 1943.7 488.6)"/>
<ellipse cx="1967.2" cy="483.5" rx="10.5" ry="7" fill="url(#tg)" transform="rotate(-12 1967.2 483.5)"/>
<ellipse cx="1990.7" cy="478.5" rx="10.5" ry="7" fill="url(#tg)" transform="rotate(-12 1990.7 478.5)"/>
<ellipse cx="2014.2" cy="473.4" rx="10.5" ry="7" fill="url(#tg)" transform="rotate(-12 2014.2 473.4)"/>
<ellipse cx="1400.1" cy="773.1" rx="10" ry="30" fill="url(#sp)"/>
<ellipse cx="1400.1" cy="773.1" rx="9.6" ry="9.6" fill="url(#y)"/>
<ellipse cx="1427.4" cy="767.1" rx="10" ry="32" fill="url(#sp)"/>
<ellipse cx="1427.4" cy="767.1" rx="9.6" ry="9.6" fill="url(#r)"/>
<ellipse cx="1459.4" cy="756.6" rx="10" ry="32" fill="url(#sp)"/>
<ellipse cx="1459.4" cy="756.6" rx="9.6" ry="9.6" fill="url(#r)"/>
<ellipse cx="1490.6" cy="746.2" rx="10" ry="32" fill="url(#sp)"/>
<ellipse cx="1490.6" cy="746.2" rx="9.6" ry="9.6" fill="url(#r)"/>
<ellipse cx="1515.8" cy="740.2" rx="10" ry="30" fill="url(#sp)"/>
<ellipse cx="1515.8" cy="740.2" rx="9.6" ry="9.6" fill="url(#y)"/>
<ellipse cx="1541.4" cy="738" rx="10" ry="32" fill="url(#sp)"/>
<ellipse cx="1541.4" cy="738" rx="9.6" ry="9.6" fill="url(#r)"/>
<ellipse cx="1567.2" cy="734" rx="10" ry="32" fill="url(#sp)"/>
<ellipse cx="1567.2" cy="734" rx="9.6" ry="9.6" fill="url(#r)"/>
<ellipse cx="1592.2" cy="727.9" rx="10" ry="26" fill="url(#sp)"/>
<ellipse cx="1592.2" cy="727.9" rx="11.7" ry="9.9" fill="url(#g)"/>
<ellipse cx="1616.6" cy="725.8" rx="10" ry="30" fill="url(#sp)"/>
<ellipse cx="1616.6" cy="725.8" rx="10.5" ry="9.6" fill="url(#y)" transform="rotate(-12 1616.6 725.8)"/>
<ellipse cx="1641.8" cy="720.9" rx="10" ry="30" fill="url(#sp)"/>
<ellipse cx="1641.8" cy="720.9" rx="10.5" ry="9.6" fill="url(#y)" transform="rotate(-12 1641.8 720.9)"/>
<ellipse cx="1666.5" cy="716" rx="10" ry="30" fill="url(#sp)"/>
<ellipse cx="1666.5" cy="716" rx="10.5" ry="9.6" fill="url(#y)" transform="rotate(-12 1666.5 716)"/>
<ellipse cx="1690.5" cy="710.4" rx="10" ry="30" fill="url(#sp)"/>
<ellipse cx="1690.5" cy="710.4" rx="10.5" ry="9.6" fill="url(#y)" transform="rotate(-12 1690.5 710.4)"/>
<ellipse cx="1714.2" cy="705.4" rx="10" ry="26" fill="url(#sp)"/>
<ellipse cx="1714.2" cy="705.4" rx="9.9" ry="9" fill="url(#g)" transform="rotate(-12 1714.2 705.4)"/>
<ellipse cx="1738.5" cy="699.9" rx="10" ry="26" fill="url(#sp)"/>
<ellipse cx="1738.5" cy="699.9" rx="9.9" ry="9" fill="url(#g)" transform="rotate(-12 1738.5 699.9)"/>
<ellipse cx="1762" cy="695.3" rx="11.9" ry="10" fill="url(#m)" transform="rotate(-12 1762 695.3)"/>
<ellipse cx="1785.5" cy="690.1" rx="12.4" ry="10" fill="url(#m)" transform="rotate(-12 1785.5 690.1)"/>
<ellipse cx="1809" cy="685" rx="12.8" ry="10" fill="url(#m)" transform="rotate(-12 1809 685)"/>
<ellipse cx="1832.5" cy="679.8" rx="9.3" ry="7" fill="url(#tg)" transform="rotate(-12 1832.5 679.8)"/>
<ellipse cx="1856" cy="674.6" rx="9.6" ry="7" fill="url(#tg)" transform="rotate(-12 1856 674.6)"/>
<ellipse cx="1879.5" cy="669.5" rx="9.9" ry="7" fill="url(#tg)" transform="rotate(-12 1879.5 669.5)"/>
<ellipse cx="1903" cy="664.3" rx="10.5" ry="7" fill="url(#ty)" transform="rotate(-12 1903 664.3)"/>
<ellipse cx="1926.5" cy="659.1" rx="10.5" ry="7" fill="url(#ty)" transform="rotate(-12 1926.5 659.1)"/>
<ellipse cx="1950" cy="654" rx="10.5" ry="7" fill="url(#tg)" transform="rotate(-12 1950 654)"/>
<ellipse cx="1973.5" cy="648.8" rx="10.5" ry="7" fill="url(#tg)" transform="rotate(-12 1973.5 648.8)"/>
<ellipse cx="1997" cy="643.7" rx="10.5" ry="7" fill="url(#tg)" transform="rotate(-12 1997 643.7)"/>
<ellipse cx="2020.5" cy="638.5" rx="10.5" ry="7" fill="url(#tg)" transform="rotate(-12 2020.5 638.5)"/>
<ellipse cx="1562.1" cy="612.6" rx="10" ry="32" fill="url(#sp)"/>
<ellipse cx="1562.1" cy="612.6" rx="4.1" ry="7.8" fill="url(#d)"/>
</g></g>
<g fill="none" stroke="#000" stroke-width="2.4">
<rect x="1208.2" y="456" width="835.6" height="319.7"/>
<path d="M1208.2 775.7v10.5M1626 775.7v10.5M2043.8 775.7v10.5M1208.2 456h-10.5M1208.2 615.9h-10.5M1208.2 775.7h-10.5"/>
</g>
<text class="pl" x="1065" y="452.3">d</text>
<text class="lab" x="1208.5" y="816" text-anchor="middle">0</text>
<text class="lab" x="1626.3" y="816" text-anchor="middle">3</text>
<text class="lab" x="2044.1" y="816" text-anchor="middle">6</text>
<text class="lab" x="1186.3" y="469.9" text-anchor="end">10</text>
<text class="lab" x="1186.3" y="631.6" text-anchor="end">5</text>
<text class="lab" x="1186.3" y="786.6" text-anchor="end">0</text>
<text class="lab" x="1631.1" y="848.9" text-anchor="middle">Time (µs)</text>
<text class="lab" transform="translate(1131.4 619.6) rotate(-90)" text-anchor="middle">Co-rotating time (ps)</text>
</svg>
</body></html>
